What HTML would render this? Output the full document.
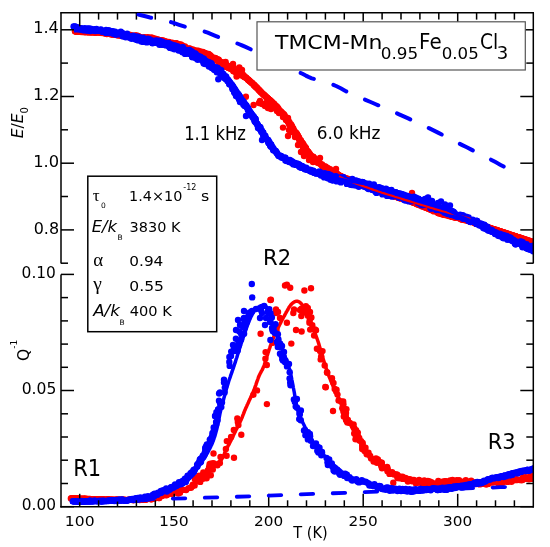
<!DOCTYPE html>
<html><head><meta charset="utf-8"><style>
html,body{margin:0;padding:0;background:#fff;}
#c{position:relative;width:550px;height:547px;overflow:hidden;}
#c svg{position:absolute;left:0;top:0;}
</style></head><body><div id="c">
<svg width="550" height="547" viewBox="0 0 550 547">
<defs><clipPath id="cu"><rect x="61.0" y="12.8" width="472.29999999999995" height="250.7"/></clipPath><clipPath id="cl"><rect x="61.0" y="264.4" width="472.29999999999995" height="242.40000000000003"/></clipPath></defs>
<rect width="550" height="547" fill="#fff"/>
<g fill="#ff0000" clip-path="url(#cu)"><circle cx="75.2" cy="31.3" r="3.2"/><circle cx="75.0" cy="31.2" r="3.2"/><circle cx="76.0" cy="31.2" r="3.2"/><circle cx="75.9" cy="31.2" r="3.2"/><circle cx="76.9" cy="31.2" r="3.2"/><circle cx="76.6" cy="31.8" r="3.2"/><circle cx="78.4" cy="31.7" r="3.2"/><circle cx="77.9" cy="31.6" r="3.2"/><circle cx="79.4" cy="31.2" r="3.2"/><circle cx="79.6" cy="31.3" r="3.2"/><circle cx="80.3" cy="31.4" r="3.2"/><circle cx="81.1" cy="31.7" r="3.2"/><circle cx="81.1" cy="31.5" r="3.2"/><circle cx="81.7" cy="31.2" r="3.2"/><circle cx="81.9" cy="31.8" r="3.2"/><circle cx="83.0" cy="31.8" r="3.2"/><circle cx="83.3" cy="31.4" r="3.2"/><circle cx="84.1" cy="31.4" r="3.2"/><circle cx="85.2" cy="32.2" r="3.2"/><circle cx="85.5" cy="31.5" r="3.2"/><circle cx="86.3" cy="31.6" r="3.2"/><circle cx="86.0" cy="31.3" r="3.2"/><circle cx="87.3" cy="32.0" r="3.2"/><circle cx="87.4" cy="31.8" r="3.2"/><circle cx="88.1" cy="32.0" r="3.2"/><circle cx="88.0" cy="31.9" r="3.2"/><circle cx="89.0" cy="32.4" r="3.2"/><circle cx="90.2" cy="31.1" r="3.2"/><circle cx="91.3" cy="32.6" r="3.2"/><circle cx="92.2" cy="31.7" r="3.2"/><circle cx="92.0" cy="31.1" r="3.2"/><circle cx="92.6" cy="31.2" r="3.2"/><circle cx="92.6" cy="32.3" r="3.2"/><circle cx="94.4" cy="31.7" r="3.2"/><circle cx="94.0" cy="31.1" r="3.2"/><circle cx="95.3" cy="32.6" r="3.2"/><circle cx="94.8" cy="32.6" r="3.2"/><circle cx="96.4" cy="31.7" r="3.2"/><circle cx="95.6" cy="32.8" r="3.2"/><circle cx="96.7" cy="31.4" r="3.2"/><circle cx="97.1" cy="31.9" r="3.2"/><circle cx="97.9" cy="31.0" r="3.2"/><circle cx="98.1" cy="31.7" r="3.2"/><circle cx="99.0" cy="32.4" r="3.2"/><circle cx="99.5" cy="32.3" r="3.2"/><circle cx="101.3" cy="32.8" r="3.2"/><circle cx="101.9" cy="32.0" r="3.2"/><circle cx="102.5" cy="32.6" r="3.2"/><circle cx="102.8" cy="31.4" r="3.2"/><circle cx="103.6" cy="32.1" r="3.2"/><circle cx="103.8" cy="31.4" r="3.2"/><circle cx="104.6" cy="32.3" r="3.2"/><circle cx="105.0" cy="33.5" r="3.2"/><circle cx="105.9" cy="32.2" r="3.2"/><circle cx="105.7" cy="32.5" r="3.2"/><circle cx="106.8" cy="34.0" r="3.2"/><circle cx="107.7" cy="32.1" r="3.2"/><circle cx="107.8" cy="32.7" r="3.2"/><circle cx="108.6" cy="32.4" r="3.2"/><circle cx="109.6" cy="33.4" r="3.2"/><circle cx="111.2" cy="32.4" r="3.2"/><circle cx="111.2" cy="34.6" r="3.2"/><circle cx="111.9" cy="33.0" r="3.2"/><circle cx="112.9" cy="34.4" r="3.2"/><circle cx="112.7" cy="34.4" r="3.2"/><circle cx="114.4" cy="34.7" r="3.2"/><circle cx="114.2" cy="34.7" r="3.2"/><circle cx="114.7" cy="34.5" r="3.2"/><circle cx="115.6" cy="33.7" r="3.2"/><circle cx="115.9" cy="33.0" r="3.2"/><circle cx="117.4" cy="34.8" r="3.2"/><circle cx="117.4" cy="34.2" r="3.2"/><circle cx="117.7" cy="35.5" r="3.2"/><circle cx="118.8" cy="33.8" r="3.2"/><circle cx="119.2" cy="33.8" r="3.2"/><circle cx="119.9" cy="35.5" r="3.2"/><circle cx="120.5" cy="35.5" r="3.2"/><circle cx="122.1" cy="36.0" r="3.2"/><circle cx="122.7" cy="35.0" r="3.2"/><circle cx="124.4" cy="34.8" r="3.2"/><circle cx="124.9" cy="35.1" r="3.2"/><circle cx="125.6" cy="36.0" r="3.2"/><circle cx="127.5" cy="34.8" r="3.2"/><circle cx="126.5" cy="36.3" r="3.2"/><circle cx="128.0" cy="37.0" r="3.2"/><circle cx="128.6" cy="35.9" r="3.2"/><circle cx="129.6" cy="34.7" r="3.2"/><circle cx="130.4" cy="36.1" r="3.2"/><circle cx="131.2" cy="37.1" r="3.2"/><circle cx="130.9" cy="35.4" r="3.2"/><circle cx="132.2" cy="35.6" r="3.2"/><circle cx="132.0" cy="35.6" r="3.2"/><circle cx="132.7" cy="37.4" r="3.2"/><circle cx="133.1" cy="36.3" r="3.2"/><circle cx="134.4" cy="36.4" r="3.2"/><circle cx="135.0" cy="36.7" r="3.2"/><circle cx="135.1" cy="35.4" r="3.2"/><circle cx="136.5" cy="35.5" r="3.2"/><circle cx="136.1" cy="35.9" r="3.2"/><circle cx="136.8" cy="37.0" r="3.2"/><circle cx="138.3" cy="37.2" r="3.2"/><circle cx="138.2" cy="36.0" r="3.2"/><circle cx="139.3" cy="36.6" r="3.2"/><circle cx="139.1" cy="37.2" r="3.2"/><circle cx="139.8" cy="38.4" r="3.2"/><circle cx="141.0" cy="37.4" r="3.2"/><circle cx="142.0" cy="37.4" r="3.2"/><circle cx="143.0" cy="38.9" r="3.2"/><circle cx="143.3" cy="38.7" r="3.2"/><circle cx="144.4" cy="38.0" r="3.2"/><circle cx="143.5" cy="38.6" r="3.2"/><circle cx="144.6" cy="37.7" r="3.2"/><circle cx="144.7" cy="37.2" r="3.2"/><circle cx="146.3" cy="38.9" r="3.2"/><circle cx="147.1" cy="38.8" r="3.2"/><circle cx="147.5" cy="37.3" r="3.2"/><circle cx="148.5" cy="37.7" r="3.2"/><circle cx="149.5" cy="38.5" r="3.2"/><circle cx="148.6" cy="39.3" r="3.2"/><circle cx="149.8" cy="38.6" r="3.2"/><circle cx="150.0" cy="37.8" r="3.2"/><circle cx="151.3" cy="37.6" r="3.2"/><circle cx="152.1" cy="37.8" r="3.2"/><circle cx="151.9" cy="39.4" r="3.2"/><circle cx="153.0" cy="40.6" r="3.2"/><circle cx="152.3" cy="40.4" r="3.2"/><circle cx="154.6" cy="38.5" r="3.2"/><circle cx="153.8" cy="38.9" r="3.2"/><circle cx="155.1" cy="40.9" r="3.2"/><circle cx="154.8" cy="39.1" r="3.2"/><circle cx="156.2" cy="40.3" r="3.2"/><circle cx="157.5" cy="39.2" r="3.2"/><circle cx="156.6" cy="40.0" r="3.2"/><circle cx="158.2" cy="40.9" r="3.2"/><circle cx="158.4" cy="41.6" r="3.2"/><circle cx="158.7" cy="41.7" r="3.2"/><circle cx="160.4" cy="41.2" r="3.2"/><circle cx="159.8" cy="40.3" r="3.2"/><circle cx="160.8" cy="40.5" r="3.2"/><circle cx="160.8" cy="40.3" r="3.2"/><circle cx="161.9" cy="40.9" r="3.2"/><circle cx="161.6" cy="42.1" r="3.2"/><circle cx="163.0" cy="40.8" r="3.2"/><circle cx="163.0" cy="40.4" r="3.2"/><circle cx="163.9" cy="42.5" r="3.2"/><circle cx="164.2" cy="41.1" r="3.2"/><circle cx="165.5" cy="41.2" r="3.2"/><circle cx="166.3" cy="42.4" r="3.2"/><circle cx="166.1" cy="42.1" r="3.2"/><circle cx="166.6" cy="43.8" r="3.2"/><circle cx="168.0" cy="43.4" r="3.2"/><circle cx="168.7" cy="42.5" r="3.2"/><circle cx="168.8" cy="42.0" r="3.2"/><circle cx="169.8" cy="42.6" r="3.2"/><circle cx="171.2" cy="44.4" r="3.2"/><circle cx="170.7" cy="43.9" r="3.2"/><circle cx="172.1" cy="43.2" r="3.2"/><circle cx="172.1" cy="42.8" r="3.2"/><circle cx="173.2" cy="45.2" r="3.2"/><circle cx="172.7" cy="44.0" r="3.2"/><circle cx="174.0" cy="43.6" r="3.2"/><circle cx="175.0" cy="44.1" r="3.2"/><circle cx="174.7" cy="44.3" r="3.2"/><circle cx="176.1" cy="43.3" r="3.2"/><circle cx="176.1" cy="43.5" r="3.2"/><circle cx="177.1" cy="43.6" r="3.2"/><circle cx="177.2" cy="44.2" r="3.2"/><circle cx="178.0" cy="45.7" r="3.2"/><circle cx="178.2" cy="45.7" r="3.2"/><circle cx="179.6" cy="44.9" r="3.2"/><circle cx="179.4" cy="44.4" r="3.2"/><circle cx="180.8" cy="44.5" r="3.2"/><circle cx="181.1" cy="46.3" r="3.2"/><circle cx="182.3" cy="45.5" r="3.2"/><circle cx="183.0" cy="47.5" r="3.2"/><circle cx="182.8" cy="47.4" r="3.2"/><circle cx="184.0" cy="47.5" r="3.2"/><circle cx="185.0" cy="46.4" r="3.2"/><circle cx="184.7" cy="47.1" r="3.2"/><circle cx="186.1" cy="48.1" r="3.2"/><circle cx="186.9" cy="48.6" r="3.2"/><circle cx="188.0" cy="49.3" r="3.2"/><circle cx="188.0" cy="48.7" r="3.2"/><circle cx="189.5" cy="48.5" r="3.2"/><circle cx="189.9" cy="48.8" r="3.2"/><circle cx="189.6" cy="49.8" r="3.2"/><circle cx="190.8" cy="50.5" r="3.2"/><circle cx="192.2" cy="50.0" r="3.2"/><circle cx="192.0" cy="50.4" r="3.2"/><circle cx="192.8" cy="49.5" r="3.2"/><circle cx="193.7" cy="50.8" r="3.2"/><circle cx="193.5" cy="50.5" r="3.2"/><circle cx="195.3" cy="50.4" r="3.2"/><circle cx="195.1" cy="51.1" r="3.2"/><circle cx="196.0" cy="51.0" r="3.2"/><circle cx="195.6" cy="50.9" r="3.2"/><circle cx="197.6" cy="50.9" r="3.2"/><circle cx="198.1" cy="50.7" r="3.2"/><circle cx="198.8" cy="52.5" r="3.2"/><circle cx="200.6" cy="51.7" r="3.2"/><circle cx="200.2" cy="51.6" r="3.2"/><circle cx="201.4" cy="52.5" r="3.2"/><circle cx="201.5" cy="51.9" r="3.2"/><circle cx="202.0" cy="53.4" r="3.2"/><circle cx="202.5" cy="52.4" r="3.2"/><circle cx="202.8" cy="52.0" r="3.2"/><circle cx="203.0" cy="53.0" r="3.2"/><circle cx="204.1" cy="52.7" r="3.2"/><circle cx="204.4" cy="53.2" r="3.2"/><circle cx="205.1" cy="54.4" r="3.2"/><circle cx="205.7" cy="53.1" r="3.2"/><circle cx="205.5" cy="54.9" r="3.2"/><circle cx="207.6" cy="54.4" r="3.2"/><circle cx="206.8" cy="54.6" r="3.2"/><circle cx="207.8" cy="54.1" r="3.2"/><circle cx="208.6" cy="54.0" r="3.2"/><circle cx="208.4" cy="56.1" r="3.2"/><circle cx="209.2" cy="54.6" r="3.2"/><circle cx="210.6" cy="55.5" r="3.2"/><circle cx="209.7" cy="56.5" r="3.2"/><circle cx="210.7" cy="57.2" r="3.2"/><circle cx="211.1" cy="56.9" r="3.2"/><circle cx="211.4" cy="57.2" r="3.2"/><circle cx="212.3" cy="57.5" r="3.2"/><circle cx="212.7" cy="58.6" r="3.2"/><circle cx="213.5" cy="57.7" r="3.2"/><circle cx="214.6" cy="59.2" r="3.2"/><circle cx="215.0" cy="58.0" r="3.2"/><circle cx="215.3" cy="59.1" r="3.2"/><circle cx="215.6" cy="58.1" r="3.2"/><circle cx="215.8" cy="60.5" r="3.2"/><circle cx="217.1" cy="59.2" r="3.2"/><circle cx="217.0" cy="59.9" r="3.2"/><circle cx="218.6" cy="59.8" r="3.2"/><circle cx="218.5" cy="59.8" r="3.2"/><circle cx="219.3" cy="61.8" r="3.2"/><circle cx="218.7" cy="61.9" r="3.2"/><circle cx="219.9" cy="62.0" r="3.2"/><circle cx="219.8" cy="61.4" r="3.2"/><circle cx="220.0" cy="63.4" r="3.2"/><circle cx="221.0" cy="62.6" r="3.2"/><circle cx="222.0" cy="62.3" r="3.2"/><circle cx="222.8" cy="63.4" r="3.2"/><circle cx="222.4" cy="64.8" r="3.2"/><circle cx="223.9" cy="62.9" r="3.2"/><circle cx="224.0" cy="65.6" r="3.2"/><circle cx="226.0" cy="64.1" r="3.2"/><circle cx="225.2" cy="66.4" r="3.2"/><circle cx="225.5" cy="66.7" r="3.2"/><circle cx="227.8" cy="65.6" r="3.2"/><circle cx="227.4" cy="67.0" r="3.2"/><circle cx="228.2" cy="67.4" r="3.2"/><circle cx="228.6" cy="67.3" r="3.2"/><circle cx="228.5" cy="67.9" r="3.2"/><circle cx="229.7" cy="68.3" r="3.2"/><circle cx="231.4" cy="67.8" r="3.2"/><circle cx="230.4" cy="68.8" r="3.2"/><circle cx="232.0" cy="69.0" r="3.2"/><circle cx="231.9" cy="68.4" r="3.2"/><circle cx="233.5" cy="67.7" r="3.2"/><circle cx="233.5" cy="71.3" r="3.2"/><circle cx="233.4" cy="71.0" r="3.2"/><circle cx="235.8" cy="69.5" r="3.2"/><circle cx="234.5" cy="70.8" r="3.2"/><circle cx="236.2" cy="70.7" r="3.2"/><circle cx="235.9" cy="70.2" r="3.2"/><circle cx="236.0" cy="72.6" r="3.2"/><circle cx="238.4" cy="70.9" r="3.2"/><circle cx="237.2" cy="72.0" r="3.2"/><circle cx="238.3" cy="73.0" r="3.2"/><circle cx="238.7" cy="74.1" r="3.2"/><circle cx="238.9" cy="73.6" r="3.2"/><circle cx="240.1" cy="74.1" r="3.2"/><circle cx="239.9" cy="74.6" r="3.2"/><circle cx="241.9" cy="73.7" r="3.2"/><circle cx="241.7" cy="74.9" r="3.2"/><circle cx="242.4" cy="74.7" r="3.2"/><circle cx="241.7" cy="75.4" r="3.2"/><circle cx="243.6" cy="75.2" r="3.2"/><circle cx="243.4" cy="76.3" r="3.2"/><circle cx="244.4" cy="76.9" r="3.2"/><circle cx="245.5" cy="77.2" r="3.2"/><circle cx="244.6" cy="76.8" r="3.2"/><circle cx="245.8" cy="77.6" r="3.2"/><circle cx="246.3" cy="78.0" r="3.2"/><circle cx="246.5" cy="78.2" r="3.2"/><circle cx="247.8" cy="79.3" r="3.2"/><circle cx="248.4" cy="79.9" r="3.2"/><circle cx="248.1" cy="79.7" r="3.2"/><circle cx="248.8" cy="80.3" r="3.2"/><circle cx="248.7" cy="80.2" r="3.2"/><circle cx="249.3" cy="80.7" r="3.2"/><circle cx="249.9" cy="81.2" r="3.2"/><circle cx="250.1" cy="81.4" r="3.2"/><circle cx="251.0" cy="82.2" r="3.2"/><circle cx="251.5" cy="82.6" r="3.2"/><circle cx="252.3" cy="83.3" r="3.2"/><circle cx="251.8" cy="82.8" r="3.2"/><circle cx="252.6" cy="83.6" r="3.2"/><circle cx="253.7" cy="84.8" r="3.2"/><circle cx="253.8" cy="84.8" r="3.2"/><circle cx="254.2" cy="85.2" r="3.2"/><circle cx="254.5" cy="85.5" r="3.2"/><circle cx="254.9" cy="85.9" r="3.2"/><circle cx="255.2" cy="86.2" r="3.2"/><circle cx="255.8" cy="86.8" r="3.2"/><circle cx="255.8" cy="86.9" r="3.2"/><circle cx="256.2" cy="87.3" r="3.2"/><circle cx="256.8" cy="87.8" r="3.2"/><circle cx="257.3" cy="88.3" r="3.2"/><circle cx="257.5" cy="88.5" r="3.2"/><circle cx="257.7" cy="88.7" r="3.2"/><circle cx="258.9" cy="89.9" r="3.2"/><circle cx="259.0" cy="90.0" r="3.2"/><circle cx="259.4" cy="90.5" r="3.2"/><circle cx="259.9" cy="91.0" r="3.2"/><circle cx="260.1" cy="91.2" r="3.2"/><circle cx="260.8" cy="91.9" r="3.2"/><circle cx="261.3" cy="92.4" r="3.2"/><circle cx="261.4" cy="92.4" r="3.2"/><circle cx="262.0" cy="93.1" r="3.2"/><circle cx="263.2" cy="94.3" r="3.2"/><circle cx="262.8" cy="93.9" r="3.2"/><circle cx="263.7" cy="94.7" r="3.2"/><circle cx="263.9" cy="94.9" r="3.2"/><circle cx="264.2" cy="95.1" r="3.2"/><circle cx="265.5" cy="96.3" r="3.2"/><circle cx="264.9" cy="95.8" r="3.2"/><circle cx="265.8" cy="96.6" r="3.2"/><circle cx="266.1" cy="96.9" r="3.2"/><circle cx="267.1" cy="97.8" r="3.2"/><circle cx="267.8" cy="98.4" r="3.2"/><circle cx="267.3" cy="98.0" r="3.2"/><circle cx="268.2" cy="98.8" r="3.2"/><circle cx="268.1" cy="98.7" r="3.2"/><circle cx="269.3" cy="99.7" r="3.2"/><circle cx="268.9" cy="99.5" r="3.2"/><circle cx="270.1" cy="100.5" r="3.2"/><circle cx="269.9" cy="100.2" r="3.2"/><circle cx="270.7" cy="101.2" r="3.2"/><circle cx="270.6" cy="100.7" r="3.2"/><circle cx="271.6" cy="101.9" r="3.2"/><circle cx="271.4" cy="101.4" r="3.2"/><circle cx="272.2" cy="102.3" r="3.2"/><circle cx="272.8" cy="103.2" r="3.2"/><circle cx="273.0" cy="103.1" r="3.2"/><circle cx="274.1" cy="104.4" r="3.2"/><circle cx="273.8" cy="103.6" r="3.2"/><circle cx="274.4" cy="104.2" r="3.2"/><circle cx="275.5" cy="105.6" r="3.2"/><circle cx="275.6" cy="106.3" r="3.2"/><circle cx="275.8" cy="105.6" r="3.2"/><circle cx="276.8" cy="107.3" r="3.2"/><circle cx="276.9" cy="106.8" r="3.2"/><circle cx="277.0" cy="107.4" r="3.2"/><circle cx="277.4" cy="107.5" r="3.2"/><circle cx="278.2" cy="108.1" r="3.2"/><circle cx="278.0" cy="109.3" r="3.2"/><circle cx="279.2" cy="110.6" r="3.2"/><circle cx="279.0" cy="109.6" r="3.2"/><circle cx="280.3" cy="110.9" r="3.2"/><circle cx="280.0" cy="111.5" r="3.2"/><circle cx="281.5" cy="111.9" r="3.2"/><circle cx="281.3" cy="113.0" r="3.2"/><circle cx="282.7" cy="113.6" r="3.2"/><circle cx="282.5" cy="113.3" r="3.2"/><circle cx="283.2" cy="115.1" r="3.2"/><circle cx="283.8" cy="114.2" r="3.2"/><circle cx="284.6" cy="115.3" r="3.2"/><circle cx="284.3" cy="116.4" r="3.2"/><circle cx="284.2" cy="116.2" r="3.2"/><circle cx="284.9" cy="117.2" r="3.2"/><circle cx="284.8" cy="117.2" r="3.2"/><circle cx="286.4" cy="117.6" r="3.2"/><circle cx="285.5" cy="117.8" r="3.2"/><circle cx="285.9" cy="119.1" r="3.2"/><circle cx="286.7" cy="119.4" r="3.2"/><circle cx="287.4" cy="119.3" r="3.2"/><circle cx="287.6" cy="120.5" r="3.2"/><circle cx="288.2" cy="120.2" r="3.2"/><circle cx="288.0" cy="121.9" r="3.2"/><circle cx="287.9" cy="121.1" r="3.2"/><circle cx="289.2" cy="122.5" r="3.2"/><circle cx="289.4" cy="122.2" r="3.2"/><circle cx="289.3" cy="123.6" r="3.2"/><circle cx="289.3" cy="124.4" r="3.2"/><circle cx="289.6" cy="124.7" r="3.2"/><circle cx="290.4" cy="125.5" r="3.2"/><circle cx="291.1" cy="124.4" r="3.2"/><circle cx="291.8" cy="125.9" r="3.2"/><circle cx="291.0" cy="126.7" r="3.2"/><circle cx="291.8" cy="127.1" r="3.2"/><circle cx="292.5" cy="127.4" r="3.2"/><circle cx="292.2" cy="127.1" r="3.2"/><circle cx="293.4" cy="128.6" r="3.2"/><circle cx="292.7" cy="129.0" r="3.2"/><circle cx="292.7" cy="129.4" r="3.2"/><circle cx="293.3" cy="129.6" r="3.2"/><circle cx="293.3" cy="130.7" r="3.2"/><circle cx="293.9" cy="130.8" r="3.2"/><circle cx="293.8" cy="131.8" r="3.2"/><circle cx="294.7" cy="131.4" r="3.2"/><circle cx="294.3" cy="132.7" r="3.2"/><circle cx="295.2" cy="132.3" r="3.2"/><circle cx="296.0" cy="133.0" r="3.2"/><circle cx="296.2" cy="133.0" r="3.2"/><circle cx="296.1" cy="134.5" r="3.2"/><circle cx="296.0" cy="134.2" r="3.2"/><circle cx="297.0" cy="134.0" r="3.2"/><circle cx="297.1" cy="134.6" r="3.2"/><circle cx="297.3" cy="136.0" r="3.2"/><circle cx="297.4" cy="135.1" r="3.2"/><circle cx="298.0" cy="135.7" r="3.2"/><circle cx="298.6" cy="136.9" r="3.2"/><circle cx="298.6" cy="137.2" r="3.2"/><circle cx="299.2" cy="138.1" r="3.2"/><circle cx="298.5" cy="137.9" r="3.2"/><circle cx="299.4" cy="138.6" r="3.2"/><circle cx="299.8" cy="140.4" r="3.2"/><circle cx="299.3" cy="140.1" r="3.2"/><circle cx="301.0" cy="140.5" r="3.2"/><circle cx="300.1" cy="140.7" r="3.2"/><circle cx="301.2" cy="141.9" r="3.2"/><circle cx="301.9" cy="142.6" r="3.2"/><circle cx="301.8" cy="143.3" r="3.2"/><circle cx="302.0" cy="142.7" r="3.2"/><circle cx="303.1" cy="143.8" r="3.2"/><circle cx="303.3" cy="144.4" r="3.2"/><circle cx="303.7" cy="146.0" r="3.2"/><circle cx="304.5" cy="146.2" r="3.2"/><circle cx="305.6" cy="147.4" r="3.2"/><circle cx="304.5" cy="147.9" r="3.2"/><circle cx="305.0" cy="148.9" r="3.2"/><circle cx="305.5" cy="148.5" r="3.2"/><circle cx="306.0" cy="148.6" r="3.2"/><circle cx="306.0" cy="148.5" r="3.2"/><circle cx="306.3" cy="150.4" r="3.2"/><circle cx="306.2" cy="150.5" r="3.2"/><circle cx="307.0" cy="150.8" r="3.2"/><circle cx="306.7" cy="151.1" r="3.2"/><circle cx="307.7" cy="152.2" r="3.2"/><circle cx="308.3" cy="151.7" r="3.2"/><circle cx="308.4" cy="152.1" r="3.2"/><circle cx="308.2" cy="153.1" r="3.2"/><circle cx="309.3" cy="153.5" r="3.2"/><circle cx="310.0" cy="154.3" r="3.2"/><circle cx="309.4" cy="154.4" r="3.2"/><circle cx="309.5" cy="155.5" r="3.2"/><circle cx="310.8" cy="156.2" r="3.2"/><circle cx="311.4" cy="156.7" r="3.2"/><circle cx="311.5" cy="156.0" r="3.2"/><circle cx="313.1" cy="156.8" r="3.2"/><circle cx="313.3" cy="156.9" r="3.2"/><circle cx="312.5" cy="158.2" r="3.2"/><circle cx="314.0" cy="157.6" r="3.2"/><circle cx="313.7" cy="158.8" r="3.2"/><circle cx="314.0" cy="159.1" r="3.2"/><circle cx="315.8" cy="159.9" r="3.2"/><circle cx="315.3" cy="160.5" r="3.2"/><circle cx="316.1" cy="161.3" r="3.2"/><circle cx="315.4" cy="160.8" r="3.2"/><circle cx="317.0" cy="160.5" r="3.2"/><circle cx="316.8" cy="161.9" r="3.2"/><circle cx="317.4" cy="162.4" r="3.2"/><circle cx="318.6" cy="161.9" r="3.2"/><circle cx="318.0" cy="162.7" r="3.2"/><circle cx="319.0" cy="162.9" r="3.2"/><circle cx="319.3" cy="162.9" r="3.2"/><circle cx="320.0" cy="163.7" r="3.2"/><circle cx="321.2" cy="164.7" r="3.2"/><circle cx="322.1" cy="164.4" r="3.2"/><circle cx="322.4" cy="165.9" r="3.2"/><circle cx="322.6" cy="165.9" r="3.2"/><circle cx="323.0" cy="166.5" r="3.2"/><circle cx="323.1" cy="166.5" r="3.2"/><circle cx="325.0" cy="166.5" r="3.2"/><circle cx="323.7" cy="167.1" r="3.2"/><circle cx="325.7" cy="167.4" r="3.2"/><circle cx="325.7" cy="166.8" r="3.2"/><circle cx="325.9" cy="168.2" r="3.2"/><circle cx="325.8" cy="168.3" r="3.2"/><circle cx="327.1" cy="168.6" r="3.2"/><circle cx="327.7" cy="167.9" r="3.2"/><circle cx="328.1" cy="169.4" r="3.2"/><circle cx="328.1" cy="169.4" r="3.2"/><circle cx="329.1" cy="169.3" r="3.2"/><circle cx="328.4" cy="169.8" r="3.2"/><circle cx="330.1" cy="169.2" r="3.2"/><circle cx="330.6" cy="171.1" r="3.2"/><circle cx="331.3" cy="170.6" r="3.2"/><circle cx="331.9" cy="171.1" r="3.2"/><circle cx="331.8" cy="171.5" r="3.2"/><circle cx="332.7" cy="171.4" r="3.2"/><circle cx="333.6" cy="172.6" r="3.2"/><circle cx="333.2" cy="172.3" r="3.2"/><circle cx="334.5" cy="173.0" r="3.2"/><circle cx="334.7" cy="172.3" r="3.2"/><circle cx="335.3" cy="172.9" r="3.2"/><circle cx="336.6" cy="174.2" r="3.2"/><circle cx="336.2" cy="173.4" r="3.2"/><circle cx="337.4" cy="174.2" r="3.2"/><circle cx="337.3" cy="174.0" r="3.2"/><circle cx="338.2" cy="175.3" r="3.2"/><circle cx="338.7" cy="174.9" r="3.2"/><circle cx="339.5" cy="175.6" r="3.2"/><circle cx="339.2" cy="175.7" r="3.2"/><circle cx="340.2" cy="175.9" r="3.2"/><circle cx="339.8" cy="175.7" r="3.2"/><circle cx="340.9" cy="176.1" r="3.2"/><circle cx="341.0" cy="176.6" r="3.2"/><circle cx="341.8" cy="176.8" r="3.2"/><circle cx="342.0" cy="176.6" r="3.2"/><circle cx="343.1" cy="177.4" r="3.2"/><circle cx="342.9" cy="177.1" r="3.2"/><circle cx="343.5" cy="177.3" r="3.2"/><circle cx="344.8" cy="178.2" r="3.2"/><circle cx="345.7" cy="178.5" r="3.2"/><circle cx="346.3" cy="178.5" r="3.2"/><circle cx="347.5" cy="178.7" r="3.2"/><circle cx="348.4" cy="179.5" r="3.2"/><circle cx="349.3" cy="179.7" r="3.2"/><circle cx="349.2" cy="179.8" r="3.2"/><circle cx="349.8" cy="180.2" r="3.2"/><circle cx="351.0" cy="180.6" r="3.2"/><circle cx="351.6" cy="180.9" r="3.2"/><circle cx="351.8" cy="180.7" r="3.2"/><circle cx="352.9" cy="181.5" r="3.2"/><circle cx="354.0" cy="181.6" r="3.2"/><circle cx="353.9" cy="181.7" r="3.2"/><circle cx="354.8" cy="182.1" r="3.2"/><circle cx="355.4" cy="182.5" r="3.2"/><circle cx="355.7" cy="182.4" r="3.2"/><circle cx="357.3" cy="182.7" r="3.2"/><circle cx="357.6" cy="182.7" r="3.2"/><circle cx="357.2" cy="182.8" r="3.2"/><circle cx="358.8" cy="183.5" r="3.2"/><circle cx="358.4" cy="183.3" r="3.2"/><circle cx="359.9" cy="184.1" r="3.2"/><circle cx="359.3" cy="183.7" r="3.2"/><circle cx="360.2" cy="184.0" r="3.2"/><circle cx="361.6" cy="184.8" r="3.2"/><circle cx="361.3" cy="184.6" r="3.2"/><circle cx="362.8" cy="184.9" r="3.2"/><circle cx="362.5" cy="184.9" r="3.2"/><circle cx="363.2" cy="185.5" r="3.2"/><circle cx="363.8" cy="185.6" r="3.2"/><circle cx="364.0" cy="185.8" r="3.2"/><circle cx="365.1" cy="185.9" r="3.2"/><circle cx="365.8" cy="186.3" r="3.2"/><circle cx="366.4" cy="186.2" r="3.2"/><circle cx="366.8" cy="186.6" r="3.2"/><circle cx="366.9" cy="186.8" r="3.2"/><circle cx="367.7" cy="187.2" r="3.2"/><circle cx="368.3" cy="187.6" r="3.2"/><circle cx="369.9" cy="188.2" r="3.2"/><circle cx="370.7" cy="188.5" r="3.2"/><circle cx="370.4" cy="187.8" r="3.2"/><circle cx="371.4" cy="188.6" r="3.2"/><circle cx="372.4" cy="188.7" r="3.2"/><circle cx="372.4" cy="189.1" r="3.2"/><circle cx="373.7" cy="189.7" r="3.2"/><circle cx="373.9" cy="189.4" r="3.2"/><circle cx="374.5" cy="190.0" r="3.2"/><circle cx="375.6" cy="190.4" r="3.2"/><circle cx="376.3" cy="190.6" r="3.2"/><circle cx="376.2" cy="190.6" r="3.2"/><circle cx="377.0" cy="190.8" r="3.2"/><circle cx="378.2" cy="191.1" r="3.2"/><circle cx="378.2" cy="191.0" r="3.2"/><circle cx="379.1" cy="191.6" r="3.2"/><circle cx="379.4" cy="191.8" r="3.2"/><circle cx="379.9" cy="192.2" r="3.2"/><circle cx="380.1" cy="192.1" r="3.2"/><circle cx="380.9" cy="192.2" r="3.2"/><circle cx="382.1" cy="192.4" r="3.2"/><circle cx="383.1" cy="192.6" r="3.2"/><circle cx="383.6" cy="193.4" r="3.2"/><circle cx="384.8" cy="193.5" r="3.2"/><circle cx="386.1" cy="193.5" r="3.2"/><circle cx="387.1" cy="194.0" r="3.2"/><circle cx="387.8" cy="194.3" r="3.2"/><circle cx="387.4" cy="194.4" r="3.2"/><circle cx="388.8" cy="194.6" r="3.2"/><circle cx="388.5" cy="194.7" r="3.2"/><circle cx="389.7" cy="194.8" r="3.2"/><circle cx="391.1" cy="195.3" r="3.2"/><circle cx="390.9" cy="195.4" r="3.2"/><circle cx="391.5" cy="195.3" r="3.2"/><circle cx="391.7" cy="195.6" r="3.2"/><circle cx="392.9" cy="195.6" r="3.2"/><circle cx="393.1" cy="196.0" r="3.2"/><circle cx="394.3" cy="196.0" r="3.2"/><circle cx="394.5" cy="196.6" r="3.2"/><circle cx="395.8" cy="196.9" r="3.2"/><circle cx="396.6" cy="197.0" r="3.2"/><circle cx="397.6" cy="197.3" r="3.2"/><circle cx="398.3" cy="197.6" r="3.2"/><circle cx="398.0" cy="197.6" r="3.2"/><circle cx="399.7" cy="197.6" r="3.2"/><circle cx="399.4" cy="198.1" r="3.2"/><circle cx="400.5" cy="198.4" r="3.2"/><circle cx="400.1" cy="198.1" r="3.2"/><circle cx="401.1" cy="198.3" r="3.2"/><circle cx="401.4" cy="198.4" r="3.2"/><circle cx="402.4" cy="198.4" r="3.2"/><circle cx="403.6" cy="198.8" r="3.2"/><circle cx="403.6" cy="199.1" r="3.2"/><circle cx="404.2" cy="198.9" r="3.2"/><circle cx="404.6" cy="199.4" r="3.2"/><circle cx="405.1" cy="199.5" r="3.2"/><circle cx="405.8" cy="199.8" r="3.2"/><circle cx="405.7" cy="199.5" r="3.2"/><circle cx="406.7" cy="200.1" r="3.2"/><circle cx="406.6" cy="200.3" r="3.2"/><circle cx="407.7" cy="200.1" r="3.2"/><circle cx="409.3" cy="200.6" r="3.2"/><circle cx="410.4" cy="200.9" r="3.2"/><circle cx="410.3" cy="201.3" r="3.2"/><circle cx="411.2" cy="201.2" r="3.2"/><circle cx="412.3" cy="201.9" r="3.2"/><circle cx="412.9" cy="202.5" r="3.2"/><circle cx="412.5" cy="201.6" r="3.2"/><circle cx="413.3" cy="202.6" r="3.2"/><circle cx="414.3" cy="202.9" r="3.2"/><circle cx="414.6" cy="203.1" r="3.2"/><circle cx="415.7" cy="203.2" r="3.2"/><circle cx="415.8" cy="203.3" r="3.2"/><circle cx="416.3" cy="203.8" r="3.2"/><circle cx="416.6" cy="203.8" r="3.2"/><circle cx="417.8" cy="204.0" r="3.2"/><circle cx="417.6" cy="204.5" r="3.2"/><circle cx="418.1" cy="204.0" r="3.2"/><circle cx="418.5" cy="204.8" r="3.2"/><circle cx="419.5" cy="204.6" r="3.2"/><circle cx="420.3" cy="205.5" r="3.2"/><circle cx="421.6" cy="205.6" r="3.2"/><circle cx="421.5" cy="205.5" r="3.2"/><circle cx="422.3" cy="206.4" r="3.2"/><circle cx="423.1" cy="205.7" r="3.2"/><circle cx="423.2" cy="206.2" r="3.2"/><circle cx="423.5" cy="206.8" r="3.2"/><circle cx="425.2" cy="207.5" r="3.2"/><circle cx="426.4" cy="207.3" r="3.2"/><circle cx="426.0" cy="207.8" r="3.2"/><circle cx="426.6" cy="207.4" r="3.2"/><circle cx="427.4" cy="208.3" r="3.2"/><circle cx="428.1" cy="208.6" r="3.2"/><circle cx="428.9" cy="208.7" r="3.2"/><circle cx="428.5" cy="208.4" r="3.2"/><circle cx="429.8" cy="209.3" r="3.2"/><circle cx="429.3" cy="208.7" r="3.2"/><circle cx="430.2" cy="209.5" r="3.2"/><circle cx="431.7" cy="210.3" r="3.2"/><circle cx="431.5" cy="209.6" r="3.2"/><circle cx="432.4" cy="209.5" r="3.2"/><circle cx="432.8" cy="209.7" r="3.2"/><circle cx="433.3" cy="210.4" r="3.2"/><circle cx="433.1" cy="210.3" r="3.2"/><circle cx="434.0" cy="211.4" r="3.2"/><circle cx="434.7" cy="210.3" r="3.2"/><circle cx="435.6" cy="210.7" r="3.2"/><circle cx="435.8" cy="211.3" r="3.2"/><circle cx="437.0" cy="211.0" r="3.2"/><circle cx="437.3" cy="211.9" r="3.2"/><circle cx="437.9" cy="212.6" r="3.2"/><circle cx="438.1" cy="213.0" r="3.2"/><circle cx="438.6" cy="213.2" r="3.2"/><circle cx="439.8" cy="212.5" r="3.2"/><circle cx="439.7" cy="212.2" r="3.2"/><circle cx="440.8" cy="213.8" r="3.2"/><circle cx="441.2" cy="214.1" r="3.2"/><circle cx="441.8" cy="213.6" r="3.2"/><circle cx="442.5" cy="213.0" r="3.2"/><circle cx="443.0" cy="213.9" r="3.2"/><circle cx="442.9" cy="214.5" r="3.2"/><circle cx="443.6" cy="213.9" r="3.2"/><circle cx="444.2" cy="214.9" r="3.2"/><circle cx="444.8" cy="213.5" r="3.2"/><circle cx="445.3" cy="214.2" r="3.2"/><circle cx="445.2" cy="215.0" r="3.2"/><circle cx="446.8" cy="215.2" r="3.2"/><circle cx="447.6" cy="214.3" r="3.2"/><circle cx="448.7" cy="216.0" r="3.2"/><circle cx="449.9" cy="215.8" r="3.2"/><circle cx="449.7" cy="214.9" r="3.2"/><circle cx="450.8" cy="215.3" r="3.2"/><circle cx="450.5" cy="215.3" r="3.2"/><circle cx="451.1" cy="216.2" r="3.2"/><circle cx="451.2" cy="216.4" r="3.2"/><circle cx="452.1" cy="216.9" r="3.2"/><circle cx="452.8" cy="217.1" r="3.2"/><circle cx="453.6" cy="216.0" r="3.2"/><circle cx="454.7" cy="217.6" r="3.2"/><circle cx="454.4" cy="217.1" r="3.2"/><circle cx="455.3" cy="217.6" r="3.2"/><circle cx="455.1" cy="217.2" r="3.2"/><circle cx="456.8" cy="216.8" r="3.2"/><circle cx="456.1" cy="217.4" r="3.2"/><circle cx="457.4" cy="217.3" r="3.2"/><circle cx="458.8" cy="217.6" r="3.2"/><circle cx="458.1" cy="217.6" r="3.2"/><circle cx="459.8" cy="218.0" r="3.2"/><circle cx="460.0" cy="217.7" r="3.2"/><circle cx="460.3" cy="219.1" r="3.2"/><circle cx="460.4" cy="218.0" r="3.2"/><circle cx="461.1" cy="218.2" r="3.2"/><circle cx="461.8" cy="218.6" r="3.2"/><circle cx="461.7" cy="219.5" r="3.2"/><circle cx="462.6" cy="219.7" r="3.2"/><circle cx="462.9" cy="219.5" r="3.2"/><circle cx="464.7" cy="218.8" r="3.2"/><circle cx="464.8" cy="219.0" r="3.2"/><circle cx="465.1" cy="220.2" r="3.2"/><circle cx="466.6" cy="220.0" r="3.2"/><circle cx="466.3" cy="219.6" r="3.2"/><circle cx="467.5" cy="219.8" r="3.2"/><circle cx="466.7" cy="220.5" r="3.2"/><circle cx="468.3" cy="219.9" r="3.2"/><circle cx="467.8" cy="220.4" r="3.2"/><circle cx="469.2" cy="221.0" r="3.2"/><circle cx="469.0" cy="221.2" r="3.2"/><circle cx="470.4" cy="220.4" r="3.2"/><circle cx="470.3" cy="220.9" r="3.2"/><circle cx="470.6" cy="221.7" r="3.2"/><circle cx="471.1" cy="222.0" r="3.2"/><circle cx="472.5" cy="221.1" r="3.2"/><circle cx="472.3" cy="221.8" r="3.2"/><circle cx="473.3" cy="221.7" r="3.2"/><circle cx="472.6" cy="221.7" r="3.2"/><circle cx="473.3" cy="222.3" r="3.2"/><circle cx="473.7" cy="222.3" r="3.2"/><circle cx="475.1" cy="222.3" r="3.2"/><circle cx="475.0" cy="223.2" r="3.2"/><circle cx="475.5" cy="223.2" r="3.2"/><circle cx="475.2" cy="223.2" r="3.2"/><circle cx="476.5" cy="223.9" r="3.2"/><circle cx="477.6" cy="223.7" r="3.2"/><circle cx="478.3" cy="223.3" r="3.2"/><circle cx="478.3" cy="223.5" r="3.2"/><circle cx="479.0" cy="223.8" r="3.2"/><circle cx="479.9" cy="224.0" r="3.2"/><circle cx="479.2" cy="223.9" r="3.2"/><circle cx="480.5" cy="224.8" r="3.2"/><circle cx="480.0" cy="224.7" r="3.2"/><circle cx="480.9" cy="225.1" r="3.2"/><circle cx="482.4" cy="225.3" r="3.2"/><circle cx="482.1" cy="225.0" r="3.2"/><circle cx="483.5" cy="225.4" r="3.2"/><circle cx="482.9" cy="225.9" r="3.2"/><circle cx="483.9" cy="226.1" r="3.2"/><circle cx="484.6" cy="226.4" r="3.2"/><circle cx="485.6" cy="226.4" r="3.2"/><circle cx="485.1" cy="226.3" r="3.2"/><circle cx="486.0" cy="226.8" r="3.2"/><circle cx="487.1" cy="226.9" r="3.2"/><circle cx="487.3" cy="227.4" r="3.2"/><circle cx="488.4" cy="227.7" r="3.2"/><circle cx="489.5" cy="227.8" r="3.2"/><circle cx="488.7" cy="227.8" r="3.2"/><circle cx="489.8" cy="228.0" r="3.2"/><circle cx="489.6" cy="227.9" r="3.2"/><circle cx="490.5" cy="228.2" r="3.2"/><circle cx="491.5" cy="228.3" r="3.2"/><circle cx="492.0" cy="228.9" r="3.2"/><circle cx="493.2" cy="229.3" r="3.2"/><circle cx="493.6" cy="229.2" r="3.2"/><circle cx="493.6" cy="229.3" r="3.2"/><circle cx="494.8" cy="229.8" r="3.2"/><circle cx="494.8" cy="229.5" r="3.2"/><circle cx="495.5" cy="230.0" r="3.2"/><circle cx="495.9" cy="229.8" r="3.2"/><circle cx="497.1" cy="230.4" r="3.2"/><circle cx="496.5" cy="230.1" r="3.2"/><circle cx="497.3" cy="230.4" r="3.2"/><circle cx="497.4" cy="230.2" r="3.2"/><circle cx="498.4" cy="230.7" r="3.2"/><circle cx="498.3" cy="230.6" r="3.2"/><circle cx="499.6" cy="231.3" r="3.2"/><circle cx="499.7" cy="231.2" r="3.2"/><circle cx="500.5" cy="231.5" r="3.2"/><circle cx="500.6" cy="231.5" r="3.2"/><circle cx="501.3" cy="231.6" r="3.2"/><circle cx="501.5" cy="231.7" r="3.2"/><circle cx="502.0" cy="231.9" r="3.2"/><circle cx="502.8" cy="232.1" r="3.2"/><circle cx="503.4" cy="232.4" r="3.2"/><circle cx="503.9" cy="232.5" r="3.2"/><circle cx="504.0" cy="232.7" r="3.2"/><circle cx="504.8" cy="232.7" r="3.2"/><circle cx="505.3" cy="232.9" r="3.2"/><circle cx="505.6" cy="233.1" r="3.2"/><circle cx="506.7" cy="233.4" r="3.2"/><circle cx="505.9" cy="233.3" r="3.2"/><circle cx="507.4" cy="233.6" r="3.2"/><circle cx="507.6" cy="233.8" r="3.2"/><circle cx="508.4" cy="234.0" r="3.2"/><circle cx="509.1" cy="234.3" r="3.2"/><circle cx="510.5" cy="234.7" r="3.2"/><circle cx="510.6" cy="234.8" r="3.2"/><circle cx="511.2" cy="234.9" r="3.2"/><circle cx="512.1" cy="235.3" r="3.2"/><circle cx="512.3" cy="235.3" r="3.2"/><circle cx="512.9" cy="235.5" r="3.2"/><circle cx="514.2" cy="235.9" r="3.2"/><circle cx="513.9" cy="235.8" r="3.2"/><circle cx="514.7" cy="236.1" r="3.2"/><circle cx="515.2" cy="236.2" r="3.2"/><circle cx="515.6" cy="236.3" r="3.2"/><circle cx="515.5" cy="236.3" r="3.2"/><circle cx="516.4" cy="236.6" r="3.2"/><circle cx="516.7" cy="236.7" r="3.2"/><circle cx="518.2" cy="237.2" r="3.2"/><circle cx="519.1" cy="237.5" r="3.2"/><circle cx="518.3" cy="237.2" r="3.2"/><circle cx="520.1" cy="237.8" r="3.2"/><circle cx="519.7" cy="237.7" r="3.2"/><circle cx="520.7" cy="238.0" r="3.2"/><circle cx="521.5" cy="238.3" r="3.2"/><circle cx="523.0" cy="238.8" r="3.2"/><circle cx="522.6" cy="238.6" r="3.2"/><circle cx="523.4" cy="238.9" r="3.2"/><circle cx="523.6" cy="239.0" r="3.2"/><circle cx="524.5" cy="239.2" r="3.2"/><circle cx="525.9" cy="239.7" r="3.2"/><circle cx="525.5" cy="239.6" r="3.2"/><circle cx="526.2" cy="239.8" r="3.2"/><circle cx="527.4" cy="240.2" r="3.2"/><circle cx="528.5" cy="240.6" r="3.2"/><circle cx="528.8" cy="240.7" r="3.2"/><circle cx="529.0" cy="240.7" r="3.2"/><circle cx="530.3" cy="241.1" r="3.2"/><circle cx="529.9" cy="241.0" r="3.2"/><circle cx="531.1" cy="241.4" r="3.2"/><circle cx="531.7" cy="241.6" r="3.2"/><circle cx="532.9" cy="242.0" r="3.2"/><circle cx="532.7" cy="241.9" r="3.2"/><circle cx="534.2" cy="242.4" r="3.2"/><circle cx="533.8" cy="242.3" r="3.2"/><circle cx="534.8" cy="242.6" r="3.2"/><circle cx="535.1" cy="242.7" r="3.2"/><circle cx="225.6" cy="61.9" r="3.2"/><circle cx="239.3" cy="67.4" r="3.2"/><circle cx="236.6" cy="76.5" r="3.2"/><circle cx="233.0" cy="64.0" r="3.2"/><circle cx="242.0" cy="70.0" r="3.2"/><circle cx="245.9" cy="96.7" r="3.2"/><circle cx="253.6" cy="105.0" r="3.2"/><circle cx="259.0" cy="103.0" r="3.2"/><circle cx="262.0" cy="104.0" r="3.2"/><circle cx="265.0" cy="106.0" r="3.2"/><circle cx="268.0" cy="108.0" r="3.2"/><circle cx="271.0" cy="109.0" r="3.2"/><circle cx="274.0" cy="108.0" r="3.2"/><circle cx="277.0" cy="111.0" r="3.2"/><circle cx="260.0" cy="101.0" r="3.2"/><circle cx="266.0" cy="103.0" r="3.2"/><circle cx="270.0" cy="105.0" r="3.2"/><circle cx="279.0" cy="113.0" r="3.2"/><circle cx="283.0" cy="117.0" r="3.2"/><circle cx="286.0" cy="120.0" r="3.2"/><circle cx="288.0" cy="118.0" r="3.2"/><circle cx="283.0" cy="127.6" r="3.2"/><circle cx="289.0" cy="130.0" r="3.2"/><circle cx="292.0" cy="132.0" r="3.2"/><circle cx="295.0" cy="137.0" r="3.2"/><circle cx="288.0" cy="136.0" r="3.2"/><circle cx="302.0" cy="144.0" r="3.2"/><circle cx="305.0" cy="148.0" r="3.2"/><circle cx="301.0" cy="152.0" r="3.2"/><circle cx="306.0" cy="154.0" r="3.2"/><circle cx="311.0" cy="157.0" r="3.2"/><circle cx="316.0" cy="160.0" r="3.2"/><circle cx="320.0" cy="158.0" r="3.2"/><circle cx="304.0" cy="156.0" r="3.2"/><circle cx="309.0" cy="160.0" r="3.2"/><circle cx="313.0" cy="162.0" r="3.2"/><circle cx="307.0" cy="151.0" r="3.2"/><circle cx="303.0" cy="148.0" r="3.2"/><circle cx="298.0" cy="145.0" r="3.2"/><circle cx="336.0" cy="169.0" r="3.2"/><circle cx="412.0" cy="193.0" r="3.2"/><circle cx="428.0" cy="198.0" r="3.2"/></g>
<g fill="#ff0000" clip-path="url(#cl)"><circle cx="70.9" cy="498.5" r="3.2"/><circle cx="72.3" cy="498.3" r="3.2"/><circle cx="71.6" cy="498.3" r="3.2"/><circle cx="73.3" cy="498.6" r="3.2"/><circle cx="73.3" cy="498.6" r="3.2"/><circle cx="74.3" cy="498.3" r="3.2"/><circle cx="74.2" cy="498.5" r="3.2"/><circle cx="74.8" cy="498.4" r="3.2"/><circle cx="75.4" cy="498.4" r="3.2"/><circle cx="76.0" cy="498.6" r="3.2"/><circle cx="77.4" cy="498.5" r="3.2"/><circle cx="77.5" cy="498.8" r="3.2"/><circle cx="77.7" cy="498.8" r="3.2"/><circle cx="78.4" cy="498.5" r="3.2"/><circle cx="79.4" cy="498.7" r="3.2"/><circle cx="80.1" cy="498.7" r="3.2"/><circle cx="81.4" cy="498.9" r="3.2"/><circle cx="82.2" cy="498.8" r="3.2"/><circle cx="81.8" cy="498.7" r="3.2"/><circle cx="83.3" cy="498.9" r="3.2"/><circle cx="83.9" cy="498.7" r="3.2"/><circle cx="84.5" cy="498.8" r="3.2"/><circle cx="84.6" cy="499.0" r="3.2"/><circle cx="84.9" cy="499.0" r="3.2"/><circle cx="85.6" cy="498.7" r="3.2"/><circle cx="85.8" cy="499.2" r="3.2"/><circle cx="86.8" cy="498.9" r="3.2"/><circle cx="86.5" cy="498.9" r="3.2"/><circle cx="87.7" cy="499.0" r="3.2"/><circle cx="88.8" cy="498.9" r="3.2"/><circle cx="90.0" cy="498.9" r="3.2"/><circle cx="90.7" cy="499.4" r="3.2"/><circle cx="91.9" cy="499.4" r="3.2"/><circle cx="91.7" cy="499.5" r="3.2"/><circle cx="92.7" cy="499.3" r="3.2"/><circle cx="94.2" cy="499.1" r="3.2"/><circle cx="94.4" cy="499.2" r="3.2"/><circle cx="94.7" cy="499.2" r="3.2"/><circle cx="96.4" cy="499.2" r="3.2"/><circle cx="97.0" cy="499.4" r="3.2"/><circle cx="97.3" cy="499.3" r="3.2"/><circle cx="98.1" cy="499.5" r="3.2"/><circle cx="97.9" cy="499.3" r="3.2"/><circle cx="99.4" cy="499.3" r="3.2"/><circle cx="99.2" cy="499.4" r="3.2"/><circle cx="99.9" cy="499.5" r="3.2"/><circle cx="99.8" cy="499.5" r="3.2"/><circle cx="100.7" cy="499.4" r="3.2"/><circle cx="101.2" cy="499.3" r="3.2"/><circle cx="102.4" cy="499.5" r="3.2"/><circle cx="102.4" cy="499.7" r="3.2"/><circle cx="102.8" cy="499.3" r="3.2"/><circle cx="104.2" cy="499.7" r="3.2"/><circle cx="103.9" cy="499.5" r="3.2"/><circle cx="104.7" cy="499.7" r="3.2"/><circle cx="106.1" cy="499.5" r="3.2"/><circle cx="107.4" cy="499.4" r="3.2"/><circle cx="107.2" cy="499.8" r="3.2"/><circle cx="107.7" cy="499.4" r="3.2"/><circle cx="107.8" cy="499.4" r="3.2"/><circle cx="108.8" cy="499.4" r="3.2"/><circle cx="108.7" cy="499.7" r="3.2"/><circle cx="110.2" cy="499.7" r="3.2"/><circle cx="111.2" cy="499.6" r="3.2"/><circle cx="110.5" cy="499.6" r="3.2"/><circle cx="111.8" cy="499.9" r="3.2"/><circle cx="113.1" cy="499.9" r="3.2"/><circle cx="112.7" cy="499.4" r="3.2"/><circle cx="113.7" cy="499.9" r="3.2"/><circle cx="114.2" cy="500.0" r="3.2"/><circle cx="114.9" cy="499.9" r="3.2"/><circle cx="115.3" cy="499.9" r="3.2"/><circle cx="116.5" cy="499.5" r="3.2"/><circle cx="116.4" cy="499.7" r="3.2"/><circle cx="117.3" cy="499.9" r="3.2"/><circle cx="117.6" cy="499.8" r="3.2"/><circle cx="119.0" cy="499.8" r="3.2"/><circle cx="120.3" cy="499.6" r="3.2"/><circle cx="121.3" cy="500.0" r="3.2"/><circle cx="121.0" cy="499.7" r="3.2"/><circle cx="122.0" cy="499.9" r="3.2"/><circle cx="122.9" cy="499.6" r="3.2"/><circle cx="122.7" cy="499.8" r="3.2"/><circle cx="124.2" cy="499.7" r="3.2"/><circle cx="123.7" cy="500.0" r="3.2"/><circle cx="124.9" cy="499.9" r="3.2"/><circle cx="124.8" cy="500.2" r="3.2"/><circle cx="125.6" cy="500.2" r="3.2"/><circle cx="125.8" cy="500.0" r="3.2"/><circle cx="127.3" cy="500.0" r="3.2"/><circle cx="128.1" cy="500.1" r="3.2"/><circle cx="128.3" cy="499.9" r="3.2"/><circle cx="128.8" cy="499.7" r="3.2"/><circle cx="129.6" cy="499.8" r="3.2"/><circle cx="131.2" cy="499.7" r="3.2"/><circle cx="130.6" cy="499.9" r="3.2"/><circle cx="131.9" cy="499.9" r="3.2"/><circle cx="132.5" cy="499.6" r="3.2"/><circle cx="133.3" cy="500.2" r="3.2"/><circle cx="134.5" cy="499.9" r="3.2"/><circle cx="133.6" cy="499.9" r="3.2"/><circle cx="134.7" cy="499.7" r="3.2"/><circle cx="136.4" cy="499.2" r="3.2"/><circle cx="137.4" cy="499.7" r="3.2"/><circle cx="137.7" cy="499.4" r="3.2"/><circle cx="139.2" cy="499.0" r="3.2"/><circle cx="138.8" cy="499.9" r="3.2"/><circle cx="140.4" cy="499.6" r="3.2"/><circle cx="139.7" cy="500.0" r="3.2"/><circle cx="141.3" cy="499.8" r="3.2"/><circle cx="142.3" cy="499.0" r="3.2"/><circle cx="143.0" cy="499.2" r="3.2"/><circle cx="143.8" cy="499.7" r="3.2"/><circle cx="145.1" cy="499.3" r="3.2"/><circle cx="145.2" cy="499.7" r="3.2"/><circle cx="146.0" cy="499.8" r="3.2"/><circle cx="146.8" cy="498.7" r="3.2"/><circle cx="148.2" cy="498.5" r="3.2"/><circle cx="149.5" cy="498.9" r="3.2"/><circle cx="149.8" cy="498.3" r="3.2"/><circle cx="150.1" cy="498.5" r="3.2"/><circle cx="151.5" cy="499.2" r="3.2"/><circle cx="151.0" cy="499.3" r="3.2"/><circle cx="152.1" cy="498.8" r="3.2"/><circle cx="152.9" cy="497.9" r="3.2"/><circle cx="154.6" cy="498.6" r="3.2"/><circle cx="154.8" cy="497.3" r="3.2"/><circle cx="155.6" cy="497.2" r="3.2"/><circle cx="156.8" cy="496.8" r="3.2"/><circle cx="158.6" cy="498.0" r="3.2"/><circle cx="159.4" cy="498.0" r="3.2"/><circle cx="159.8" cy="495.1" r="3.2"/><circle cx="160.9" cy="495.6" r="3.2"/><circle cx="162.1" cy="495.9" r="3.2"/><circle cx="163.2" cy="495.1" r="3.2"/><circle cx="163.9" cy="494.3" r="3.2"/><circle cx="164.8" cy="493.7" r="3.2"/><circle cx="166.0" cy="495.3" r="3.2"/><circle cx="167.0" cy="495.0" r="3.2"/><circle cx="168.0" cy="493.1" r="3.2"/><circle cx="168.9" cy="492.5" r="3.2"/><circle cx="169.3" cy="492.3" r="3.2"/><circle cx="171.0" cy="493.5" r="3.2"/><circle cx="171.8" cy="493.7" r="3.2"/><circle cx="172.8" cy="493.4" r="3.2"/><circle cx="173.2" cy="490.4" r="3.2"/><circle cx="176.7" cy="492.5" r="3.2"/><circle cx="178.2" cy="493.5" r="3.2"/><circle cx="178.6" cy="492.5" r="3.2"/><circle cx="180.0" cy="492.7" r="3.2"/><circle cx="179.4" cy="488.0" r="3.2"/><circle cx="180.3" cy="488.2" r="3.2"/><circle cx="182.0" cy="489.7" r="3.2"/><circle cx="183.5" cy="489.9" r="3.2"/><circle cx="186.1" cy="490.0" r="3.2"/><circle cx="188.6" cy="488.1" r="3.2"/><circle cx="191.0" cy="487.8" r="3.2"/><circle cx="192.3" cy="486.2" r="3.2"/><circle cx="192.8" cy="484.6" r="3.2"/><circle cx="194.6" cy="485.4" r="3.2"/><circle cx="194.9" cy="479.3" r="3.2"/><circle cx="196.0" cy="477.7" r="3.2"/><circle cx="200.2" cy="481.9" r="3.2"/><circle cx="199.0" cy="477.5" r="3.2"/><circle cx="199.2" cy="475.7" r="3.2"/><circle cx="203.0" cy="478.8" r="3.2"/><circle cx="202.1" cy="475.4" r="3.2"/><circle cx="206.6" cy="478.2" r="3.2"/><circle cx="203.3" cy="472.4" r="3.2"/><circle cx="206.2" cy="473.7" r="3.2"/><circle cx="210.8" cy="475.3" r="3.2"/><circle cx="207.8" cy="470.5" r="3.2"/><circle cx="209.1" cy="467.1" r="3.2"/><circle cx="212.8" cy="469.6" r="3.2"/><circle cx="209.6" cy="464.3" r="3.2"/><circle cx="210.4" cy="463.8" r="3.2"/><circle cx="213.0" cy="463.2" r="3.2"/><circle cx="214.5" cy="463.7" r="3.2"/><circle cx="217.4" cy="465.3" r="3.2"/><circle cx="219.9" cy="463.0" r="3.2"/><circle cx="220.5" cy="457.0" r="3.2"/><circle cx="226.6" cy="455.8" r="3.2"/><circle cx="225.9" cy="448.9" r="3.2"/><circle cx="226.8" cy="441.1" r="3.2"/><circle cx="231.1" cy="436.9" r="3.2"/><circle cx="233.8" cy="430.0" r="3.2"/><circle cx="238.4" cy="425.1" r="3.2"/><circle cx="237.8" cy="422.1" r="3.2"/><circle cx="253.4" cy="394.7" r="3.2"/><circle cx="257.0" cy="390.4" r="3.2"/><circle cx="265.4" cy="358.8" r="3.2"/><circle cx="265.6" cy="352.1" r="3.2"/><circle cx="272.9" cy="342.7" r="3.2"/><circle cx="276.2" cy="331.8" r="3.2"/><circle cx="276.5" cy="329.7" r="3.2"/><circle cx="305.9" cy="306.2" r="3.2"/><circle cx="301.4" cy="308.7" r="3.2"/><circle cx="306.7" cy="308.9" r="3.2"/><circle cx="306.3" cy="310.5" r="3.2"/><circle cx="308.6" cy="313.8" r="3.2"/><circle cx="307.9" cy="315.8" r="3.2"/><circle cx="311.4" cy="317.4" r="3.2"/><circle cx="309.7" cy="320.4" r="3.2"/><circle cx="309.4" cy="322.7" r="3.2"/><circle cx="312.3" cy="325.2" r="3.2"/><circle cx="310.2" cy="329.6" r="3.2"/><circle cx="314.9" cy="329.4" r="3.2"/><circle cx="316.0" cy="330.3" r="3.2"/><circle cx="314.1" cy="335.5" r="3.2"/><circle cx="316.9" cy="348.7" r="3.2"/><circle cx="320.0" cy="351.1" r="3.2"/><circle cx="322.5" cy="351.1" r="3.2"/><circle cx="321.2" cy="356.2" r="3.2"/><circle cx="320.7" cy="359.4" r="3.2"/><circle cx="324.7" cy="365.5" r="3.2"/><circle cx="327.0" cy="372.2" r="3.2"/><circle cx="327.3" cy="372.8" r="3.2"/><circle cx="332.0" cy="378.2" r="3.2"/><circle cx="333.5" cy="382.9" r="3.2"/><circle cx="334.7" cy="388.9" r="3.2"/><circle cx="336.5" cy="389.6" r="3.2"/><circle cx="336.2" cy="391.6" r="3.2"/><circle cx="337.5" cy="394.6" r="3.2"/><circle cx="338.6" cy="400.4" r="3.2"/><circle cx="341.0" cy="401.5" r="3.2"/><circle cx="343.2" cy="401.5" r="3.2"/><circle cx="343.4" cy="404.2" r="3.2"/><circle cx="342.9" cy="405.1" r="3.2"/><circle cx="342.3" cy="408.2" r="3.2"/><circle cx="343.8" cy="408.6" r="3.2"/><circle cx="346.4" cy="409.3" r="3.2"/><circle cx="343.4" cy="411.6" r="3.2"/><circle cx="344.3" cy="412.9" r="3.2"/><circle cx="346.0" cy="413.1" r="3.2"/><circle cx="343.8" cy="416.4" r="3.2"/><circle cx="345.7" cy="416.3" r="3.2"/><circle cx="345.7" cy="417.5" r="3.2"/><circle cx="346.0" cy="420.1" r="3.2"/><circle cx="347.9" cy="420.0" r="3.2"/><circle cx="347.1" cy="421.5" r="3.2"/><circle cx="347.4" cy="422.6" r="3.2"/><circle cx="349.9" cy="422.9" r="3.2"/><circle cx="353.6" cy="424.4" r="3.2"/><circle cx="354.3" cy="428.1" r="3.2"/><circle cx="356.1" cy="430.1" r="3.2"/><circle cx="354.2" cy="433.4" r="3.2"/><circle cx="357.8" cy="432.6" r="3.2"/><circle cx="355.8" cy="435.2" r="3.2"/><circle cx="358.3" cy="436.7" r="3.2"/><circle cx="355.5" cy="439.2" r="3.2"/><circle cx="359.3" cy="438.1" r="3.2"/><circle cx="359.4" cy="440.6" r="3.2"/><circle cx="361.1" cy="441.3" r="3.2"/><circle cx="362.7" cy="442.9" r="3.2"/><circle cx="362.5" cy="444.5" r="3.2"/><circle cx="362.2" cy="446.0" r="3.2"/><circle cx="362.2" cy="449.0" r="3.2"/><circle cx="365.5" cy="447.7" r="3.2"/><circle cx="364.9" cy="449.3" r="3.2"/><circle cx="364.6" cy="450.9" r="3.2"/><circle cx="368.5" cy="452.7" r="3.2"/><circle cx="366.7" cy="454.3" r="3.2"/><circle cx="368.4" cy="454.3" r="3.2"/><circle cx="370.2" cy="455.9" r="3.2"/><circle cx="371.1" cy="458.4" r="3.2"/><circle cx="376.0" cy="458.4" r="3.2"/><circle cx="373.6" cy="461.6" r="3.2"/><circle cx="377.9" cy="459.4" r="3.2"/><circle cx="376.9" cy="462.8" r="3.2"/><circle cx="380.2" cy="462.1" r="3.2"/><circle cx="381.8" cy="462.6" r="3.2"/><circle cx="381.8" cy="464.0" r="3.2"/><circle cx="381.2" cy="465.8" r="3.2"/><circle cx="382.0" cy="468.2" r="3.2"/><circle cx="387.1" cy="466.9" r="3.2"/><circle cx="387.5" cy="468.4" r="3.2"/><circle cx="387.8" cy="470.1" r="3.2"/><circle cx="387.5" cy="471.2" r="3.2"/><circle cx="389.5" cy="473.9" r="3.2"/><circle cx="392.1" cy="472.1" r="3.2"/><circle cx="393.1" cy="473.7" r="3.2"/><circle cx="394.0" cy="474.1" r="3.2"/><circle cx="394.1" cy="474.4" r="3.2"/><circle cx="396.2" cy="474.4" r="3.2"/><circle cx="397.3" cy="474.8" r="3.2"/><circle cx="397.5" cy="476.6" r="3.2"/><circle cx="397.5" cy="478.0" r="3.2"/><circle cx="399.3" cy="476.4" r="3.2"/><circle cx="399.4" cy="478.2" r="3.2"/><circle cx="400.8" cy="477.0" r="3.2"/><circle cx="402.5" cy="476.8" r="3.2"/><circle cx="402.8" cy="478.9" r="3.2"/><circle cx="403.6" cy="478.8" r="3.2"/><circle cx="405.5" cy="478.0" r="3.2"/><circle cx="406.3" cy="479.2" r="3.2"/><circle cx="407.8" cy="479.0" r="3.2"/><circle cx="407.9" cy="481.6" r="3.2"/><circle cx="409.0" cy="479.3" r="3.2"/><circle cx="410.1" cy="479.6" r="3.2"/><circle cx="411.1" cy="479.7" r="3.2"/><circle cx="412.0" cy="481.3" r="3.2"/><circle cx="413.0" cy="480.2" r="3.2"/><circle cx="413.9" cy="480.0" r="3.2"/><circle cx="415.4" cy="481.5" r="3.2"/><circle cx="415.8" cy="483.3" r="3.2"/><circle cx="417.2" cy="482.0" r="3.2"/><circle cx="417.6" cy="482.8" r="3.2"/><circle cx="419.1" cy="480.0" r="3.2"/><circle cx="420.5" cy="481.2" r="3.2"/><circle cx="420.7" cy="482.4" r="3.2"/><circle cx="422.1" cy="483.4" r="3.2"/><circle cx="423.2" cy="481.2" r="3.2"/><circle cx="424.3" cy="480.4" r="3.2"/><circle cx="424.7" cy="483.8" r="3.2"/><circle cx="426.4" cy="482.5" r="3.2"/><circle cx="426.7" cy="484.6" r="3.2"/><circle cx="427.9" cy="480.9" r="3.2"/><circle cx="428.6" cy="483.7" r="3.2"/><circle cx="429.6" cy="481.4" r="3.2"/><circle cx="431.4" cy="482.2" r="3.2"/><circle cx="432.0" cy="484.3" r="3.2"/><circle cx="433.5" cy="484.2" r="3.2"/><circle cx="433.7" cy="483.5" r="3.2"/><circle cx="435.3" cy="484.4" r="3.2"/><circle cx="435.9" cy="483.8" r="3.2"/><circle cx="437.2" cy="484.9" r="3.2"/><circle cx="438.3" cy="481.0" r="3.2"/><circle cx="439.3" cy="484.6" r="3.2"/><circle cx="440.1" cy="484.1" r="3.2"/><circle cx="441.3" cy="484.1" r="3.2"/><circle cx="442.4" cy="481.7" r="3.2"/><circle cx="442.7" cy="484.6" r="3.2"/><circle cx="443.8" cy="483.9" r="3.2"/><circle cx="444.7" cy="481.3" r="3.2"/><circle cx="446.0" cy="481.3" r="3.2"/><circle cx="447.2" cy="483.3" r="3.2"/><circle cx="448.3" cy="483.7" r="3.2"/><circle cx="449.4" cy="484.4" r="3.2"/><circle cx="450.1" cy="480.4" r="3.2"/><circle cx="451.1" cy="481.6" r="3.2"/><circle cx="451.5" cy="483.6" r="3.2"/><circle cx="452.5" cy="480.0" r="3.2"/><circle cx="454.1" cy="481.8" r="3.2"/><circle cx="454.7" cy="481.4" r="3.2"/><circle cx="456.2" cy="483.7" r="3.2"/><circle cx="456.7" cy="480.2" r="3.2"/><circle cx="458.2" cy="481.8" r="3.2"/><circle cx="459.1" cy="480.3" r="3.2"/><circle cx="459.6" cy="483.5" r="3.2"/><circle cx="460.8" cy="484.1" r="3.2"/><circle cx="462.0" cy="483.9" r="3.2"/><circle cx="463.0" cy="481.7" r="3.2"/><circle cx="464.5" cy="482.3" r="3.2"/><circle cx="464.6" cy="483.7" r="3.2"/><circle cx="465.8" cy="480.1" r="3.2"/><circle cx="467.3" cy="482.2" r="3.2"/><circle cx="467.6" cy="481.8" r="3.2"/><circle cx="468.9" cy="484.0" r="3.2"/><circle cx="470.3" cy="484.3" r="3.2"/><circle cx="471.2" cy="480.8" r="3.2"/><circle cx="471.8" cy="484.4" r="3.2"/><circle cx="472.8" cy="483.2" r="3.2"/><circle cx="474.4" cy="483.4" r="3.2"/><circle cx="475.5" cy="482.2" r="3.2"/><circle cx="476.1" cy="484.1" r="3.2"/><circle cx="477.3" cy="482.7" r="3.2"/><circle cx="478.2" cy="483.8" r="3.2"/><circle cx="478.7" cy="482.3" r="3.2"/><circle cx="479.7" cy="484.4" r="3.2"/><circle cx="480.6" cy="483.3" r="3.2"/><circle cx="482.2" cy="483.8" r="3.2"/><circle cx="482.8" cy="483.9" r="3.2"/><circle cx="484.5" cy="482.6" r="3.2"/><circle cx="485.2" cy="483.9" r="3.2"/><circle cx="486.3" cy="484.5" r="3.2"/><circle cx="486.6" cy="482.0" r="3.2"/><circle cx="488.3" cy="483.9" r="3.2"/><circle cx="489.0" cy="481.4" r="3.2"/><circle cx="490.2" cy="481.4" r="3.2"/><circle cx="490.5" cy="482.0" r="3.2"/><circle cx="492.5" cy="482.2" r="3.2"/><circle cx="492.8" cy="481.4" r="3.2"/><circle cx="493.8" cy="481.5" r="3.2"/><circle cx="494.6" cy="481.1" r="3.2"/><circle cx="496.4" cy="481.9" r="3.2"/><circle cx="497.3" cy="481.1" r="3.2"/><circle cx="498.3" cy="483.3" r="3.2"/><circle cx="498.6" cy="481.3" r="3.2"/><circle cx="500.0" cy="481.7" r="3.2"/><circle cx="500.9" cy="482.6" r="3.2"/><circle cx="502.2" cy="483.0" r="3.2"/><circle cx="502.8" cy="481.9" r="3.2"/><circle cx="504.1" cy="479.6" r="3.2"/><circle cx="505.4" cy="480.5" r="3.2"/><circle cx="505.4" cy="480.1" r="3.2"/><circle cx="507.3" cy="481.7" r="3.2"/><circle cx="507.8" cy="481.8" r="3.2"/><circle cx="509.5" cy="481.0" r="3.2"/><circle cx="510.4" cy="481.0" r="3.2"/><circle cx="511.5" cy="481.8" r="3.2"/><circle cx="512.2" cy="479.7" r="3.2"/><circle cx="513.2" cy="478.8" r="3.2"/><circle cx="514.2" cy="479.9" r="3.2"/><circle cx="514.7" cy="478.4" r="3.2"/><circle cx="516.0" cy="479.3" r="3.2"/><circle cx="517.2" cy="480.0" r="3.2"/><circle cx="517.8" cy="479.6" r="3.2"/><circle cx="519.5" cy="480.1" r="3.2"/><circle cx="520.3" cy="479.6" r="3.2"/><circle cx="521.6" cy="480.3" r="3.2"/><circle cx="522.3" cy="479.9" r="3.2"/><circle cx="523.0" cy="477.2" r="3.2"/><circle cx="523.8" cy="479.0" r="3.2"/><circle cx="525.4" cy="478.7" r="3.2"/><circle cx="525.6" cy="477.2" r="3.2"/><circle cx="527.6" cy="478.8" r="3.2"/><circle cx="528.1" cy="477.4" r="3.2"/><circle cx="529.0" cy="479.3" r="3.2"/><circle cx="529.7" cy="478.3" r="3.2"/><circle cx="530.7" cy="475.8" r="3.2"/><circle cx="531.7" cy="478.9" r="3.2"/><circle cx="532.5" cy="475.7" r="3.2"/><circle cx="533.7" cy="476.6" r="3.2"/><circle cx="535.1" cy="475.8" r="3.2"/><circle cx="294.0" cy="309.5" r="3.2"/><circle cx="293.3" cy="313.0" r="3.2"/><circle cx="301.3" cy="316.0" r="3.2"/><circle cx="304.2" cy="312.5" r="3.2"/><circle cx="307.8" cy="308.0" r="3.2"/><circle cx="276.0" cy="309.5" r="3.2"/><circle cx="278.0" cy="312.0" r="3.2"/><circle cx="286.9" cy="284.8" r="3.2"/><circle cx="290.2" cy="287.7" r="3.2"/><circle cx="304.4" cy="290.5" r="3.2"/><circle cx="311.0" cy="288.3" r="3.2"/><circle cx="270.9" cy="299.7" r="3.2"/><circle cx="260.6" cy="333.7" r="3.2"/><circle cx="291.3" cy="343.6" r="3.2"/><circle cx="301.6" cy="331.5" r="3.2"/><circle cx="286.9" cy="322.8" r="3.2"/><circle cx="276.0" cy="313.0" r="3.2"/><circle cx="270.4" cy="300.0" r="3.2"/><circle cx="285.0" cy="285.5" r="3.2"/><circle cx="266.8" cy="365.0" r="3.2"/><circle cx="325.3" cy="387.0" r="3.2"/><circle cx="325.8" cy="387.3" r="3.2"/><circle cx="333.0" cy="411.0" r="3.2"/><circle cx="266.9" cy="404.1" r="3.2"/><circle cx="237.3" cy="418.4" r="3.2"/><circle cx="241.3" cy="434.8" r="3.2"/><circle cx="213.5" cy="453.5" r="3.2"/><circle cx="234.0" cy="457.7" r="3.2"/><circle cx="393.3" cy="482.8" r="3.2"/><circle cx="300.0" cy="310.0" r="3.2"/><circle cx="310.0" cy="312.0" r="3.2"/><circle cx="280.0" cy="318.0" r="3.2"/><circle cx="296.0" cy="330.0" r="3.2"/></g>
<path d="M75.0,33.5 L76.9,33.6 L79.4,33.6 L82.3,33.7 L85.6,33.8 L89.2,33.9 L92.8,34.1 L96.5,34.3 L100.0,34.5 L103.6,34.8 L107.4,35.1 L111.3,35.5 L115.3,35.9 L119.3,36.4 L123.1,36.8 L126.7,37.2 L130.0,37.5 L133.0,37.8 L135.7,38.0 L138.2,38.2 L140.6,38.4 L142.9,38.6 L145.2,38.9 L147.6,39.2 L150.0,39.5 L152.5,39.9 L155.0,40.3 L157.5,40.8 L160.0,41.3 L162.5,41.8 L165.0,42.3 L167.5,42.9 L170.0,43.5 L172.5,44.1 L175.0,44.7 L177.5,45.4 L180.0,46.0 L182.5,46.7 L185.0,47.4 L187.5,48.2 L190.0,49.0 L192.5,49.8 L195.1,50.7 L197.7,51.7 L200.3,52.6 L202.9,53.6 L205.4,54.6 L207.7,55.5 L210.0,56.5 L212.1,57.4 L214.2,58.4 L216.2,59.3 L218.1,60.3 L219.9,61.2 L221.6,62.2 L223.4,63.1 L225.0,64.0 L226.6,64.9 L228.1,65.8 L229.5,66.7 L230.9,67.6 L232.2,68.5 L233.5,69.4 L234.8,70.2 L236.0,71.0 L237.2,71.7 L238.3,72.4 L239.3,73.1 L240.4,73.7 L241.4,74.4 L242.3,75.0 L243.3,75.7 L244.3,76.4 L245.3,77.1 L246.2,77.9 L247.1,78.6 L248.0,79.4 L248.9,80.2 L249.9,81.0 L250.9,82.0 L252.0,83.0 L253.2,84.2 L254.5,85.5 L255.8,86.9 L257.2,88.3 L258.7,89.8 L260.1,91.2 L261.5,92.6 L262.9,94.0 L264.3,95.3 L265.7,96.5 L267.1,97.8 L268.5,99.0 L269.9,100.2 L271.3,101.4 L272.6,102.7 L273.9,103.9 L275.1,105.1 L276.3,106.4 L277.4,107.6 L278.5,108.9 L279.5,110.1 L280.6,111.4 L281.6,112.7 L282.6,114.0 L283.6,115.3 L284.6,116.7 L285.5,118.1 L286.4,119.4 L287.3,120.8 L288.2,122.2 L289.1,123.6 L290.0,125.0 L290.9,126.4 L291.8,127.8 L292.6,129.1 L293.5,130.5 L294.3,131.9 L295.2,133.2 L296.1,134.6 L297.0,136.0 L298.0,137.4 L298.9,138.8 L299.9,140.2 L300.9,141.6 L302.0,142.9 L303.0,144.3 L304.0,145.7 L305.0,147.0 L306.0,148.3 L307.0,149.6 L308.0,150.9 L308.9,152.2 L309.9,153.4 L310.9,154.7 L312.0,155.9 L313.0,157.0 L314.1,158.1 L315.2,159.2 L316.3,160.2 L317.4,161.2 L318.5,162.1 L319.7,163.1 L320.8,164.0 L322.0,165.0 L323.2,166.0 L324.5,167.0 L325.8,168.0 L327.1,169.0 L328.4,169.9 L329.6,170.8 L330.8,171.7 L332.0,172.5 L333.1,173.2 L334.1,173.8 L335.1,174.4 L336.0,175.0 L336.9,175.5 L337.9,176.0 L338.9,176.5 L340.0,177.0 L341.1,177.5 L342.1,178.0 L343.2,178.5 L344.2,178.9 L345.4,179.4 L346.8,179.9 L348.3,180.5 L350.0,181.2 L352.1,182.0 L354.5,182.9 L357.2,183.9 L360.0,184.9 L362.8,185.9 L365.5,186.9 L367.9,187.7 L370.0,188.5 L371.7,189.1 L373.0,189.6 L374.0,190.0 L375.0,190.3 L376.0,190.6 L377.0,191.0 L378.3,191.5 L380.0,192.0 L382.0,192.7 L384.3,193.4 L386.8,194.2 L389.4,195.0 L392.1,195.8 L394.8,196.7 L397.4,197.5 L400.0,198.3 L402.5,199.1 L405.0,199.9 L407.5,200.6 L410.0,201.4 L412.5,202.2 L415.0,203.0 L417.5,203.7 L420.0,204.5 L422.5,205.3 L425.0,206.0 L427.5,206.8 L430.0,207.6 L432.5,208.3 L435.0,209.1 L437.5,209.8 L440.0,210.5 L442.5,211.2 L445.0,211.8 L447.5,212.4 L450.0,213.1 L452.5,213.7 L455.0,214.3 L457.5,215.0 L460.0,215.7 L462.5,216.5 L465.1,217.3 L467.7,218.1 L470.3,219.0 L472.9,219.9 L475.4,220.8 L477.7,221.6 L480.0,222.5 L482.1,223.4 L484.0,224.2 L485.8,225.1 L487.5,225.9 L489.2,226.8 L491.0,227.6 L492.9,228.5 L495.0,229.3 L497.3,230.1 L499.6,231.0 L502.1,231.8 L504.6,232.6 L507.2,233.5 L509.8,234.3 L512.4,235.1 L515.0,236.0 L517.7,236.9 L520.7,237.9 L523.7,238.9 L526.8,239.9 L529.6,240.9 L532.2,241.7 L534.4,242.5 L536.0,243.0" fill="none" stroke="#ff0000" stroke-width="3" stroke-linejoin="round" clip-path="url(#cu)"/>
<path d="M70.0,500.0 L72.3,500.0 L75.4,500.1 L79.1,500.2 L83.1,500.3 L87.4,500.4 L91.8,500.4 L96.0,500.5 L100.0,500.5 L103.8,500.5 L107.5,500.5 L111.2,500.5 L115.0,500.5 L118.8,500.4 L122.5,500.3 L126.2,500.2 L130.0,500.0 L133.8,499.8 L137.7,499.5 L141.7,499.2 L145.6,498.8 L149.5,498.5 L153.2,498.0 L156.7,497.5 L160.0,497.0 L163.0,496.4 L165.8,495.7 L168.5,495.0 L170.9,494.2 L173.3,493.5 L175.6,492.6 L177.8,491.8 L180.0,491.0 L182.1,490.2 L184.2,489.4 L186.1,488.6 L188.0,487.8 L189.8,486.9 L191.6,486.0 L193.3,485.0 L195.0,484.0 L196.6,482.9 L198.2,481.6 L199.8,480.3 L201.3,479.0 L202.7,477.7 L204.1,476.4 L205.4,475.1 L206.6,474.0 L207.7,473.0 L208.8,472.0 L209.7,471.2 L210.6,470.3 L211.4,469.5 L212.3,468.7 L213.1,467.9 L214.0,467.0 L214.9,466.1 L215.9,465.3 L216.8,464.5 L217.8,463.7 L218.7,462.8 L219.6,462.0 L220.4,461.0 L221.2,460.0 L221.9,458.9 L222.6,457.7 L223.2,456.5 L223.7,455.2 L224.3,453.9 L224.8,452.6 L225.4,451.3 L226.0,450.0 L226.6,448.8 L227.3,447.5 L227.9,446.2 L228.6,445.0 L229.3,443.8 L229.9,442.5 L230.6,441.2 L231.2,440.0 L231.8,438.8 L232.4,437.5 L233.0,436.2 L233.6,435.0 L234.2,433.8 L234.8,432.5 L235.4,431.2 L236.0,430.0 L236.6,428.8 L237.3,427.5 L237.9,426.2 L238.6,425.0 L239.2,423.8 L239.8,422.5 L240.4,421.2 L241.0,420.0 L241.5,418.8 L242.1,417.5 L242.6,416.2 L243.0,415.0 L243.5,413.8 L244.0,412.5 L244.5,411.2 L245.0,410.0 L245.5,408.8 L246.1,407.5 L246.7,406.2 L247.2,405.0 L247.8,403.8 L248.4,402.5 L248.9,401.2 L249.5,400.0 L250.1,398.8 L250.6,397.6 L251.2,396.4 L251.7,395.2 L252.3,394.0 L252.8,392.8 L253.4,391.4 L254.0,390.0 L254.6,388.4 L255.2,386.7 L255.9,384.8 L256.5,382.9 L257.1,381.1 L257.8,379.3 L258.4,377.5 L259.0,376.0 L259.6,374.7 L260.2,373.5 L260.8,372.4 L261.3,371.4 L261.9,370.4 L262.5,369.3 L263.0,368.1 L263.6,366.8 L264.2,365.3 L264.7,363.6 L265.3,361.9 L265.8,360.1 L266.4,358.3 L266.9,356.5 L267.5,354.7 L268.0,353.0 L268.6,351.3 L269.1,349.7 L269.7,348.0 L270.2,346.4 L270.8,344.8 L271.4,343.2 L271.9,341.8 L272.4,340.4 L272.9,339.1 L273.4,337.9 L273.8,336.8 L274.3,335.8 L274.7,334.8 L275.2,333.8 L275.6,332.9 L276.0,332.0 L276.4,331.1 L276.8,330.3 L277.2,329.5 L277.6,328.7 L278.0,328.0 L278.3,327.3 L278.7,326.6 L279.0,326.0 L279.3,325.4 L279.5,324.9 L279.8,324.4 L280.0,324.0 L280.2,323.5 L280.5,323.1 L280.7,322.6 L281.0,322.0 L281.3,321.4 L281.7,320.7 L282.1,320.0 L282.4,319.3 L282.8,318.6 L283.2,317.9 L283.6,317.2 L284.0,316.5 L284.4,315.8 L284.8,315.1 L285.1,314.4 L285.5,313.7 L285.9,313.0 L286.2,312.3 L286.6,311.7 L287.0,311.0 L287.4,310.3 L287.8,309.7 L288.1,309.0 L288.5,308.4 L288.9,307.7 L289.2,307.1 L289.6,306.5 L290.0,306.0 L290.4,305.5 L290.7,305.0 L291.1,304.6 L291.5,304.2 L291.9,303.8 L292.2,303.4 L292.6,303.1 L293.0,302.8 L293.4,302.5 L293.8,302.3 L294.2,302.0 L294.6,301.8 L295.0,301.6 L295.4,301.5 L295.8,301.4 L296.2,301.3 L296.6,301.3 L296.9,301.2 L297.3,301.3 L297.6,301.3 L298.0,301.4 L298.3,301.5 L298.7,301.6 L299.0,301.8 L299.3,302.0 L299.6,302.2 L299.9,302.4 L300.2,302.6 L300.5,302.9 L300.8,303.2 L301.1,303.6 L301.5,304.0 L301.9,304.5 L302.3,305.1 L302.8,305.8 L303.2,306.5 L303.7,307.3 L304.2,308.0 L304.6,308.8 L305.0,309.5 L305.4,310.2 L305.7,310.9 L306.1,311.5 L306.4,312.2 L306.7,312.9 L307.1,313.7 L307.4,314.5 L307.8,315.4 L308.2,316.4 L308.6,317.4 L309.0,318.5 L309.5,319.6 L309.9,320.8 L310.4,322.1 L310.9,323.5 L311.5,325.0 L312.1,326.6 L312.9,328.3 L313.6,330.2 L314.4,332.1 L315.2,334.1 L316.0,336.1 L316.8,338.0 L317.5,340.0 L318.2,342.0 L318.8,343.9 L319.4,345.9 L320.0,347.9 L320.5,350.0 L321.1,352.0 L321.7,354.0 L322.3,356.0 L322.9,358.0 L323.5,360.0 L324.1,361.9 L324.7,363.9 L325.3,365.9 L326.0,367.9 L326.7,369.9 L327.4,372.0 L328.2,374.2 L329.1,376.5 L330.1,378.9 L331.0,381.3 L332.0,383.7 L332.9,385.9 L333.9,388.1 L334.7,390.0 L335.5,391.7 L336.2,393.1 L336.8,394.4 L337.5,395.6 L338.1,396.8 L338.8,398.1 L339.5,399.4 L340.2,401.0 L341.0,402.8 L341.8,404.7 L342.6,406.7 L343.4,408.8 L344.2,410.9 L345.1,413.0 L345.9,415.0 L346.8,417.0 L347.7,418.9 L348.6,420.8 L349.5,422.6 L350.4,424.5 L351.3,426.3 L352.2,428.1 L353.2,429.8 L354.1,431.6 L355.1,433.4 L356.0,435.1 L357.0,436.8 L358.0,438.6 L359.0,440.2 L360.0,441.9 L361.0,443.5 L362.0,445.0 L363.0,446.5 L363.9,447.9 L364.9,449.2 L365.9,450.5 L366.8,451.8 L367.9,453.0 L368.9,454.3 L370.0,455.5 L371.2,456.7 L372.4,458.0 L373.6,459.2 L374.9,460.4 L376.2,461.6 L377.5,462.8 L378.7,463.9 L380.0,465.0 L381.2,466.1 L382.5,467.1 L383.8,468.1 L385.0,469.0 L386.2,470.0 L387.5,470.8 L388.8,471.7 L390.0,472.5 L391.2,473.2 L392.3,473.9 L393.3,474.6 L394.4,475.2 L395.5,475.8 L396.8,476.3 L398.3,476.9 L400.0,477.5 L402.0,478.1 L404.1,478.7 L406.3,479.4 L408.8,480.0 L411.3,480.6 L414.1,481.1 L417.0,481.6 L420.0,482.0 L423.2,482.3 L426.6,482.6 L430.1,482.8 L433.8,483.0 L437.6,483.1 L441.6,483.3 L445.7,483.4 L450.0,483.5 L454.5,483.6 L459.2,483.8 L464.0,484.0 L469.0,484.2 L474.1,484.3 L479.3,484.3 L484.6,484.2 L490.0,484.0 L495.8,483.6 L502.2,483.0 L508.8,482.3 L515.5,481.5 L521.9,480.8 L527.6,480.0 L532.4,479.4 L536.0,479.0" fill="none" stroke="#ff0000" stroke-width="3.5" stroke-linejoin="round" clip-path="url(#cl)"/>
<g fill="#0000ff" clip-path="url(#cu)"><circle cx="74.2" cy="26.8" r="3.2"/><circle cx="73.6" cy="26.4" r="3.2"/><circle cx="75.1" cy="26.5" r="3.2"/><circle cx="76.3" cy="26.9" r="3.2"/><circle cx="76.0" cy="27.5" r="3.2"/><circle cx="77.1" cy="27.7" r="3.2"/><circle cx="77.5" cy="27.4" r="3.2"/><circle cx="78.3" cy="28.7" r="3.2"/><circle cx="78.3" cy="29.1" r="3.2"/><circle cx="78.7" cy="28.2" r="3.2"/><circle cx="80.2" cy="29.2" r="3.2"/><circle cx="79.9" cy="28.7" r="3.2"/><circle cx="80.8" cy="28.7" r="3.2"/><circle cx="81.3" cy="28.3" r="3.2"/><circle cx="81.7" cy="28.8" r="3.2"/><circle cx="81.7" cy="29.4" r="3.2"/><circle cx="83.2" cy="29.2" r="3.2"/><circle cx="83.2" cy="30.2" r="3.2"/><circle cx="84.1" cy="30.1" r="3.2"/><circle cx="84.8" cy="28.2" r="3.2"/><circle cx="86.1" cy="30.2" r="3.2"/><circle cx="85.7" cy="29.6" r="3.2"/><circle cx="87.2" cy="28.6" r="3.2"/><circle cx="86.7" cy="30.6" r="3.2"/><circle cx="87.9" cy="28.7" r="3.2"/><circle cx="88.2" cy="30.5" r="3.2"/><circle cx="88.7" cy="28.6" r="3.2"/><circle cx="89.4" cy="28.8" r="3.2"/><circle cx="90.3" cy="31.0" r="3.2"/><circle cx="89.9" cy="30.5" r="3.2"/><circle cx="90.7" cy="28.8" r="3.2"/><circle cx="91.7" cy="29.9" r="3.2"/><circle cx="91.6" cy="29.2" r="3.2"/><circle cx="93.4" cy="30.6" r="3.2"/><circle cx="94.2" cy="29.9" r="3.2"/><circle cx="95.3" cy="31.1" r="3.2"/><circle cx="94.6" cy="29.1" r="3.2"/><circle cx="95.9" cy="30.5" r="3.2"/><circle cx="96.5" cy="28.9" r="3.2"/><circle cx="96.6" cy="30.2" r="3.2"/><circle cx="97.6" cy="30.5" r="3.2"/><circle cx="99.3" cy="30.9" r="3.2"/><circle cx="99.1" cy="30.5" r="3.2"/><circle cx="100.5" cy="29.9" r="3.2"/><circle cx="99.7" cy="30.2" r="3.2"/><circle cx="100.9" cy="29.5" r="3.2"/><circle cx="101.1" cy="30.6" r="3.2"/><circle cx="101.8" cy="31.5" r="3.2"/><circle cx="102.5" cy="31.7" r="3.2"/><circle cx="102.9" cy="30.9" r="3.2"/><circle cx="103.6" cy="31.9" r="3.2"/><circle cx="104.9" cy="32.0" r="3.2"/><circle cx="105.9" cy="32.9" r="3.2"/><circle cx="106.0" cy="30.0" r="3.2"/><circle cx="107.0" cy="30.7" r="3.2"/><circle cx="108.0" cy="32.9" r="3.2"/><circle cx="108.8" cy="30.3" r="3.2"/><circle cx="109.4" cy="33.1" r="3.2"/><circle cx="111.6" cy="31.4" r="3.2"/><circle cx="111.3" cy="31.3" r="3.2"/><circle cx="112.3" cy="33.0" r="3.2"/><circle cx="112.7" cy="31.2" r="3.2"/><circle cx="112.5" cy="33.4" r="3.2"/><circle cx="113.6" cy="33.4" r="3.2"/><circle cx="115.2" cy="31.6" r="3.2"/><circle cx="116.2" cy="34.2" r="3.2"/><circle cx="115.3" cy="34.5" r="3.2"/><circle cx="117.3" cy="33.4" r="3.2"/><circle cx="118.0" cy="33.8" r="3.2"/><circle cx="117.4" cy="34.4" r="3.2"/><circle cx="118.8" cy="33.6" r="3.2"/><circle cx="118.6" cy="33.0" r="3.2"/><circle cx="120.8" cy="31.8" r="3.2"/><circle cx="120.7" cy="33.6" r="3.2"/><circle cx="122.3" cy="33.0" r="3.2"/><circle cx="122.5" cy="36.3" r="3.2"/><circle cx="122.8" cy="33.7" r="3.2"/><circle cx="123.9" cy="36.2" r="3.2"/><circle cx="125.0" cy="34.4" r="3.2"/><circle cx="124.4" cy="35.9" r="3.2"/><circle cx="125.7" cy="37.2" r="3.2"/><circle cx="127.1" cy="33.8" r="3.2"/><circle cx="126.9" cy="36.3" r="3.2"/><circle cx="128.0" cy="35.6" r="3.2"/><circle cx="128.0" cy="36.3" r="3.2"/><circle cx="129.0" cy="37.1" r="3.2"/><circle cx="129.8" cy="37.8" r="3.2"/><circle cx="131.1" cy="37.5" r="3.2"/><circle cx="131.4" cy="36.5" r="3.2"/><circle cx="131.5" cy="38.7" r="3.2"/><circle cx="131.5" cy="37.7" r="3.2"/><circle cx="133.0" cy="36.6" r="3.2"/><circle cx="133.4" cy="35.6" r="3.2"/><circle cx="134.2" cy="38.2" r="3.2"/><circle cx="135.1" cy="39.3" r="3.2"/><circle cx="136.0" cy="37.1" r="3.2"/><circle cx="137.3" cy="36.4" r="3.2"/><circle cx="137.0" cy="40.0" r="3.2"/><circle cx="138.0" cy="39.8" r="3.2"/><circle cx="137.9" cy="40.3" r="3.2"/><circle cx="139.8" cy="37.4" r="3.2"/><circle cx="139.3" cy="38.2" r="3.2"/><circle cx="140.4" cy="39.4" r="3.2"/><circle cx="140.3" cy="37.8" r="3.2"/><circle cx="141.4" cy="39.6" r="3.2"/><circle cx="141.9" cy="41.3" r="3.2"/><circle cx="141.2" cy="41.4" r="3.2"/><circle cx="143.6" cy="39.0" r="3.2"/><circle cx="143.1" cy="37.8" r="3.2"/><circle cx="143.3" cy="41.9" r="3.2"/><circle cx="145.0" cy="40.9" r="3.2"/><circle cx="145.1" cy="41.2" r="3.2"/><circle cx="145.7" cy="39.2" r="3.2"/><circle cx="145.6" cy="41.0" r="3.2"/><circle cx="146.8" cy="42.4" r="3.2"/><circle cx="147.1" cy="40.9" r="3.2"/><circle cx="147.7" cy="41.4" r="3.2"/><circle cx="147.9" cy="38.8" r="3.2"/><circle cx="148.8" cy="40.2" r="3.2"/><circle cx="149.3" cy="39.3" r="3.2"/><circle cx="149.6" cy="41.8" r="3.2"/><circle cx="150.8" cy="39.9" r="3.2"/><circle cx="152.3" cy="41.1" r="3.2"/><circle cx="152.3" cy="41.2" r="3.2"/><circle cx="152.5" cy="43.3" r="3.2"/><circle cx="152.3" cy="42.9" r="3.2"/><circle cx="154.6" cy="40.8" r="3.2"/><circle cx="154.7" cy="42.6" r="3.2"/><circle cx="156.6" cy="41.0" r="3.2"/><circle cx="156.4" cy="40.8" r="3.2"/><circle cx="156.6" cy="42.9" r="3.2"/><circle cx="156.9" cy="40.8" r="3.2"/><circle cx="158.2" cy="42.1" r="3.2"/><circle cx="158.8" cy="41.5" r="3.2"/><circle cx="159.7" cy="40.8" r="3.2"/><circle cx="159.4" cy="44.7" r="3.2"/><circle cx="159.4" cy="43.7" r="3.2"/><circle cx="161.1" cy="42.1" r="3.2"/><circle cx="162.2" cy="41.8" r="3.2"/><circle cx="161.5" cy="44.6" r="3.2"/><circle cx="162.4" cy="44.7" r="3.2"/><circle cx="163.1" cy="42.4" r="3.2"/><circle cx="164.3" cy="43.5" r="3.2"/><circle cx="164.4" cy="44.0" r="3.2"/><circle cx="165.1" cy="45.1" r="3.2"/><circle cx="164.9" cy="43.0" r="3.2"/><circle cx="166.4" cy="42.9" r="3.2"/><circle cx="165.4" cy="45.3" r="3.2"/><circle cx="166.7" cy="44.7" r="3.2"/><circle cx="167.3" cy="43.7" r="3.2"/><circle cx="168.4" cy="43.2" r="3.2"/><circle cx="168.5" cy="45.1" r="3.2"/><circle cx="169.2" cy="43.4" r="3.2"/><circle cx="168.8" cy="46.5" r="3.2"/><circle cx="169.8" cy="47.8" r="3.2"/><circle cx="170.5" cy="47.9" r="3.2"/><circle cx="171.0" cy="44.7" r="3.2"/><circle cx="172.0" cy="44.8" r="3.2"/><circle cx="172.4" cy="48.4" r="3.2"/><circle cx="172.3" cy="47.4" r="3.2"/><circle cx="173.9" cy="45.8" r="3.2"/><circle cx="173.7" cy="47.5" r="3.2"/><circle cx="174.4" cy="49.3" r="3.2"/><circle cx="174.9" cy="45.4" r="3.2"/><circle cx="175.5" cy="47.2" r="3.2"/><circle cx="176.7" cy="48.7" r="3.2"/><circle cx="177.3" cy="46.3" r="3.2"/><circle cx="177.5" cy="48.5" r="3.2"/><circle cx="178.6" cy="50.4" r="3.2"/><circle cx="180.7" cy="48.0" r="3.2"/><circle cx="181.6" cy="47.6" r="3.2"/><circle cx="179.6" cy="50.5" r="3.2"/><circle cx="182.8" cy="47.1" r="3.2"/><circle cx="182.4" cy="47.5" r="3.2"/><circle cx="182.9" cy="50.3" r="3.2"/><circle cx="182.8" cy="50.8" r="3.2"/><circle cx="182.4" cy="52.2" r="3.2"/><circle cx="184.9" cy="50.9" r="3.2"/><circle cx="185.0" cy="50.8" r="3.2"/><circle cx="186.4" cy="49.9" r="3.2"/><circle cx="185.1" cy="53.9" r="3.2"/><circle cx="187.4" cy="50.4" r="3.2"/><circle cx="187.4" cy="51.4" r="3.2"/><circle cx="186.4" cy="52.6" r="3.2"/><circle cx="189.3" cy="50.9" r="3.2"/><circle cx="189.5" cy="50.0" r="3.2"/><circle cx="189.3" cy="52.7" r="3.2"/><circle cx="188.2" cy="53.8" r="3.2"/><circle cx="191.4" cy="51.7" r="3.2"/><circle cx="190.6" cy="51.4" r="3.2"/><circle cx="191.0" cy="54.4" r="3.2"/><circle cx="191.9" cy="51.5" r="3.2"/><circle cx="191.6" cy="54.7" r="3.2"/><circle cx="192.4" cy="54.1" r="3.2"/><circle cx="192.2" cy="56.7" r="3.2"/><circle cx="192.4" cy="57.3" r="3.2"/><circle cx="195.1" cy="53.5" r="3.2"/><circle cx="195.6" cy="53.6" r="3.2"/><circle cx="195.5" cy="55.1" r="3.2"/><circle cx="195.7" cy="56.0" r="3.2"/><circle cx="195.8" cy="58.3" r="3.2"/><circle cx="198.0" cy="55.6" r="3.2"/><circle cx="197.0" cy="58.1" r="3.2"/><circle cx="197.7" cy="59.8" r="3.2"/><circle cx="200.4" cy="56.8" r="3.2"/><circle cx="198.7" cy="58.5" r="3.2"/><circle cx="200.3" cy="57.8" r="3.2"/><circle cx="201.0" cy="59.6" r="3.2"/><circle cx="202.1" cy="57.9" r="3.2"/><circle cx="202.0" cy="59.9" r="3.2"/><circle cx="203.9" cy="58.6" r="3.2"/><circle cx="203.3" cy="61.9" r="3.2"/><circle cx="203.7" cy="63.5" r="3.2"/><circle cx="205.1" cy="60.5" r="3.2"/><circle cx="206.1" cy="60.9" r="3.2"/><circle cx="205.2" cy="64.1" r="3.2"/><circle cx="207.7" cy="62.7" r="3.2"/><circle cx="208.8" cy="62.1" r="3.2"/><circle cx="209.2" cy="63.1" r="3.2"/><circle cx="209.9" cy="62.8" r="3.2"/><circle cx="211.2" cy="63.3" r="3.2"/><circle cx="208.9" cy="66.5" r="3.2"/><circle cx="210.2" cy="66.1" r="3.2"/><circle cx="211.7" cy="64.2" r="3.2"/><circle cx="210.9" cy="66.5" r="3.2"/><circle cx="212.4" cy="65.8" r="3.2"/><circle cx="211.7" cy="67.9" r="3.2"/><circle cx="213.2" cy="68.2" r="3.2"/><circle cx="213.3" cy="68.7" r="3.2"/><circle cx="215.1" cy="67.1" r="3.2"/><circle cx="214.4" cy="69.9" r="3.2"/><circle cx="216.3" cy="67.6" r="3.2"/><circle cx="215.9" cy="69.3" r="3.2"/><circle cx="217.4" cy="67.7" r="3.2"/><circle cx="217.7" cy="68.5" r="3.2"/><circle cx="218.0" cy="69.1" r="3.2"/><circle cx="217.3" cy="71.3" r="3.2"/><circle cx="219.7" cy="69.6" r="3.2"/><circle cx="216.8" cy="72.3" r="3.2"/><circle cx="219.0" cy="71.4" r="3.2"/><circle cx="219.4" cy="71.1" r="3.2"/><circle cx="221.2" cy="70.3" r="3.2"/><circle cx="220.9" cy="70.6" r="3.2"/><circle cx="219.9" cy="73.2" r="3.2"/><circle cx="220.7" cy="74.1" r="3.2"/><circle cx="223.4" cy="73.9" r="3.2"/><circle cx="221.7" cy="74.2" r="3.2"/><circle cx="222.3" cy="75.6" r="3.2"/><circle cx="222.2" cy="75.6" r="3.2"/><circle cx="222.6" cy="76.4" r="3.2"/><circle cx="225.4" cy="76.2" r="3.2"/><circle cx="223.9" cy="77.7" r="3.2"/><circle cx="226.2" cy="76.8" r="3.2"/><circle cx="224.8" cy="77.5" r="3.2"/><circle cx="225.5" cy="78.3" r="3.2"/><circle cx="225.4" cy="78.5" r="3.2"/><circle cx="226.8" cy="79.1" r="3.2"/><circle cx="225.9" cy="79.3" r="3.2"/><circle cx="227.9" cy="79.4" r="3.2"/><circle cx="227.6" cy="81.3" r="3.2"/><circle cx="229.1" cy="81.2" r="3.2"/><circle cx="229.5" cy="82.1" r="3.2"/><circle cx="229.4" cy="84.3" r="3.2"/><circle cx="229.5" cy="84.3" r="3.2"/><circle cx="230.7" cy="84.1" r="3.2"/><circle cx="232.0" cy="84.9" r="3.2"/><circle cx="232.5" cy="85.7" r="3.2"/><circle cx="232.5" cy="86.2" r="3.2"/><circle cx="232.0" cy="87.0" r="3.2"/><circle cx="232.7" cy="88.2" r="3.2"/><circle cx="233.1" cy="88.2" r="3.2"/><circle cx="232.5" cy="89.2" r="3.2"/><circle cx="234.2" cy="88.4" r="3.2"/><circle cx="234.5" cy="89.8" r="3.2"/><circle cx="234.4" cy="89.4" r="3.2"/><circle cx="234.2" cy="91.4" r="3.2"/><circle cx="234.7" cy="90.6" r="3.2"/><circle cx="234.2" cy="92.4" r="3.2"/><circle cx="235.8" cy="92.5" r="3.2"/><circle cx="235.9" cy="91.8" r="3.2"/><circle cx="235.2" cy="93.6" r="3.2"/><circle cx="236.5" cy="94.2" r="3.2"/><circle cx="237.9" cy="93.7" r="3.2"/><circle cx="237.3" cy="94.6" r="3.2"/><circle cx="239.2" cy="95.6" r="3.2"/><circle cx="238.9" cy="95.0" r="3.2"/><circle cx="239.2" cy="95.8" r="3.2"/><circle cx="240.0" cy="97.0" r="3.2"/><circle cx="238.3" cy="97.7" r="3.2"/><circle cx="239.2" cy="98.7" r="3.2"/><circle cx="239.9" cy="97.8" r="3.2"/><circle cx="239.2" cy="99.6" r="3.2"/><circle cx="241.1" cy="99.0" r="3.2"/><circle cx="240.1" cy="100.6" r="3.2"/><circle cx="241.3" cy="100.8" r="3.2"/><circle cx="242.0" cy="102.2" r="3.2"/><circle cx="242.8" cy="100.9" r="3.2"/><circle cx="243.8" cy="102.2" r="3.2"/><circle cx="243.8" cy="102.8" r="3.2"/><circle cx="243.9" cy="103.7" r="3.2"/><circle cx="243.3" cy="104.5" r="3.2"/><circle cx="244.9" cy="103.9" r="3.2"/><circle cx="245.3" cy="104.5" r="3.2"/><circle cx="244.4" cy="105.7" r="3.2"/><circle cx="246.4" cy="105.4" r="3.2"/><circle cx="245.4" cy="106.3" r="3.2"/><circle cx="246.5" cy="106.7" r="3.2"/><circle cx="247.0" cy="107.1" r="3.2"/><circle cx="247.4" cy="108.0" r="3.2"/><circle cx="247.8" cy="107.6" r="3.2"/><circle cx="248.1" cy="109.2" r="3.2"/><circle cx="247.9" cy="110.1" r="3.2"/><circle cx="248.8" cy="111.7" r="3.2"/><circle cx="249.4" cy="112.4" r="3.2"/><circle cx="249.9" cy="112.8" r="3.2"/><circle cx="249.5" cy="112.8" r="3.2"/><circle cx="251.3" cy="113.7" r="3.2"/><circle cx="251.3" cy="113.7" r="3.2"/><circle cx="250.6" cy="114.7" r="3.2"/><circle cx="251.7" cy="115.9" r="3.2"/><circle cx="253.6" cy="116.2" r="3.2"/><circle cx="253.2" cy="117.1" r="3.2"/><circle cx="252.9" cy="117.8" r="3.2"/><circle cx="254.2" cy="117.7" r="3.2"/><circle cx="255.0" cy="118.5" r="3.2"/><circle cx="255.4" cy="118.8" r="3.2"/><circle cx="255.6" cy="119.2" r="3.2"/><circle cx="254.4" cy="120.0" r="3.2"/><circle cx="255.9" cy="121.1" r="3.2"/><circle cx="254.6" cy="121.2" r="3.2"/><circle cx="255.4" cy="122.2" r="3.2"/><circle cx="256.1" cy="122.8" r="3.2"/><circle cx="256.9" cy="123.4" r="3.2"/><circle cx="257.2" cy="124.9" r="3.2"/><circle cx="257.7" cy="124.5" r="3.2"/><circle cx="257.9" cy="125.4" r="3.2"/><circle cx="259.3" cy="126.6" r="3.2"/><circle cx="258.3" cy="126.2" r="3.2"/><circle cx="260.1" cy="126.9" r="3.2"/><circle cx="259.6" cy="128.3" r="3.2"/><circle cx="260.5" cy="127.8" r="3.2"/><circle cx="260.0" cy="129.2" r="3.2"/><circle cx="260.8" cy="130.5" r="3.2"/><circle cx="261.6" cy="130.1" r="3.2"/><circle cx="261.6" cy="130.8" r="3.2"/><circle cx="261.4" cy="131.9" r="3.2"/><circle cx="263.1" cy="132.8" r="3.2"/><circle cx="263.2" cy="132.5" r="3.2"/><circle cx="262.9" cy="133.5" r="3.2"/><circle cx="263.0" cy="134.5" r="3.2"/><circle cx="263.4" cy="134.5" r="3.2"/><circle cx="263.4" cy="134.9" r="3.2"/><circle cx="264.0" cy="135.7" r="3.2"/><circle cx="265.3" cy="135.7" r="3.2"/><circle cx="265.4" cy="138.0" r="3.2"/><circle cx="265.1" cy="137.7" r="3.2"/><circle cx="266.0" cy="137.9" r="3.2"/><circle cx="266.5" cy="139.3" r="3.2"/><circle cx="267.7" cy="139.6" r="3.2"/><circle cx="268.0" cy="140.9" r="3.2"/><circle cx="268.3" cy="140.1" r="3.2"/><circle cx="268.4" cy="142.2" r="3.2"/><circle cx="268.8" cy="141.4" r="3.2"/><circle cx="269.6" cy="142.5" r="3.2"/><circle cx="268.4" cy="142.8" r="3.2"/><circle cx="269.5" cy="144.0" r="3.2"/><circle cx="269.5" cy="144.0" r="3.2"/><circle cx="270.0" cy="145.1" r="3.2"/><circle cx="271.1" cy="144.5" r="3.2"/><circle cx="271.1" cy="144.7" r="3.2"/><circle cx="270.5" cy="145.8" r="3.2"/><circle cx="271.5" cy="146.4" r="3.2"/><circle cx="270.6" cy="146.6" r="3.2"/><circle cx="272.1" cy="146.7" r="3.2"/><circle cx="272.6" cy="148.1" r="3.2"/><circle cx="272.5" cy="147.6" r="3.2"/><circle cx="273.3" cy="148.3" r="3.2"/><circle cx="273.2" cy="148.8" r="3.2"/><circle cx="273.7" cy="149.7" r="3.2"/><circle cx="273.2" cy="150.3" r="3.2"/><circle cx="274.3" cy="150.4" r="3.2"/><circle cx="275.4" cy="150.8" r="3.2"/><circle cx="275.9" cy="151.1" r="3.2"/><circle cx="276.0" cy="152.0" r="3.2"/><circle cx="277.1" cy="153.0" r="3.2"/><circle cx="276.6" cy="152.7" r="3.2"/><circle cx="277.1" cy="153.6" r="3.2"/><circle cx="277.9" cy="154.8" r="3.2"/><circle cx="278.6" cy="156.0" r="3.2"/><circle cx="280.2" cy="155.8" r="3.2"/><circle cx="280.1" cy="156.5" r="3.2"/><circle cx="281.2" cy="156.0" r="3.2"/><circle cx="281.8" cy="157.8" r="3.2"/><circle cx="283.6" cy="157.7" r="3.2"/><circle cx="283.8" cy="158.1" r="3.2"/><circle cx="284.8" cy="157.8" r="3.2"/><circle cx="285.4" cy="157.8" r="3.2"/><circle cx="285.9" cy="159.4" r="3.2"/><circle cx="285.4" cy="160.4" r="3.2"/><circle cx="286.6" cy="161.1" r="3.2"/><circle cx="286.9" cy="159.9" r="3.2"/><circle cx="288.1" cy="160.9" r="3.2"/><circle cx="288.2" cy="159.9" r="3.2"/><circle cx="289.5" cy="160.9" r="3.2"/><circle cx="288.8" cy="161.0" r="3.2"/><circle cx="289.3" cy="162.1" r="3.2"/><circle cx="289.4" cy="161.7" r="3.2"/><circle cx="291.8" cy="161.1" r="3.2"/><circle cx="291.2" cy="161.1" r="3.2"/><circle cx="292.5" cy="162.0" r="3.2"/><circle cx="292.1" cy="163.2" r="3.2"/><circle cx="293.3" cy="163.2" r="3.2"/><circle cx="293.5" cy="164.4" r="3.2"/><circle cx="294.5" cy="162.7" r="3.2"/><circle cx="294.7" cy="163.4" r="3.2"/><circle cx="295.8" cy="164.9" r="3.2"/><circle cx="297.1" cy="163.4" r="3.2"/><circle cx="298.7" cy="164.1" r="3.2"/><circle cx="297.5" cy="165.3" r="3.2"/><circle cx="299.4" cy="164.8" r="3.2"/><circle cx="299.3" cy="166.2" r="3.2"/><circle cx="299.5" cy="167.1" r="3.2"/><circle cx="299.9" cy="165.6" r="3.2"/><circle cx="301.0" cy="167.7" r="3.2"/><circle cx="300.5" cy="166.8" r="3.2"/><circle cx="302.2" cy="165.9" r="3.2"/><circle cx="301.4" cy="167.2" r="3.2"/><circle cx="302.4" cy="167.5" r="3.2"/><circle cx="303.3" cy="167.2" r="3.2"/><circle cx="304.4" cy="167.6" r="3.2"/><circle cx="303.8" cy="167.8" r="3.2"/><circle cx="304.9" cy="169.2" r="3.2"/><circle cx="304.7" cy="169.0" r="3.2"/><circle cx="306.2" cy="167.6" r="3.2"/><circle cx="305.4" cy="168.7" r="3.2"/><circle cx="306.7" cy="169.5" r="3.2"/><circle cx="307.6" cy="169.9" r="3.2"/><circle cx="307.9" cy="169.6" r="3.2"/><circle cx="309.5" cy="169.6" r="3.2"/><circle cx="309.8" cy="171.1" r="3.2"/><circle cx="310.9" cy="170.0" r="3.2"/><circle cx="310.9" cy="171.5" r="3.2"/><circle cx="312.2" cy="171.7" r="3.2"/><circle cx="313.4" cy="170.6" r="3.2"/><circle cx="313.6" cy="171.6" r="3.2"/><circle cx="313.6" cy="172.4" r="3.2"/><circle cx="314.2" cy="172.8" r="3.2"/><circle cx="314.8" cy="173.0" r="3.2"/><circle cx="315.8" cy="172.9" r="3.2"/><circle cx="315.7" cy="173.3" r="3.2"/><circle cx="316.1" cy="173.6" r="3.2"/><circle cx="316.3" cy="173.1" r="3.2"/><circle cx="318.8" cy="171.6" r="3.2"/><circle cx="318.3" cy="172.6" r="3.2"/><circle cx="318.9" cy="173.9" r="3.2"/><circle cx="319.4" cy="171.7" r="3.2"/><circle cx="320.5" cy="172.5" r="3.2"/><circle cx="321.6" cy="173.5" r="3.2"/><circle cx="320.9" cy="175.5" r="3.2"/><circle cx="322.2" cy="174.5" r="3.2"/><circle cx="321.6" cy="175.1" r="3.2"/><circle cx="323.6" cy="174.3" r="3.2"/><circle cx="324.8" cy="173.4" r="3.2"/><circle cx="324.7" cy="173.5" r="3.2"/><circle cx="324.2" cy="177.4" r="3.2"/><circle cx="324.3" cy="176.2" r="3.2"/><circle cx="326.0" cy="175.0" r="3.2"/><circle cx="327.8" cy="173.9" r="3.2"/><circle cx="327.7" cy="178.3" r="3.2"/><circle cx="328.8" cy="174.2" r="3.2"/><circle cx="328.8" cy="178.0" r="3.2"/><circle cx="329.7" cy="176.2" r="3.2"/><circle cx="330.7" cy="175.3" r="3.2"/><circle cx="330.2" cy="175.1" r="3.2"/><circle cx="330.9" cy="176.4" r="3.2"/><circle cx="330.5" cy="179.8" r="3.2"/><circle cx="332.7" cy="176.4" r="3.2"/><circle cx="332.6" cy="180.1" r="3.2"/><circle cx="332.7" cy="180.5" r="3.2"/><circle cx="334.3" cy="178.3" r="3.2"/><circle cx="335.9" cy="176.1" r="3.2"/><circle cx="334.8" cy="180.0" r="3.2"/><circle cx="336.3" cy="177.0" r="3.2"/><circle cx="336.8" cy="181.4" r="3.2"/><circle cx="337.8" cy="180.0" r="3.2"/><circle cx="337.8" cy="178.4" r="3.2"/><circle cx="339.0" cy="179.0" r="3.2"/><circle cx="339.2" cy="177.8" r="3.2"/><circle cx="339.8" cy="180.9" r="3.2"/><circle cx="340.8" cy="177.6" r="3.2"/><circle cx="340.9" cy="182.4" r="3.2"/><circle cx="341.5" cy="177.6" r="3.2"/><circle cx="342.2" cy="179.2" r="3.2"/><circle cx="343.3" cy="177.3" r="3.2"/><circle cx="343.3" cy="177.8" r="3.2"/><circle cx="344.4" cy="180.7" r="3.2"/><circle cx="345.6" cy="179.8" r="3.2"/><circle cx="346.3" cy="181.1" r="3.2"/><circle cx="347.3" cy="180.1" r="3.2"/><circle cx="347.1" cy="183.9" r="3.2"/><circle cx="347.0" cy="183.9" r="3.2"/><circle cx="348.6" cy="181.6" r="3.2"/><circle cx="348.6" cy="181.3" r="3.2"/><circle cx="349.9" cy="182.6" r="3.2"/><circle cx="350.5" cy="184.8" r="3.2"/><circle cx="352.3" cy="179.0" r="3.2"/><circle cx="352.1" cy="185.1" r="3.2"/><circle cx="352.4" cy="182.6" r="3.2"/><circle cx="353.5" cy="185.0" r="3.2"/><circle cx="353.1" cy="184.4" r="3.2"/><circle cx="355.8" cy="180.9" r="3.2"/><circle cx="356.0" cy="180.4" r="3.2"/><circle cx="355.5" cy="185.4" r="3.2"/><circle cx="356.7" cy="182.0" r="3.2"/><circle cx="356.3" cy="184.4" r="3.2"/><circle cx="357.0" cy="185.4" r="3.2"/><circle cx="357.4" cy="185.0" r="3.2"/><circle cx="358.4" cy="181.2" r="3.2"/><circle cx="358.8" cy="186.7" r="3.2"/><circle cx="360.0" cy="184.8" r="3.2"/><circle cx="360.7" cy="185.7" r="3.2"/><circle cx="361.6" cy="183.4" r="3.2"/><circle cx="362.2" cy="182.0" r="3.2"/><circle cx="362.6" cy="182.2" r="3.2"/><circle cx="363.5" cy="182.4" r="3.2"/><circle cx="363.8" cy="185.3" r="3.2"/><circle cx="363.5" cy="185.1" r="3.2"/><circle cx="364.9" cy="184.5" r="3.2"/><circle cx="364.3" cy="186.8" r="3.2"/><circle cx="366.0" cy="183.5" r="3.2"/><circle cx="367.0" cy="184.8" r="3.2"/><circle cx="366.3" cy="187.3" r="3.2"/><circle cx="367.4" cy="188.1" r="3.2"/><circle cx="368.4" cy="189.0" r="3.2"/><circle cx="369.1" cy="183.8" r="3.2"/><circle cx="370.1" cy="185.0" r="3.2"/><circle cx="369.5" cy="187.2" r="3.2"/><circle cx="371.4" cy="187.0" r="3.2"/><circle cx="371.4" cy="184.9" r="3.2"/><circle cx="372.9" cy="186.2" r="3.2"/><circle cx="371.4" cy="188.5" r="3.2"/><circle cx="373.9" cy="184.5" r="3.2"/><circle cx="372.2" cy="189.9" r="3.2"/><circle cx="373.2" cy="188.7" r="3.2"/><circle cx="373.8" cy="188.0" r="3.2"/><circle cx="374.5" cy="190.1" r="3.2"/><circle cx="374.7" cy="188.4" r="3.2"/><circle cx="376.3" cy="188.5" r="3.2"/><circle cx="375.4" cy="191.7" r="3.2"/><circle cx="377.7" cy="187.5" r="3.2"/><circle cx="379.3" cy="187.1" r="3.2"/><circle cx="376.5" cy="192.9" r="3.2"/><circle cx="378.3" cy="191.2" r="3.2"/><circle cx="379.5" cy="189.6" r="3.2"/><circle cx="380.2" cy="188.1" r="3.2"/><circle cx="380.4" cy="191.0" r="3.2"/><circle cx="381.7" cy="188.1" r="3.2"/><circle cx="382.7" cy="189.0" r="3.2"/><circle cx="382.3" cy="191.2" r="3.2"/><circle cx="382.5" cy="194.4" r="3.2"/><circle cx="382.7" cy="191.1" r="3.2"/><circle cx="384.8" cy="189.1" r="3.2"/><circle cx="383.7" cy="193.0" r="3.2"/><circle cx="386.0" cy="188.8" r="3.2"/><circle cx="386.5" cy="189.4" r="3.2"/><circle cx="387.1" cy="193.0" r="3.2"/><circle cx="387.5" cy="191.4" r="3.2"/><circle cx="387.4" cy="194.0" r="3.2"/><circle cx="387.1" cy="195.9" r="3.2"/><circle cx="389.9" cy="190.1" r="3.2"/><circle cx="388.5" cy="195.4" r="3.2"/><circle cx="389.6" cy="195.8" r="3.2"/><circle cx="390.6" cy="190.5" r="3.2"/><circle cx="391.4" cy="189.9" r="3.2"/><circle cx="391.8" cy="196.4" r="3.2"/><circle cx="392.7" cy="192.5" r="3.2"/><circle cx="392.4" cy="196.4" r="3.2"/><circle cx="394.2" cy="195.3" r="3.2"/><circle cx="395.6" cy="192.3" r="3.2"/><circle cx="394.9" cy="194.3" r="3.2"/><circle cx="396.1" cy="194.8" r="3.2"/><circle cx="396.3" cy="192.7" r="3.2"/><circle cx="396.9" cy="194.9" r="3.2"/><circle cx="396.4" cy="196.0" r="3.2"/><circle cx="398.7" cy="193.7" r="3.2"/><circle cx="397.9" cy="196.7" r="3.2"/><circle cx="399.9" cy="193.8" r="3.2"/><circle cx="398.9" cy="195.5" r="3.2"/><circle cx="400.4" cy="195.1" r="3.2"/><circle cx="399.4" cy="197.9" r="3.2"/><circle cx="401.5" cy="194.0" r="3.2"/><circle cx="402.2" cy="194.9" r="3.2"/><circle cx="401.8" cy="198.0" r="3.2"/><circle cx="403.8" cy="194.8" r="3.2"/><circle cx="402.9" cy="197.6" r="3.2"/><circle cx="403.4" cy="198.0" r="3.2"/><circle cx="404.8" cy="196.0" r="3.2"/><circle cx="404.2" cy="200.1" r="3.2"/><circle cx="405.5" cy="200.5" r="3.2"/><circle cx="406.9" cy="196.4" r="3.2"/><circle cx="406.7" cy="199.6" r="3.2"/><circle cx="408.0" cy="196.9" r="3.2"/><circle cx="408.2" cy="197.8" r="3.2"/><circle cx="408.7" cy="200.5" r="3.2"/><circle cx="410.0" cy="197.8" r="3.2"/><circle cx="408.9" cy="201.4" r="3.2"/><circle cx="411.8" cy="197.3" r="3.2"/><circle cx="410.2" cy="200.9" r="3.2"/><circle cx="411.2" cy="201.4" r="3.2"/><circle cx="412.4" cy="200.9" r="3.2"/><circle cx="414.0" cy="196.8" r="3.2"/><circle cx="414.3" cy="198.8" r="3.2"/><circle cx="414.0" cy="197.7" r="3.2"/><circle cx="414.7" cy="198.8" r="3.2"/><circle cx="415.5" cy="198.9" r="3.2"/><circle cx="415.8" cy="201.1" r="3.2"/><circle cx="416.1" cy="197.8" r="3.2"/><circle cx="416.6" cy="200.9" r="3.2"/><circle cx="417.8" cy="202.9" r="3.2"/><circle cx="418.5" cy="198.8" r="3.2"/><circle cx="418.9" cy="199.5" r="3.2"/><circle cx="419.4" cy="199.7" r="3.2"/><circle cx="419.6" cy="200.9" r="3.2"/><circle cx="421.4" cy="200.2" r="3.2"/><circle cx="421.7" cy="200.7" r="3.2"/><circle cx="420.4" cy="204.6" r="3.2"/><circle cx="420.8" cy="203.8" r="3.2"/><circle cx="422.7" cy="201.3" r="3.2"/><circle cx="422.4" cy="204.1" r="3.2"/><circle cx="423.1" cy="204.2" r="3.2"/><circle cx="422.2" cy="205.3" r="3.2"/><circle cx="425.6" cy="201.5" r="3.2"/><circle cx="424.4" cy="204.8" r="3.2"/><circle cx="426.3" cy="202.9" r="3.2"/><circle cx="426.5" cy="201.0" r="3.2"/><circle cx="427.3" cy="203.7" r="3.2"/><circle cx="427.4" cy="203.9" r="3.2"/><circle cx="428.5" cy="201.2" r="3.2"/><circle cx="428.8" cy="203.9" r="3.2"/><circle cx="428.4" cy="204.6" r="3.2"/><circle cx="429.9" cy="205.3" r="3.2"/><circle cx="430.4" cy="205.5" r="3.2"/><circle cx="431.1" cy="204.9" r="3.2"/><circle cx="430.4" cy="207.9" r="3.2"/><circle cx="431.9" cy="205.0" r="3.2"/><circle cx="432.5" cy="204.9" r="3.2"/><circle cx="431.2" cy="208.7" r="3.2"/><circle cx="433.0" cy="207.5" r="3.2"/><circle cx="433.6" cy="205.7" r="3.2"/><circle cx="434.6" cy="206.2" r="3.2"/><circle cx="435.5" cy="206.7" r="3.2"/><circle cx="436.0" cy="208.8" r="3.2"/><circle cx="436.2" cy="207.6" r="3.2"/><circle cx="436.5" cy="209.8" r="3.2"/><circle cx="436.3" cy="210.0" r="3.2"/><circle cx="438.9" cy="206.1" r="3.2"/><circle cx="438.8" cy="210.1" r="3.2"/><circle cx="439.8" cy="209.3" r="3.2"/><circle cx="440.7" cy="207.8" r="3.2"/><circle cx="441.5" cy="208.6" r="3.2"/><circle cx="441.5" cy="210.6" r="3.2"/><circle cx="441.8" cy="210.1" r="3.2"/><circle cx="443.6" cy="208.6" r="3.2"/><circle cx="442.5" cy="210.9" r="3.2"/><circle cx="443.8" cy="211.7" r="3.2"/><circle cx="444.1" cy="211.4" r="3.2"/><circle cx="445.4" cy="209.7" r="3.2"/><circle cx="444.6" cy="212.7" r="3.2"/><circle cx="446.2" cy="210.7" r="3.2"/><circle cx="446.7" cy="213.3" r="3.2"/><circle cx="447.4" cy="212.4" r="3.2"/><circle cx="447.8" cy="214.1" r="3.2"/><circle cx="449.7" cy="211.4" r="3.2"/><circle cx="449.6" cy="214.1" r="3.2"/><circle cx="451.0" cy="210.6" r="3.2"/><circle cx="450.7" cy="214.4" r="3.2"/><circle cx="451.3" cy="213.2" r="3.2"/><circle cx="451.3" cy="214.9" r="3.2"/><circle cx="452.5" cy="211.2" r="3.2"/><circle cx="453.7" cy="211.9" r="3.2"/><circle cx="453.2" cy="211.9" r="3.2"/><circle cx="454.7" cy="213.1" r="3.2"/><circle cx="453.8" cy="215.6" r="3.2"/><circle cx="455.4" cy="214.1" r="3.2"/><circle cx="455.8" cy="216.3" r="3.2"/><circle cx="455.5" cy="215.3" r="3.2"/><circle cx="456.6" cy="216.5" r="3.2"/><circle cx="457.2" cy="215.4" r="3.2"/><circle cx="457.7" cy="215.9" r="3.2"/><circle cx="457.6" cy="216.2" r="3.2"/><circle cx="458.3" cy="217.0" r="3.2"/><circle cx="459.0" cy="216.4" r="3.2"/><circle cx="459.6" cy="216.4" r="3.2"/><circle cx="460.1" cy="214.8" r="3.2"/><circle cx="461.1" cy="215.8" r="3.2"/><circle cx="462.8" cy="215.1" r="3.2"/><circle cx="461.9" cy="217.6" r="3.2"/><circle cx="463.1" cy="216.0" r="3.2"/><circle cx="462.7" cy="217.8" r="3.2"/><circle cx="463.5" cy="217.4" r="3.2"/><circle cx="463.2" cy="218.8" r="3.2"/><circle cx="464.1" cy="218.7" r="3.2"/><circle cx="464.3" cy="218.5" r="3.2"/><circle cx="466.1" cy="216.7" r="3.2"/><circle cx="466.6" cy="218.5" r="3.2"/><circle cx="468.0" cy="218.0" r="3.2"/><circle cx="468.6" cy="217.4" r="3.2"/><circle cx="468.1" cy="220.6" r="3.2"/><circle cx="468.5" cy="219.8" r="3.2"/><circle cx="468.9" cy="220.7" r="3.2"/><circle cx="469.2" cy="221.2" r="3.2"/><circle cx="469.9" cy="221.3" r="3.2"/><circle cx="470.5" cy="222.1" r="3.2"/><circle cx="472.5" cy="220.7" r="3.2"/><circle cx="472.7" cy="219.6" r="3.2"/><circle cx="473.2" cy="220.9" r="3.2"/><circle cx="473.9" cy="222.0" r="3.2"/><circle cx="474.4" cy="221.7" r="3.2"/><circle cx="475.5" cy="222.3" r="3.2"/><circle cx="476.4" cy="220.6" r="3.2"/><circle cx="477.2" cy="221.0" r="3.2"/><circle cx="476.1" cy="222.9" r="3.2"/><circle cx="476.5" cy="224.0" r="3.2"/><circle cx="476.5" cy="223.7" r="3.2"/><circle cx="477.7" cy="223.9" r="3.2"/><circle cx="477.7" cy="223.2" r="3.2"/><circle cx="478.4" cy="224.4" r="3.2"/><circle cx="479.2" cy="224.8" r="3.2"/><circle cx="479.6" cy="225.6" r="3.2"/><circle cx="481.0" cy="223.6" r="3.2"/><circle cx="481.0" cy="223.7" r="3.2"/><circle cx="482.1" cy="224.3" r="3.2"/><circle cx="481.7" cy="225.0" r="3.2"/><circle cx="481.9" cy="226.3" r="3.2"/><circle cx="484.3" cy="224.6" r="3.2"/><circle cx="484.4" cy="225.1" r="3.2"/><circle cx="483.3" cy="228.1" r="3.2"/><circle cx="484.8" cy="228.0" r="3.2"/><circle cx="484.5" cy="228.5" r="3.2"/><circle cx="487.3" cy="226.8" r="3.2"/><circle cx="486.1" cy="227.8" r="3.2"/><circle cx="486.9" cy="229.2" r="3.2"/><circle cx="486.8" cy="228.1" r="3.2"/><circle cx="487.3" cy="229.8" r="3.2"/><circle cx="487.7" cy="229.3" r="3.2"/><circle cx="488.5" cy="229.4" r="3.2"/><circle cx="489.1" cy="229.7" r="3.2"/><circle cx="490.2" cy="229.8" r="3.2"/><circle cx="488.6" cy="230.8" r="3.2"/><circle cx="490.7" cy="230.9" r="3.2"/><circle cx="491.8" cy="230.0" r="3.2"/><circle cx="491.4" cy="231.5" r="3.2"/><circle cx="492.3" cy="231.8" r="3.2"/><circle cx="491.7" cy="231.5" r="3.2"/><circle cx="493.5" cy="231.7" r="3.2"/><circle cx="493.1" cy="231.4" r="3.2"/><circle cx="494.6" cy="232.2" r="3.2"/><circle cx="495.2" cy="233.2" r="3.2"/><circle cx="495.5" cy="232.3" r="3.2"/><circle cx="495.1" cy="234.1" r="3.2"/><circle cx="495.6" cy="233.8" r="3.2"/><circle cx="497.0" cy="233.6" r="3.2"/><circle cx="496.6" cy="233.5" r="3.2"/><circle cx="498.5" cy="233.9" r="3.2"/><circle cx="497.9" cy="233.9" r="3.2"/><circle cx="498.2" cy="235.7" r="3.2"/><circle cx="499.0" cy="235.1" r="3.2"/><circle cx="499.3" cy="235.6" r="3.2"/><circle cx="499.8" cy="233.8" r="3.2"/><circle cx="500.0" cy="236.3" r="3.2"/><circle cx="501.0" cy="235.3" r="3.2"/><circle cx="502.1" cy="234.8" r="3.2"/><circle cx="502.2" cy="235.8" r="3.2"/><circle cx="503.0" cy="235.4" r="3.2"/><circle cx="504.1" cy="235.1" r="3.2"/><circle cx="502.8" cy="237.8" r="3.2"/><circle cx="503.8" cy="237.5" r="3.2"/><circle cx="503.6" cy="238.2" r="3.2"/><circle cx="504.7" cy="237.9" r="3.2"/><circle cx="505.3" cy="236.8" r="3.2"/><circle cx="506.8" cy="236.0" r="3.2"/><circle cx="506.5" cy="236.7" r="3.2"/><circle cx="507.9" cy="237.1" r="3.2"/><circle cx="508.2" cy="237.0" r="3.2"/><circle cx="508.5" cy="237.6" r="3.2"/><circle cx="507.4" cy="239.7" r="3.2"/><circle cx="510.4" cy="237.6" r="3.2"/><circle cx="510.4" cy="239.9" r="3.2"/><circle cx="510.5" cy="237.6" r="3.2"/><circle cx="511.2" cy="240.3" r="3.2"/><circle cx="511.9" cy="240.1" r="3.2"/><circle cx="512.1" cy="239.8" r="3.2"/><circle cx="513.3" cy="239.6" r="3.2"/><circle cx="512.4" cy="241.1" r="3.2"/><circle cx="513.8" cy="240.9" r="3.2"/><circle cx="515.0" cy="241.4" r="3.2"/><circle cx="514.5" cy="242.4" r="3.2"/><circle cx="515.0" cy="243.6" r="3.2"/><circle cx="515.4" cy="244.2" r="3.2"/><circle cx="515.8" cy="244.2" r="3.2"/><circle cx="517.4" cy="243.0" r="3.2"/><circle cx="518.8" cy="243.8" r="3.2"/><circle cx="521.0" cy="241.4" r="3.2"/><circle cx="520.2" cy="241.6" r="3.2"/><circle cx="521.3" cy="242.2" r="3.2"/><circle cx="522.7" cy="242.1" r="3.2"/><circle cx="522.8" cy="244.5" r="3.2"/><circle cx="521.8" cy="245.3" r="3.2"/><circle cx="522.5" cy="247.3" r="3.2"/><circle cx="523.6" cy="244.5" r="3.2"/><circle cx="524.2" cy="246.7" r="3.2"/><circle cx="525.4" cy="246.1" r="3.2"/><circle cx="526.6" cy="244.2" r="3.2"/><circle cx="526.3" cy="247.8" r="3.2"/><circle cx="526.4" cy="248.3" r="3.2"/><circle cx="527.1" cy="247.9" r="3.2"/><circle cx="527.9" cy="248.9" r="3.2"/><circle cx="528.6" cy="248.9" r="3.2"/><circle cx="529.6" cy="246.2" r="3.2"/><circle cx="529.8" cy="249.7" r="3.2"/><circle cx="531.7" cy="246.0" r="3.2"/><circle cx="532.7" cy="246.7" r="3.2"/><circle cx="532.8" cy="246.0" r="3.2"/><circle cx="534.1" cy="247.3" r="3.2"/><circle cx="533.1" cy="251.2" r="3.2"/><circle cx="534.6" cy="247.8" r="3.2"/><circle cx="535.1" cy="249.2" r="3.2"/><circle cx="536.6" cy="246.8" r="3.2"/><circle cx="425.0" cy="199.0" r="3.2"/><circle cx="432.0" cy="201.0" r="3.2"/><circle cx="438.0" cy="203.0" r="3.2"/><circle cx="445.0" cy="204.5" r="3.2"/><circle cx="450.0" cy="205.5" r="3.2"/><circle cx="428.0" cy="197.5" r="3.2"/><circle cx="441.0" cy="201.5" r="3.2"/><circle cx="447.0" cy="207.0" r="3.2"/><circle cx="218.3" cy="79.2" r="3.2"/><circle cx="236.0" cy="96.0" r="3.2"/><circle cx="240.0" cy="102.0" r="3.2"/><circle cx="246.0" cy="116.0" r="3.2"/><circle cx="258.0" cy="128.0" r="3.2"/><circle cx="262.0" cy="140.0" r="3.2"/><circle cx="290.0" cy="160.0" r="3.2"/><circle cx="294.0" cy="163.0" r="3.2"/></g>
<g fill="#0000ff" clip-path="url(#cl)"><circle cx="73.5" cy="501.2" r="3.2"/><circle cx="72.8" cy="501.3" r="3.2"/><circle cx="74.2" cy="501.2" r="3.2"/><circle cx="74.0" cy="501.5" r="3.2"/><circle cx="75.5" cy="501.3" r="3.2"/><circle cx="75.5" cy="501.4" r="3.2"/><circle cx="76.3" cy="501.2" r="3.2"/><circle cx="77.3" cy="501.6" r="3.2"/><circle cx="77.1" cy="501.6" r="3.2"/><circle cx="78.0" cy="501.2" r="3.2"/><circle cx="78.7" cy="501.3" r="3.2"/><circle cx="79.1" cy="501.5" r="3.2"/><circle cx="80.1" cy="501.5" r="3.2"/><circle cx="81.1" cy="501.6" r="3.2"/><circle cx="81.9" cy="501.7" r="3.2"/><circle cx="81.8" cy="501.0" r="3.2"/><circle cx="83.2" cy="501.7" r="3.2"/><circle cx="84.3" cy="501.6" r="3.2"/><circle cx="85.3" cy="501.2" r="3.2"/><circle cx="84.6" cy="501.1" r="3.2"/><circle cx="85.8" cy="501.5" r="3.2"/><circle cx="86.6" cy="501.6" r="3.2"/><circle cx="87.8" cy="501.2" r="3.2"/><circle cx="88.5" cy="501.6" r="3.2"/><circle cx="89.1" cy="501.5" r="3.2"/><circle cx="89.5" cy="500.9" r="3.2"/><circle cx="89.9" cy="500.8" r="3.2"/><circle cx="90.0" cy="500.7" r="3.2"/><circle cx="90.9" cy="501.6" r="3.2"/><circle cx="91.3" cy="501.5" r="3.2"/><circle cx="91.8" cy="500.9" r="3.2"/><circle cx="93.1" cy="501.0" r="3.2"/><circle cx="92.8" cy="501.1" r="3.2"/><circle cx="93.7" cy="501.6" r="3.2"/><circle cx="94.6" cy="500.6" r="3.2"/><circle cx="94.9" cy="500.6" r="3.2"/><circle cx="96.5" cy="501.3" r="3.2"/><circle cx="97.1" cy="501.1" r="3.2"/><circle cx="97.8" cy="500.9" r="3.2"/><circle cx="97.6" cy="501.2" r="3.2"/><circle cx="99.0" cy="500.9" r="3.2"/><circle cx="100.2" cy="500.6" r="3.2"/><circle cx="100.1" cy="501.3" r="3.2"/><circle cx="101.4" cy="501.1" r="3.2"/><circle cx="101.3" cy="501.5" r="3.2"/><circle cx="102.2" cy="501.4" r="3.2"/><circle cx="102.4" cy="500.7" r="3.2"/><circle cx="102.8" cy="501.4" r="3.2"/><circle cx="103.8" cy="500.7" r="3.2"/><circle cx="104.8" cy="501.0" r="3.2"/><circle cx="106.1" cy="501.3" r="3.2"/><circle cx="107.5" cy="500.8" r="3.2"/><circle cx="108.1" cy="500.7" r="3.2"/><circle cx="108.5" cy="501.0" r="3.2"/><circle cx="109.1" cy="500.7" r="3.2"/><circle cx="110.5" cy="500.9" r="3.2"/><circle cx="111.4" cy="500.4" r="3.2"/><circle cx="111.3" cy="500.1" r="3.2"/><circle cx="112.3" cy="500.8" r="3.2"/><circle cx="111.9" cy="500.3" r="3.2"/><circle cx="113.0" cy="500.8" r="3.2"/><circle cx="112.8" cy="500.7" r="3.2"/><circle cx="114.3" cy="501.1" r="3.2"/><circle cx="115.0" cy="500.2" r="3.2"/><circle cx="116.3" cy="500.2" r="3.2"/><circle cx="116.0" cy="500.0" r="3.2"/><circle cx="116.5" cy="501.1" r="3.2"/><circle cx="118.4" cy="500.4" r="3.2"/><circle cx="118.3" cy="499.9" r="3.2"/><circle cx="119.4" cy="500.4" r="3.2"/><circle cx="118.8" cy="499.8" r="3.2"/><circle cx="119.8" cy="499.8" r="3.2"/><circle cx="120.1" cy="500.6" r="3.2"/><circle cx="121.0" cy="500.7" r="3.2"/><circle cx="121.3" cy="499.8" r="3.2"/><circle cx="122.4" cy="499.8" r="3.2"/><circle cx="122.5" cy="499.8" r="3.2"/><circle cx="123.6" cy="500.7" r="3.2"/><circle cx="125.1" cy="500.6" r="3.2"/><circle cx="125.9" cy="500.9" r="3.2"/><circle cx="126.8" cy="500.8" r="3.2"/><circle cx="128.4" cy="500.3" r="3.2"/><circle cx="128.7" cy="499.7" r="3.2"/><circle cx="130.3" cy="499.4" r="3.2"/><circle cx="131.1" cy="499.4" r="3.2"/><circle cx="132.2" cy="499.0" r="3.2"/><circle cx="132.6" cy="499.3" r="3.2"/><circle cx="134.0" cy="499.9" r="3.2"/><circle cx="133.7" cy="500.0" r="3.2"/><circle cx="135.3" cy="498.9" r="3.2"/><circle cx="134.5" cy="498.7" r="3.2"/><circle cx="136.1" cy="498.3" r="3.2"/><circle cx="137.1" cy="498.4" r="3.2"/><circle cx="137.0" cy="499.7" r="3.2"/><circle cx="137.7" cy="497.9" r="3.2"/><circle cx="139.3" cy="499.2" r="3.2"/><circle cx="139.1" cy="499.2" r="3.2"/><circle cx="139.8" cy="497.7" r="3.2"/><circle cx="141.2" cy="497.9" r="3.2"/><circle cx="140.7" cy="497.8" r="3.2"/><circle cx="142.3" cy="499.0" r="3.2"/><circle cx="141.9" cy="498.2" r="3.2"/><circle cx="143.1" cy="499.0" r="3.2"/><circle cx="143.9" cy="498.8" r="3.2"/><circle cx="144.9" cy="496.8" r="3.2"/><circle cx="144.8" cy="498.4" r="3.2"/><circle cx="146.2" cy="498.8" r="3.2"/><circle cx="147.5" cy="498.2" r="3.2"/><circle cx="148.0" cy="496.3" r="3.2"/><circle cx="149.3" cy="498.2" r="3.2"/><circle cx="149.8" cy="497.1" r="3.2"/><circle cx="151.3" cy="496.4" r="3.2"/><circle cx="152.3" cy="497.3" r="3.2"/><circle cx="152.9" cy="494.7" r="3.2"/><circle cx="154.1" cy="496.4" r="3.2"/><circle cx="154.6" cy="493.6" r="3.2"/><circle cx="155.9" cy="494.1" r="3.2"/><circle cx="156.9" cy="494.9" r="3.2"/><circle cx="156.3" cy="494.0" r="3.2"/><circle cx="157.5" cy="494.6" r="3.2"/><circle cx="158.1" cy="492.6" r="3.2"/><circle cx="160.0" cy="493.0" r="3.2"/><circle cx="160.5" cy="493.0" r="3.2"/><circle cx="160.9" cy="490.9" r="3.2"/><circle cx="161.5" cy="492.4" r="3.2"/><circle cx="162.1" cy="491.5" r="3.2"/><circle cx="163.3" cy="490.2" r="3.2"/><circle cx="164.3" cy="491.1" r="3.2"/><circle cx="165.0" cy="490.0" r="3.2"/><circle cx="166.9" cy="491.6" r="3.2"/><circle cx="166.2" cy="488.4" r="3.2"/><circle cx="168.8" cy="490.1" r="3.2"/><circle cx="169.4" cy="489.8" r="3.2"/><circle cx="169.7" cy="488.8" r="3.2"/><circle cx="171.3" cy="488.5" r="3.2"/><circle cx="171.1" cy="487.5" r="3.2"/><circle cx="171.1" cy="487.1" r="3.2"/><circle cx="172.7" cy="487.7" r="3.2"/><circle cx="173.1" cy="486.8" r="3.2"/><circle cx="174.1" cy="487.3" r="3.2"/><circle cx="174.1" cy="486.1" r="3.2"/><circle cx="175.1" cy="484.5" r="3.2"/><circle cx="176.5" cy="486.0" r="3.2"/><circle cx="177.4" cy="485.0" r="3.2"/><circle cx="177.8" cy="484.6" r="3.2"/><circle cx="179.2" cy="484.3" r="3.2"/><circle cx="179.0" cy="482.1" r="3.2"/><circle cx="180.8" cy="484.2" r="3.2"/><circle cx="182.4" cy="483.4" r="3.2"/><circle cx="181.9" cy="481.4" r="3.2"/><circle cx="183.2" cy="480.7" r="3.2"/><circle cx="184.7" cy="481.7" r="3.2"/><circle cx="185.8" cy="482.1" r="3.2"/><circle cx="184.9" cy="478.6" r="3.2"/><circle cx="186.7" cy="479.4" r="3.2"/><circle cx="186.6" cy="478.3" r="3.2"/><circle cx="188.3" cy="477.6" r="3.2"/><circle cx="187.6" cy="475.7" r="3.2"/><circle cx="188.9" cy="476.5" r="3.2"/><circle cx="190.5" cy="475.5" r="3.2"/><circle cx="190.6" cy="474.3" r="3.2"/><circle cx="190.6" cy="473.3" r="3.2"/><circle cx="192.2" cy="473.7" r="3.2"/><circle cx="191.9" cy="472.3" r="3.2"/><circle cx="193.7" cy="471.9" r="3.2"/><circle cx="194.1" cy="471.5" r="3.2"/><circle cx="193.5" cy="469.9" r="3.2"/><circle cx="195.0" cy="469.3" r="3.2"/><circle cx="197.4" cy="466.5" r="3.2"/><circle cx="197.1" cy="464.7" r="3.2"/><circle cx="198.0" cy="463.6" r="3.2"/><circle cx="199.1" cy="462.3" r="3.2"/><circle cx="200.3" cy="462.4" r="3.2"/><circle cx="201.0" cy="461.7" r="3.2"/><circle cx="199.8" cy="459.7" r="3.2"/><circle cx="200.4" cy="459.0" r="3.2"/><circle cx="201.4" cy="458.3" r="3.2"/><circle cx="202.8" cy="457.4" r="3.2"/><circle cx="203.6" cy="456.6" r="3.2"/><circle cx="202.8" cy="455.6" r="3.2"/><circle cx="204.3" cy="454.9" r="3.2"/><circle cx="205.0" cy="453.8" r="3.2"/><circle cx="204.6" cy="453.2" r="3.2"/><circle cx="205.4" cy="452.3" r="3.2"/><circle cx="205.3" cy="451.4" r="3.2"/><circle cx="205.5" cy="449.5" r="3.2"/><circle cx="206.2" cy="449.6" r="3.2"/><circle cx="205.2" cy="448.0" r="3.2"/><circle cx="206.0" cy="446.4" r="3.2"/><circle cx="207.5" cy="445.8" r="3.2"/><circle cx="206.9" cy="444.5" r="3.2"/><circle cx="208.9" cy="444.6" r="3.2"/><circle cx="209.3" cy="443.6" r="3.2"/><circle cx="209.8" cy="439.6" r="3.2"/><circle cx="210.8" cy="439.0" r="3.2"/><circle cx="211.9" cy="436.8" r="3.2"/><circle cx="212.4" cy="433.2" r="3.2"/><circle cx="213.7" cy="431.5" r="3.2"/><circle cx="214.1" cy="429.4" r="3.2"/><circle cx="213.7" cy="427.4" r="3.2"/><circle cx="216.4" cy="424.0" r="3.2"/><circle cx="216.1" cy="422.0" r="3.2"/><circle cx="217.5" cy="420.4" r="3.2"/><circle cx="215.1" cy="416.1" r="3.2"/><circle cx="215.1" cy="415.9" r="3.2"/><circle cx="216.4" cy="412.2" r="3.2"/><circle cx="218.2" cy="409.5" r="3.2"/><circle cx="218.2" cy="409.4" r="3.2"/><circle cx="221.3" cy="407.1" r="3.2"/><circle cx="220.4" cy="405.2" r="3.2"/><circle cx="220.0" cy="402.7" r="3.2"/><circle cx="222.0" cy="402.5" r="3.2"/><circle cx="219.0" cy="400.8" r="3.2"/><circle cx="219.1" cy="393.5" r="3.2"/><circle cx="220.0" cy="392.5" r="3.2"/><circle cx="224.6" cy="392.6" r="3.2"/><circle cx="224.8" cy="387.6" r="3.2"/><circle cx="224.0" cy="382.5" r="3.2"/><circle cx="224.0" cy="379.8" r="3.2"/><circle cx="229.7" cy="365.9" r="3.2"/><circle cx="229.4" cy="356.9" r="3.2"/><circle cx="231.2" cy="351.6" r="3.2"/><circle cx="234.5" cy="351.1" r="3.2"/><circle cx="237.7" cy="350.6" r="3.2"/><circle cx="234.0" cy="348.3" r="3.2"/><circle cx="238.9" cy="345.3" r="3.2"/><circle cx="238.4" cy="342.8" r="3.2"/><circle cx="235.9" cy="338.8" r="3.2"/><circle cx="241.1" cy="339.5" r="3.2"/><circle cx="241.3" cy="334.3" r="3.2"/><circle cx="244.1" cy="333.8" r="3.2"/><circle cx="239.4" cy="331.5" r="3.2"/><circle cx="244.6" cy="328.0" r="3.2"/><circle cx="244.5" cy="322.2" r="3.2"/><circle cx="243.6" cy="318.7" r="3.2"/><circle cx="245.3" cy="318.2" r="3.2"/><circle cx="248.7" cy="317.1" r="3.2"/><circle cx="248.7" cy="314.0" r="3.2"/><circle cx="249.7" cy="312.5" r="3.2"/><circle cx="251.3" cy="312.2" r="3.2"/><circle cx="261.1" cy="310.3" r="3.2"/><circle cx="264.2" cy="305.9" r="3.2"/><circle cx="269.3" cy="309.3" r="3.2"/><circle cx="268.2" cy="313.3" r="3.2"/><circle cx="270.5" cy="313.3" r="3.2"/><circle cx="271.9" cy="317.4" r="3.2"/><circle cx="275.5" cy="324.1" r="3.2"/><circle cx="273.8" cy="326.3" r="3.2"/><circle cx="272.5" cy="329.8" r="3.2"/><circle cx="272.9" cy="331.3" r="3.2"/><circle cx="274.9" cy="333.0" r="3.2"/><circle cx="277.9" cy="334.2" r="3.2"/><circle cx="278.4" cy="339.3" r="3.2"/><circle cx="277.5" cy="342.0" r="3.2"/><circle cx="278.8" cy="343.3" r="3.2"/><circle cx="280.2" cy="343.6" r="3.2"/><circle cx="277.8" cy="347.0" r="3.2"/><circle cx="281.0" cy="347.5" r="3.2"/><circle cx="280.0" cy="353.7" r="3.2"/><circle cx="281.8" cy="356.1" r="3.2"/><circle cx="283.4" cy="356.7" r="3.2"/><circle cx="282.3" cy="359.2" r="3.2"/><circle cx="283.0" cy="360.6" r="3.2"/><circle cx="285.6" cy="360.8" r="3.2"/><circle cx="285.1" cy="362.3" r="3.2"/><circle cx="287.0" cy="366.4" r="3.2"/><circle cx="289.7" cy="372.3" r="3.2"/><circle cx="289.6" cy="378.5" r="3.2"/><circle cx="290.2" cy="382.4" r="3.2"/><circle cx="290.5" cy="385.2" r="3.2"/><circle cx="293.9" cy="399.5" r="3.2"/><circle cx="296.9" cy="399.0" r="3.2"/><circle cx="294.9" cy="402.1" r="3.2"/><circle cx="295.7" cy="406.6" r="3.2"/><circle cx="297.1" cy="407.8" r="3.2"/><circle cx="300.9" cy="410.4" r="3.2"/><circle cx="299.5" cy="413.5" r="3.2"/><circle cx="299.8" cy="414.6" r="3.2"/><circle cx="299.2" cy="419.1" r="3.2"/><circle cx="300.8" cy="420.3" r="3.2"/><circle cx="304.0" cy="430.4" r="3.2"/><circle cx="307.9" cy="432.1" r="3.2"/><circle cx="305.4" cy="435.3" r="3.2"/><circle cx="309.9" cy="433.9" r="3.2"/><circle cx="310.1" cy="436.2" r="3.2"/><circle cx="307.9" cy="439.4" r="3.2"/><circle cx="310.8" cy="440.7" r="3.2"/><circle cx="316.0" cy="443.5" r="3.2"/><circle cx="315.6" cy="445.8" r="3.2"/><circle cx="317.8" cy="447.0" r="3.2"/><circle cx="319.5" cy="447.7" r="3.2"/><circle cx="317.3" cy="450.7" r="3.2"/><circle cx="318.4" cy="452.6" r="3.2"/><circle cx="322.0" cy="453.1" r="3.2"/><circle cx="321.3" cy="455.2" r="3.2"/><circle cx="326.6" cy="457.9" r="3.2"/><circle cx="329.2" cy="459.4" r="3.2"/><circle cx="327.5" cy="462.2" r="3.2"/><circle cx="327.9" cy="465.0" r="3.2"/><circle cx="331.8" cy="463.4" r="3.2"/><circle cx="332.4" cy="466.7" r="3.2"/><circle cx="335.3" cy="468.5" r="3.2"/><circle cx="333.6" cy="470.6" r="3.2"/><circle cx="334.7" cy="471.6" r="3.2"/><circle cx="337.3" cy="470.0" r="3.2"/><circle cx="339.2" cy="473.6" r="3.2"/><circle cx="340.1" cy="474.7" r="3.2"/><circle cx="341.7" cy="473.9" r="3.2"/><circle cx="345.1" cy="473.6" r="3.2"/><circle cx="344.2" cy="475.9" r="3.2"/><circle cx="346.9" cy="474.7" r="3.2"/><circle cx="347.2" cy="478.1" r="3.2"/><circle cx="349.6" cy="477.3" r="3.2"/><circle cx="351.2" cy="479.5" r="3.2"/><circle cx="352.3" cy="479.4" r="3.2"/><circle cx="352.2" cy="480.5" r="3.2"/><circle cx="353.6" cy="479.9" r="3.2"/><circle cx="356.2" cy="479.2" r="3.2"/><circle cx="356.6" cy="480.2" r="3.2"/><circle cx="357.4" cy="481.5" r="3.2"/><circle cx="359.0" cy="482.4" r="3.2"/><circle cx="361.8" cy="480.2" r="3.2"/><circle cx="361.7" cy="481.5" r="3.2"/><circle cx="363.4" cy="481.5" r="3.2"/><circle cx="365.6" cy="481.6" r="3.2"/><circle cx="366.2" cy="482.3" r="3.2"/><circle cx="368.2" cy="483.3" r="3.2"/><circle cx="369.3" cy="483.9" r="3.2"/><circle cx="369.4" cy="485.5" r="3.2"/><circle cx="370.8" cy="485.2" r="3.2"/><circle cx="373.0" cy="486.1" r="3.2"/><circle cx="374.4" cy="484.3" r="3.2"/><circle cx="375.0" cy="485.7" r="3.2"/><circle cx="375.8" cy="486.3" r="3.2"/><circle cx="377.1" cy="486.1" r="3.2"/><circle cx="377.7" cy="488.0" r="3.2"/><circle cx="379.3" cy="485.9" r="3.2"/><circle cx="380.4" cy="486.3" r="3.2"/><circle cx="381.6" cy="488.8" r="3.2"/><circle cx="382.4" cy="488.7" r="3.2"/><circle cx="383.2" cy="489.3" r="3.2"/><circle cx="385.3" cy="488.2" r="3.2"/><circle cx="385.9" cy="489.7" r="3.2"/><circle cx="386.8" cy="487.5" r="3.2"/><circle cx="388.3" cy="487.8" r="3.2"/><circle cx="389.5" cy="488.6" r="3.2"/><circle cx="389.8" cy="490.7" r="3.2"/><circle cx="390.8" cy="489.6" r="3.2"/><circle cx="391.8" cy="488.3" r="3.2"/><circle cx="393.0" cy="490.6" r="3.2"/><circle cx="394.1" cy="489.2" r="3.2"/><circle cx="395.3" cy="488.7" r="3.2"/><circle cx="395.9" cy="489.9" r="3.2"/><circle cx="397.4" cy="491.1" r="3.2"/><circle cx="398.2" cy="490.5" r="3.2"/><circle cx="399.4" cy="488.8" r="3.2"/><circle cx="399.8" cy="490.3" r="3.2"/><circle cx="401.0" cy="491.1" r="3.2"/><circle cx="401.9" cy="489.7" r="3.2"/><circle cx="402.5" cy="489.0" r="3.2"/><circle cx="402.5" cy="490.9" r="3.2"/><circle cx="404.3" cy="489.2" r="3.2"/><circle cx="405.3" cy="491.0" r="3.2"/><circle cx="405.7" cy="489.0" r="3.2"/><circle cx="407.0" cy="491.2" r="3.2"/><circle cx="407.6" cy="491.3" r="3.2"/><circle cx="409.5" cy="489.2" r="3.2"/><circle cx="410.3" cy="491.2" r="3.2"/><circle cx="411.3" cy="491.7" r="3.2"/><circle cx="411.6" cy="491.6" r="3.2"/><circle cx="412.8" cy="489.6" r="3.2"/><circle cx="413.6" cy="491.6" r="3.2"/><circle cx="415.4" cy="489.3" r="3.2"/><circle cx="416.0" cy="490.7" r="3.2"/><circle cx="416.9" cy="489.7" r="3.2"/><circle cx="418.4" cy="490.6" r="3.2"/><circle cx="419.3" cy="490.9" r="3.2"/><circle cx="420.1" cy="489.8" r="3.2"/><circle cx="420.8" cy="488.9" r="3.2"/><circle cx="420.5" cy="489.0" r="3.2"/><circle cx="422.1" cy="490.5" r="3.2"/><circle cx="423.4" cy="490.4" r="3.2"/><circle cx="424.0" cy="489.1" r="3.2"/><circle cx="424.6" cy="489.2" r="3.2"/><circle cx="426.4" cy="490.0" r="3.2"/><circle cx="427.0" cy="489.0" r="3.2"/><circle cx="428.0" cy="489.1" r="3.2"/><circle cx="428.4" cy="489.5" r="3.2"/><circle cx="429.1" cy="489.9" r="3.2"/><circle cx="429.5" cy="489.2" r="3.2"/><circle cx="430.7" cy="490.2" r="3.2"/><circle cx="432.1" cy="488.7" r="3.2"/><circle cx="432.9" cy="488.1" r="3.2"/><circle cx="433.9" cy="488.7" r="3.2"/><circle cx="433.5" cy="488.6" r="3.2"/><circle cx="434.8" cy="488.6" r="3.2"/><circle cx="435.8" cy="488.8" r="3.2"/><circle cx="437.3" cy="490.0" r="3.2"/><circle cx="436.5" cy="489.2" r="3.2"/><circle cx="438.0" cy="490.1" r="3.2"/><circle cx="439.4" cy="489.9" r="3.2"/><circle cx="440.1" cy="489.0" r="3.2"/><circle cx="441.1" cy="488.5" r="3.2"/><circle cx="442.1" cy="489.2" r="3.2"/><circle cx="442.5" cy="487.8" r="3.2"/><circle cx="444.5" cy="489.7" r="3.2"/><circle cx="444.7" cy="489.5" r="3.2"/><circle cx="444.7" cy="488.4" r="3.2"/><circle cx="446.4" cy="489.5" r="3.2"/><circle cx="446.8" cy="489.8" r="3.2"/><circle cx="447.8" cy="489.1" r="3.2"/><circle cx="449.2" cy="487.5" r="3.2"/><circle cx="449.6" cy="487.6" r="3.2"/><circle cx="451.1" cy="488.6" r="3.2"/><circle cx="451.8" cy="488.8" r="3.2"/><circle cx="452.6" cy="487.1" r="3.2"/><circle cx="453.6" cy="486.7" r="3.2"/><circle cx="454.7" cy="488.0" r="3.2"/><circle cx="456.1" cy="487.5" r="3.2"/><circle cx="456.9" cy="486.1" r="3.2"/><circle cx="456.6" cy="487.4" r="3.2"/><circle cx="458.0" cy="486.2" r="3.2"/><circle cx="459.4" cy="486.2" r="3.2"/><circle cx="460.0" cy="486.3" r="3.2"/><circle cx="461.5" cy="487.5" r="3.2"/><circle cx="462.2" cy="486.7" r="3.2"/><circle cx="463.5" cy="487.2" r="3.2"/><circle cx="464.0" cy="486.0" r="3.2"/><circle cx="464.8" cy="486.4" r="3.2"/><circle cx="465.9" cy="485.5" r="3.2"/><circle cx="467.6" cy="485.8" r="3.2"/><circle cx="467.9" cy="486.0" r="3.2"/><circle cx="469.4" cy="484.9" r="3.2"/><circle cx="469.5" cy="484.5" r="3.2"/><circle cx="470.8" cy="484.8" r="3.2"/><circle cx="471.6" cy="484.5" r="3.2"/><circle cx="472.8" cy="484.2" r="3.2"/><circle cx="473.9" cy="484.3" r="3.2"/><circle cx="474.7" cy="482.8" r="3.2"/><circle cx="475.7" cy="483.2" r="3.2"/><circle cx="477.2" cy="483.9" r="3.2"/><circle cx="477.3" cy="482.0" r="3.2"/><circle cx="478.8" cy="482.4" r="3.2"/><circle cx="480.3" cy="483.4" r="3.2"/><circle cx="481.5" cy="482.9" r="3.2"/><circle cx="482.1" cy="482.4" r="3.2"/><circle cx="483.3" cy="482.2" r="3.2"/><circle cx="482.6" cy="481.6" r="3.2"/><circle cx="484.1" cy="480.7" r="3.2"/><circle cx="485.1" cy="481.5" r="3.2"/><circle cx="486.0" cy="481.1" r="3.2"/><circle cx="487.4" cy="479.8" r="3.2"/><circle cx="488.1" cy="479.1" r="3.2"/><circle cx="489.2" cy="479.1" r="3.2"/><circle cx="489.4" cy="479.6" r="3.2"/><circle cx="490.0" cy="479.6" r="3.2"/><circle cx="491.4" cy="478.7" r="3.2"/><circle cx="491.6" cy="478.3" r="3.2"/><circle cx="492.5" cy="477.8" r="3.2"/><circle cx="494.4" cy="478.2" r="3.2"/><circle cx="495.0" cy="478.0" r="3.2"/><circle cx="496.3" cy="477.3" r="3.2"/><circle cx="497.1" cy="477.6" r="3.2"/><circle cx="498.2" cy="478.1" r="3.2"/><circle cx="498.8" cy="477.8" r="3.2"/><circle cx="498.6" cy="476.9" r="3.2"/><circle cx="500.0" cy="477.1" r="3.2"/><circle cx="501.1" cy="476.2" r="3.2"/><circle cx="502.3" cy="476.2" r="3.2"/><circle cx="503.6" cy="477.0" r="3.2"/><circle cx="503.9" cy="476.0" r="3.2"/><circle cx="504.2" cy="475.8" r="3.2"/><circle cx="504.9" cy="475.4" r="3.2"/><circle cx="506.1" cy="476.3" r="3.2"/><circle cx="507.0" cy="475.4" r="3.2"/><circle cx="507.7" cy="474.8" r="3.2"/><circle cx="508.9" cy="474.1" r="3.2"/><circle cx="510.0" cy="475.1" r="3.2"/><circle cx="509.9" cy="475.4" r="3.2"/><circle cx="510.5" cy="474.1" r="3.2"/><circle cx="511.7" cy="473.5" r="3.2"/><circle cx="512.1" cy="474.9" r="3.2"/><circle cx="512.8" cy="473.1" r="3.2"/><circle cx="513.9" cy="473.0" r="3.2"/><circle cx="515.2" cy="473.0" r="3.2"/><circle cx="515.5" cy="472.6" r="3.2"/><circle cx="517.0" cy="472.4" r="3.2"/><circle cx="517.6" cy="473.4" r="3.2"/><circle cx="518.1" cy="471.9" r="3.2"/><circle cx="519.5" cy="472.1" r="3.2"/><circle cx="519.6" cy="471.5" r="3.2"/><circle cx="521.2" cy="471.9" r="3.2"/><circle cx="521.4" cy="470.9" r="3.2"/><circle cx="522.7" cy="471.0" r="3.2"/><circle cx="524.2" cy="470.5" r="3.2"/><circle cx="525.1" cy="471.0" r="3.2"/><circle cx="526.1" cy="470.8" r="3.2"/><circle cx="526.1" cy="471.1" r="3.2"/><circle cx="527.1" cy="470.0" r="3.2"/><circle cx="527.6" cy="469.7" r="3.2"/><circle cx="528.1" cy="470.7" r="3.2"/><circle cx="529.2" cy="470.7" r="3.2"/><circle cx="530.4" cy="469.8" r="3.2"/><circle cx="531.1" cy="469.5" r="3.2"/><circle cx="531.7" cy="469.7" r="3.2"/><circle cx="532.9" cy="468.9" r="3.2"/><circle cx="533.8" cy="468.2" r="3.2"/><circle cx="535.3" cy="468.8" r="3.2"/><circle cx="251.8" cy="284.0" r="3.2"/><circle cx="252.2" cy="297.4" r="3.2"/><circle cx="262.0" cy="313.0" r="3.2"/><circle cx="266.0" cy="318.0" r="3.2"/><circle cx="270.0" cy="322.0" r="3.2"/><circle cx="265.0" cy="325.0" r="3.2"/><circle cx="272.0" cy="328.0" r="3.2"/><circle cx="268.0" cy="311.0" r="3.2"/><circle cx="260.0" cy="318.0" r="3.2"/><circle cx="244.0" cy="318.0" r="3.2"/><circle cx="247.0" cy="322.0" r="3.2"/><circle cx="242.0" cy="326.0" r="3.2"/><circle cx="249.0" cy="315.0" r="3.2"/><circle cx="252.0" cy="311.0" r="3.2"/><circle cx="256.0" cy="309.0" r="3.2"/><circle cx="244.0" cy="311.0" r="3.2"/><circle cx="238.0" cy="320.0" r="3.2"/><circle cx="240.0" cy="325.0" r="3.2"/><circle cx="236.0" cy="330.0" r="3.2"/><circle cx="246.0" cy="318.0" r="3.2"/><circle cx="233.0" cy="345.0" r="3.2"/><circle cx="235.0" cy="350.0" r="3.2"/><circle cx="231.0" cy="356.0" r="3.2"/><circle cx="229.3" cy="362.0" r="3.2"/><circle cx="273.0" cy="330.0" r="3.2"/><circle cx="277.0" cy="342.0" r="3.2"/><circle cx="282.0" cy="346.0" r="3.2"/><circle cx="284.0" cy="352.0" r="3.2"/><circle cx="270.4" cy="340.0" r="3.2"/><circle cx="289.0" cy="364.0" r="3.2"/><circle cx="305.0" cy="430.0" r="3.2"/><circle cx="313.0" cy="446.0" r="3.2"/><circle cx="322.0" cy="452.0" r="3.2"/></g>
<path d="M338.9,176.5 L340.0,177.0 L341.1,177.5 L342.1,178.0 L343.2,178.5 L344.2,178.9 L345.4,179.4 L346.8,179.9 L348.3,180.5 L350.0,181.2 L352.1,182.0 L354.5,182.9 L357.2,183.9 L360.0,184.9 L362.8,185.9 L365.5,186.9 L367.9,187.7 L370.0,188.5 L371.7,189.1 L373.0,189.6 L374.0,190.0 L375.0,190.3 L376.0,190.6 L377.0,191.0 L378.3,191.5 L380.0,192.0 L382.0,192.7 L384.3,193.4 L386.8,194.2 L389.4,195.0 L392.1,195.8 L394.8,196.7 L397.4,197.5 L400.0,198.3 L402.5,199.1 L405.0,199.9 L407.5,200.6 L410.0,201.4 L412.5,202.2 L415.0,203.0 L417.5,203.7 L420.0,204.5 L422.5,205.3 L425.0,206.0 L427.5,206.8 L430.0,207.6 L432.5,208.3 L435.0,209.1 L437.5,209.8 L440.0,210.5 L442.5,211.2 L445.0,211.8 L447.5,212.4 L450.0,213.1 L452.5,213.7 L455.0,214.3 L457.5,215.0 L460.0,215.7 L462.5,216.5 L465.1,217.3 L467.7,218.1 L470.3,219.0" fill="none" stroke="#ff0000" stroke-width="2.2" stroke-linejoin="round" clip-path="url(#cu)"/>
<path d="M74.0,31.0 L75.2,31.0 L76.8,31.1 L78.7,31.1 L80.8,31.2 L83.0,31.2 L85.3,31.3 L87.7,31.4 L90.0,31.5 L92.3,31.6 L94.7,31.8 L97.2,31.9 L99.8,32.1 L102.3,32.3 L104.9,32.5 L107.5,32.7 L110.0,33.0 L112.5,33.3 L115.0,33.6 L117.5,34.0 L120.0,34.3 L122.5,34.7 L125.0,35.1 L127.5,35.6 L130.0,36.0 L132.5,36.4 L135.0,36.9 L137.5,37.4 L140.0,37.9 L142.5,38.4 L145.0,38.9 L147.5,39.4 L150.0,40.0 L152.5,40.6 L155.0,41.1 L157.5,41.7 L160.0,42.3 L162.5,42.9 L165.0,43.6 L167.5,44.3 L170.0,45.0 L172.5,45.8 L175.1,46.6 L177.7,47.4 L180.3,48.3 L182.9,49.2 L185.4,50.1 L187.7,51.1 L190.0,52.0 L192.1,53.0 L194.2,54.0 L196.2,55.0 L198.1,56.0 L200.0,57.0 L201.7,58.0 L203.4,59.0 L205.0,60.0 L206.5,60.9 L207.9,61.8 L209.2,62.7 L210.4,63.6 L211.6,64.4 L212.7,65.3 L213.8,66.1 L215.0,67.0 L216.2,67.9 L217.3,68.8 L218.4,69.7 L219.5,70.6 L220.6,71.4 L221.7,72.4 L222.7,73.3 L223.8,74.2 L224.8,75.1 L225.8,75.9 L226.8,76.6 L227.7,77.4 L228.7,78.3 L229.7,79.3 L230.8,80.5 L232.0,82.0 L233.3,83.8 L234.8,85.9 L236.3,88.1 L237.9,90.6 L239.5,93.0 L241.1,95.4 L242.5,97.7 L243.9,99.7 L245.2,101.5 L246.3,103.2 L247.5,104.8 L248.6,106.3 L249.6,107.7 L250.6,109.1 L251.6,110.6 L252.5,112.0 L253.4,113.4 L254.2,114.8 L254.9,116.2 L255.7,117.5 L256.4,118.9 L257.1,120.2 L257.8,121.6 L258.5,123.0 L259.3,124.5 L260.0,125.9 L260.8,127.4 L261.5,128.9 L262.3,130.5 L263.0,132.0 L263.8,133.5 L264.5,135.0 L265.2,136.5 L265.9,138.1 L266.5,139.7 L267.1,141.2 L267.8,142.8 L268.5,144.2 L269.2,145.7 L270.0,147.0 L270.9,148.2 L271.7,149.4 L272.6,150.6 L273.6,151.6 L274.6,152.6 L275.7,153.6 L276.8,154.6 L278.0,155.5 L279.3,156.4 L280.7,157.2 L282.2,158.0 L283.7,158.7 L285.3,159.4 L286.9,160.1 L288.5,160.8 L290.0,161.5 L291.5,162.2 L293.0,162.8 L294.4,163.4 L295.9,164.0 L297.4,164.6 L298.9,165.2 L300.6,165.8 L302.4,166.5 L304.3,167.2 L306.4,168.0 L308.5,168.8 L310.7,169.7 L313.0,170.5 L315.3,171.4 L317.6,172.2 L320.0,173.0 L322.3,173.8 L324.6,174.5 L326.9,175.3 L329.2,176.0 L331.7,176.8 L334.2,177.5 L337.0,178.3 L340.0,179.0 L343.3,179.7 L346.8,180.5 L350.5,181.2 L354.4,181.9 L358.3,182.7 L362.3,183.4 L366.2,184.2 L370.0,185.0 L373.8,185.8 L377.5,186.6 L381.2,187.4 L385.0,188.2 L388.8,189.1 L392.5,190.0 L396.2,191.0 L400.0,192.0 L403.8,193.1 L407.5,194.2 L411.2,195.4 L415.0,196.6 L418.8,197.8 L422.5,199.1 L426.2,200.5 L430.0,202.0 L433.8,203.6 L437.5,205.2 L441.2,207.0 L445.0,208.8 L448.8,210.6 L452.5,212.5 L456.2,214.3 L460.0,216.0 L463.8,217.7 L467.7,219.4 L471.7,221.2 L475.6,222.9 L479.5,224.5 L483.2,226.1 L486.7,227.6 L490.0,229.0 L492.9,230.2 L495.6,231.3 L498.0,232.2 L500.2,233.1 L502.5,234.0 L504.8,234.9 L507.3,235.9 L510.0,237.0 L513.1,238.3 L516.7,239.8 L520.5,241.4 L524.2,243.0 L527.9,244.5 L531.2,246.0 L534.0,247.1 L536.0,248.0" fill="none" stroke="#0000ff" stroke-width="3" stroke-linejoin="round" clip-path="url(#cu)"/>
<path d="M70.0,502.0 L72.3,502.0 L75.4,501.9 L79.1,501.9 L83.1,501.8 L87.4,501.8 L91.8,501.7 L96.0,501.6 L100.0,501.5 L103.8,501.4 L107.7,501.2 L111.7,501.1 L115.6,500.9 L119.5,500.8 L123.2,500.5 L126.7,500.3 L130.0,500.0 L133.0,499.7 L135.7,499.4 L138.2,499.0 L140.6,498.6 L142.9,498.2 L145.2,497.7 L147.6,497.1 L150.0,496.5 L152.5,495.8 L155.1,494.9 L157.7,494.0 L160.2,493.0 L162.8,492.0 L165.3,491.0 L167.7,490.0 L170.0,489.0 L172.2,488.0 L174.4,487.1 L176.6,486.1 L178.7,485.1 L180.7,484.1 L182.6,483.1 L184.4,482.1 L186.0,481.0 L187.5,479.9 L188.8,478.8 L189.9,477.6 L191.0,476.5 L192.0,475.3 L193.0,474.1 L194.0,472.8 L195.0,471.5 L196.1,470.1 L197.1,468.7 L198.2,467.3 L199.2,465.8 L200.2,464.3 L201.2,462.8 L202.1,461.4 L203.0,460.0 L203.9,458.7 L204.7,457.4 L205.5,456.1 L206.2,454.9 L206.9,453.7 L207.7,452.5 L208.3,451.2 L209.0,450.0 L209.6,448.8 L210.3,447.5 L210.8,446.3 L211.4,445.1 L212.0,443.9 L212.5,442.6 L213.0,441.3 L213.5,440.0 L214.0,438.6 L214.4,437.3 L214.9,435.9 L215.3,434.5 L215.7,433.0 L216.1,431.5 L216.6,429.8 L217.0,428.0 L217.5,426.0 L217.9,423.8 L218.4,421.5 L218.9,419.1 L219.4,416.7 L219.8,414.4 L220.3,412.1 L220.8,410.0 L221.3,408.1 L221.7,406.2 L222.2,404.5 L222.6,402.8 L223.1,401.1 L223.6,399.4 L224.0,397.7 L224.5,396.0 L225.0,394.2 L225.5,392.5 L226.0,390.7 L226.4,388.9 L227.0,387.2 L227.5,385.4 L228.0,383.7 L228.5,382.0 L229.0,380.3 L229.6,378.7 L230.2,377.1 L230.7,375.4 L231.3,373.8 L231.9,372.2 L232.4,370.6 L233.0,369.0 L233.5,367.4 L234.1,365.7 L234.6,364.1 L235.2,362.4 L235.7,360.8 L236.2,359.1 L236.8,357.5 L237.3,355.8 L237.8,354.1 L238.4,352.5 L238.9,350.8 L239.4,349.1 L239.9,347.5 L240.4,345.8 L241.0,344.1 L241.5,342.5 L242.1,340.8 L242.6,339.2 L243.2,337.5 L243.8,335.8 L244.3,334.2 L244.9,332.6 L245.5,331.0 L246.0,329.5 L246.5,328.0 L247.0,326.6 L247.5,325.2 L248.0,323.9 L248.5,322.6 L249.0,321.4 L249.5,320.2 L250.0,319.0 L250.5,317.9 L251.0,316.8 L251.5,315.8 L252.0,314.9 L252.5,314.0 L253.0,313.1 L253.5,312.3 L254.0,311.5 L254.5,310.8 L255.1,310.1 L255.7,309.5 L256.2,308.9 L256.8,308.3 L257.4,307.8 L258.0,307.4 L258.5,307.0 L259.0,306.7 L259.5,306.4 L260.1,306.1 L260.6,305.9 L261.1,305.7 L261.5,305.6 L262.0,305.5 L262.5,305.5 L263.0,305.5 L263.4,305.5 L263.9,305.5 L264.3,305.6 L264.7,305.7 L265.2,305.9 L265.6,306.1 L266.0,306.5 L266.4,306.9 L266.8,307.4 L267.1,308.0 L267.5,308.6 L267.9,309.3 L268.2,310.1 L268.6,311.0 L269.0,312.0 L269.4,313.1 L269.8,314.3 L270.2,315.7 L270.6,317.1 L271.0,318.6 L271.5,320.0 L271.9,321.5 L272.4,322.9 L272.9,324.3 L273.4,325.7 L274.0,327.1 L274.5,328.5 L275.1,329.9 L275.7,331.2 L276.2,332.6 L276.8,334.0 L277.3,335.4 L277.9,336.7 L278.4,338.0 L278.9,339.3 L279.5,340.6 L280.0,342.0 L280.6,343.4 L281.1,344.8 L281.6,346.3 L282.2,347.8 L282.7,349.4 L283.3,351.0 L283.8,352.6 L284.4,354.2 L284.9,355.9 L285.5,357.5 L286.1,359.1 L286.6,360.7 L287.2,362.3 L287.8,363.9 L288.4,365.5 L288.9,367.2 L289.5,369.0 L290.0,371.0 L290.5,373.1 L291.0,375.3 L291.5,377.7 L291.9,380.1 L292.4,382.6 L292.9,385.1 L293.3,387.5 L293.8,390.0 L294.3,392.5 L294.7,395.0 L295.1,397.6 L295.5,400.2 L296.0,402.8 L296.5,405.3 L297.0,407.7 L297.6,410.0 L298.3,412.1 L299.0,414.1 L299.7,416.0 L300.5,417.8 L301.4,419.6 L302.2,421.4 L303.1,423.2 L304.0,425.0 L304.9,426.9 L305.8,428.8 L306.8,430.7 L307.8,432.6 L308.8,434.5 L309.8,436.4 L310.9,438.2 L312.0,440.0 L313.1,441.7 L314.3,443.4 L315.5,445.1 L316.8,446.7 L318.0,448.3 L319.3,449.9 L320.6,451.4 L322.0,453.0 L323.4,454.5 L324.8,456.1 L326.2,457.6 L327.6,459.1 L329.1,460.5 L330.7,462.0 L332.3,463.5 L334.0,465.0 L335.8,466.5 L337.6,468.1 L339.5,469.7 L341.5,471.3 L343.5,472.8 L345.6,474.3 L347.8,475.7 L350.0,477.0 L352.3,478.2 L354.7,479.3 L357.2,480.3 L359.8,481.2 L362.3,482.1 L364.9,482.9 L367.5,483.7 L370.0,484.5 L372.5,485.2 L375.0,485.9 L377.5,486.6 L380.0,487.2 L382.5,487.7 L385.0,488.2 L387.5,488.6 L390.0,489.0 L392.5,489.3 L395.0,489.5 L397.5,489.6 L400.0,489.6 L402.5,489.6 L405.0,489.6 L407.5,489.6 L410.0,489.5 L412.4,489.4 L414.8,489.3 L417.1,489.2 L419.4,489.0 L421.8,488.8 L424.3,488.6 L427.0,488.3 L430.0,488.0 L433.3,487.7 L436.8,487.3 L440.5,486.9 L444.4,486.5 L448.3,486.0 L452.3,485.6 L456.2,485.0 L460.0,484.5 L463.8,483.9 L467.5,483.3 L471.2,482.6 L475.0,481.9 L478.8,481.2 L482.5,480.5 L486.2,479.7 L490.0,479.0 L493.8,478.2 L497.8,477.4 L501.9,476.5 L505.9,475.6 L509.8,474.8 L513.5,473.9 L516.9,473.2 L520.0,472.5 L522.8,471.9 L525.4,471.3 L527.7,470.8 L529.9,470.3 L531.8,469.9 L533.5,469.6 L534.9,469.2 L536.0,469.0" fill="none" stroke="#0000ff" stroke-width="3.5" stroke-linejoin="round" clip-path="url(#cl)"/>
<line x1="79.7" y1="506.8" x2="79.7" y2="493.8" stroke="#000" stroke-width="1.5"/>
<line x1="79.7" y1="12.8" x2="79.7" y2="26.3" stroke="#000" stroke-width="1.5"/>
<line x1="98.6" y1="506.8" x2="98.6" y2="500.3" stroke="#000" stroke-width="1.5"/>
<line x1="98.6" y1="12.8" x2="98.6" y2="19.6" stroke="#000" stroke-width="1.5"/>
<line x1="117.5" y1="506.8" x2="117.5" y2="500.3" stroke="#000" stroke-width="1.5"/>
<line x1="117.5" y1="12.8" x2="117.5" y2="19.6" stroke="#000" stroke-width="1.5"/>
<line x1="136.4" y1="506.8" x2="136.4" y2="500.3" stroke="#000" stroke-width="1.5"/>
<line x1="136.4" y1="12.8" x2="136.4" y2="19.6" stroke="#000" stroke-width="1.5"/>
<line x1="155.3" y1="506.8" x2="155.3" y2="500.3" stroke="#000" stroke-width="1.5"/>
<line x1="155.3" y1="12.8" x2="155.3" y2="19.6" stroke="#000" stroke-width="1.5"/>
<line x1="174.2" y1="506.8" x2="174.2" y2="493.8" stroke="#000" stroke-width="1.5"/>
<line x1="174.2" y1="12.8" x2="174.2" y2="26.3" stroke="#000" stroke-width="1.5"/>
<line x1="193.1" y1="506.8" x2="193.1" y2="500.3" stroke="#000" stroke-width="1.5"/>
<line x1="193.1" y1="12.8" x2="193.1" y2="19.6" stroke="#000" stroke-width="1.5"/>
<line x1="212.0" y1="506.8" x2="212.0" y2="500.3" stroke="#000" stroke-width="1.5"/>
<line x1="212.0" y1="12.8" x2="212.0" y2="19.6" stroke="#000" stroke-width="1.5"/>
<line x1="230.9" y1="506.8" x2="230.9" y2="500.3" stroke="#000" stroke-width="1.5"/>
<line x1="230.9" y1="12.8" x2="230.9" y2="19.6" stroke="#000" stroke-width="1.5"/>
<line x1="249.8" y1="506.8" x2="249.8" y2="500.3" stroke="#000" stroke-width="1.5"/>
<line x1="249.8" y1="12.8" x2="249.8" y2="19.6" stroke="#000" stroke-width="1.5"/>
<line x1="268.7" y1="506.8" x2="268.7" y2="493.8" stroke="#000" stroke-width="1.5"/>
<line x1="268.7" y1="12.8" x2="268.7" y2="26.3" stroke="#000" stroke-width="1.5"/>
<line x1="287.6" y1="506.8" x2="287.6" y2="500.3" stroke="#000" stroke-width="1.5"/>
<line x1="287.6" y1="12.8" x2="287.6" y2="19.6" stroke="#000" stroke-width="1.5"/>
<line x1="306.5" y1="506.8" x2="306.5" y2="500.3" stroke="#000" stroke-width="1.5"/>
<line x1="306.5" y1="12.8" x2="306.5" y2="19.6" stroke="#000" stroke-width="1.5"/>
<line x1="325.4" y1="506.8" x2="325.4" y2="500.3" stroke="#000" stroke-width="1.5"/>
<line x1="325.4" y1="12.8" x2="325.4" y2="19.6" stroke="#000" stroke-width="1.5"/>
<line x1="344.3" y1="506.8" x2="344.3" y2="500.3" stroke="#000" stroke-width="1.5"/>
<line x1="344.3" y1="12.8" x2="344.3" y2="19.6" stroke="#000" stroke-width="1.5"/>
<line x1="363.2" y1="506.8" x2="363.2" y2="493.8" stroke="#000" stroke-width="1.5"/>
<line x1="363.2" y1="12.8" x2="363.2" y2="26.3" stroke="#000" stroke-width="1.5"/>
<line x1="382.1" y1="506.8" x2="382.1" y2="500.3" stroke="#000" stroke-width="1.5"/>
<line x1="382.1" y1="12.8" x2="382.1" y2="19.6" stroke="#000" stroke-width="1.5"/>
<line x1="401.0" y1="506.8" x2="401.0" y2="500.3" stroke="#000" stroke-width="1.5"/>
<line x1="401.0" y1="12.8" x2="401.0" y2="19.6" stroke="#000" stroke-width="1.5"/>
<line x1="419.9" y1="506.8" x2="419.9" y2="500.3" stroke="#000" stroke-width="1.5"/>
<line x1="419.9" y1="12.8" x2="419.9" y2="19.6" stroke="#000" stroke-width="1.5"/>
<line x1="438.8" y1="506.8" x2="438.8" y2="500.3" stroke="#000" stroke-width="1.5"/>
<line x1="438.8" y1="12.8" x2="438.8" y2="19.6" stroke="#000" stroke-width="1.5"/>
<line x1="457.7" y1="506.8" x2="457.7" y2="493.8" stroke="#000" stroke-width="1.5"/>
<line x1="457.7" y1="12.8" x2="457.7" y2="26.3" stroke="#000" stroke-width="1.5"/>
<line x1="476.6" y1="506.8" x2="476.6" y2="500.3" stroke="#000" stroke-width="1.5"/>
<line x1="476.6" y1="12.8" x2="476.6" y2="19.6" stroke="#000" stroke-width="1.5"/>
<line x1="495.5" y1="506.8" x2="495.5" y2="500.3" stroke="#000" stroke-width="1.5"/>
<line x1="495.5" y1="12.8" x2="495.5" y2="19.6" stroke="#000" stroke-width="1.5"/>
<line x1="514.4" y1="506.8" x2="514.4" y2="500.3" stroke="#000" stroke-width="1.5"/>
<line x1="514.4" y1="12.8" x2="514.4" y2="19.6" stroke="#000" stroke-width="1.5"/>
<line x1="61.0" y1="263.2" x2="68.0" y2="263.2" stroke="#000" stroke-width="1.5"/>
<line x1="533.3" y1="263.2" x2="526.3" y2="263.2" stroke="#000" stroke-width="1.5"/>
<line x1="61.0" y1="229.9" x2="74.0" y2="229.9" stroke="#000" stroke-width="1.5"/>
<line x1="533.3" y1="229.9" x2="520.3" y2="229.9" stroke="#000" stroke-width="1.5"/>
<line x1="61.0" y1="196.5" x2="68.0" y2="196.5" stroke="#000" stroke-width="1.5"/>
<line x1="533.3" y1="196.5" x2="526.3" y2="196.5" stroke="#000" stroke-width="1.5"/>
<line x1="61.0" y1="163.2" x2="74.0" y2="163.2" stroke="#000" stroke-width="1.5"/>
<line x1="533.3" y1="163.2" x2="520.3" y2="163.2" stroke="#000" stroke-width="1.5"/>
<line x1="61.0" y1="129.8" x2="68.0" y2="129.8" stroke="#000" stroke-width="1.5"/>
<line x1="533.3" y1="129.8" x2="526.3" y2="129.8" stroke="#000" stroke-width="1.5"/>
<line x1="61.0" y1="96.5" x2="74.0" y2="96.5" stroke="#000" stroke-width="1.5"/>
<line x1="533.3" y1="96.5" x2="520.3" y2="96.5" stroke="#000" stroke-width="1.5"/>
<line x1="61.0" y1="63.1" x2="68.0" y2="63.1" stroke="#000" stroke-width="1.5"/>
<line x1="533.3" y1="63.1" x2="526.3" y2="63.1" stroke="#000" stroke-width="1.5"/>
<line x1="61.0" y1="29.8" x2="74.0" y2="29.8" stroke="#000" stroke-width="1.5"/>
<line x1="533.3" y1="29.8" x2="520.3" y2="29.8" stroke="#000" stroke-width="1.5"/>
<line x1="61.0" y1="506.7" x2="74.0" y2="506.7" stroke="#000" stroke-width="1.5"/>
<line x1="533.3" y1="506.7" x2="520.3" y2="506.7" stroke="#000" stroke-width="1.5"/>
<line x1="61.0" y1="483.5" x2="68.0" y2="483.5" stroke="#000" stroke-width="1.5"/>
<line x1="533.3" y1="483.5" x2="526.3" y2="483.5" stroke="#000" stroke-width="1.5"/>
<line x1="61.0" y1="460.2" x2="68.0" y2="460.2" stroke="#000" stroke-width="1.5"/>
<line x1="533.3" y1="460.2" x2="526.3" y2="460.2" stroke="#000" stroke-width="1.5"/>
<line x1="61.0" y1="437.0" x2="68.0" y2="437.0" stroke="#000" stroke-width="1.5"/>
<line x1="533.3" y1="437.0" x2="526.3" y2="437.0" stroke="#000" stroke-width="1.5"/>
<line x1="61.0" y1="413.8" x2="68.0" y2="413.8" stroke="#000" stroke-width="1.5"/>
<line x1="533.3" y1="413.8" x2="526.3" y2="413.8" stroke="#000" stroke-width="1.5"/>
<line x1="61.0" y1="390.5" x2="74.0" y2="390.5" stroke="#000" stroke-width="1.5"/>
<line x1="533.3" y1="390.5" x2="520.3" y2="390.5" stroke="#000" stroke-width="1.5"/>
<line x1="61.0" y1="367.3" x2="68.0" y2="367.3" stroke="#000" stroke-width="1.5"/>
<line x1="533.3" y1="367.3" x2="526.3" y2="367.3" stroke="#000" stroke-width="1.5"/>
<line x1="61.0" y1="344.1" x2="68.0" y2="344.1" stroke="#000" stroke-width="1.5"/>
<line x1="533.3" y1="344.1" x2="526.3" y2="344.1" stroke="#000" stroke-width="1.5"/>
<line x1="61.0" y1="320.9" x2="68.0" y2="320.9" stroke="#000" stroke-width="1.5"/>
<line x1="533.3" y1="320.9" x2="526.3" y2="320.9" stroke="#000" stroke-width="1.5"/>
<line x1="61.0" y1="297.6" x2="68.0" y2="297.6" stroke="#000" stroke-width="1.5"/>
<line x1="533.3" y1="297.6" x2="526.3" y2="297.6" stroke="#000" stroke-width="1.5"/>
<line x1="61.0" y1="274.4" x2="74.0" y2="274.4" stroke="#000" stroke-width="1.5"/>
<line x1="533.3" y1="274.4" x2="520.3" y2="274.4" stroke="#000" stroke-width="1.5"/>
<line x1="61.0" y1="12.8" x2="61.0" y2="263.5" stroke="#000" stroke-width="1.5"/>
<line x1="533.3" y1="12.8" x2="533.3" y2="263.5" stroke="#000" stroke-width="1.5"/>
<line x1="60.2" y1="12.8" x2="534.0" y2="12.8" stroke="#000" stroke-width="1.5"/>
<line x1="61.0" y1="274.4" x2="61.0" y2="507.6" stroke="#000" stroke-width="1.5"/>
<line x1="533.3" y1="274.4" x2="533.3" y2="507.6" stroke="#000" stroke-width="1.5"/>
<line x1="60.2" y1="506.8" x2="534.0" y2="506.8" stroke="#000" stroke-width="1.5"/>
<path d="M138.4,14.6 L141.3,15.3 L145.4,16.3 L150.1,17.5 L154.5,18.5 L158.6,19.4 L162.7,20.2 L166.8,21.1 L170.9,22.1 L175.0,23.4 L179.1,24.8 L183.2,26.2 L187.3,27.5 L191.4,28.5 L195.5,29.3 L199.5,30.1 L203.6,31.2 L207.7,32.7 L211.8,34.4 L216.0,36.1 L220.0,37.7 L224.0,39.0 L227.9,40.2 L231.7,41.5 L235.6,42.8 L238.7,44.0 L241.4,45.1 L245.0,46.7 L250.9,49.4 L260.9,54.1 L273.7,60.1 L286.5,66.2 L296.5,70.9 L302.4,73.8 L305.8,75.6 L308.4,76.9 L311.8,78.3 L316.5,79.8 L321.5,81.1 L326.6,82.4 L331.5,84.0 L336.1,86.0 L340.7,88.3 L345.0,90.7 L349.0,92.7 L352.5,94.3 L355.5,95.6 L358.5,96.9 L362.0,98.4 L366.1,100.1 L370.6,102.0 L375.2,104.0 L379.5,105.8 L383.4,107.5 L387.1,109.1 L390.9,110.7 L394.8,112.4 L399.1,114.3 L403.7,116.4 L408.2,118.4 L412.3,120.3 L415.8,121.9 L418.9,123.3 L421.9,124.7 L425.4,126.4 L429.5,128.4 L434.0,130.6 L438.5,132.9 L442.8,135.1 L446.7,137.1 L450.4,139.0 L454.1,141.0 L458.0,143.0 L462.3,145.1 L466.8,147.3 L471.3,149.6 L475.6,151.7 L479.5,153.7 L483.3,155.6 L487.0,157.5 L490.9,159.6 L495.5,162.1 L500.6,164.9 L505.1,167.4 L508.3,169.2" fill="none" stroke="#0000ff" stroke-width="4" stroke-linejoin="round" stroke-dasharray="14.5 20.41" stroke-linecap="round" stroke-dashoffset="1.4" clip-path="url(#cu)"/>
<path d="M76.8,500.3 L94.4,500.0 L119.9,499.6 L147.3,499.1 L170.9,498.6 L188.9,498.2 L204.5,497.7 L219.3,497.3 L234.5,496.8 L250.6,496.3 L266.7,495.7 L282.9,495.1 L299.0,494.5 L315.1,493.9 L331.3,493.3 L347.2,492.8 L362.7,492.2 L377.2,491.6 L390.9,491.1 L404.9,490.6 L420.0,490.0 L438.0,489.4 L457.8,488.7 L476.4,488.1 L491.0,487.6 L500.3,487.2 L505.9,487.0 L509.4,486.7 L512.0,486.6" fill="none" stroke="#0000ff" stroke-width="3.8" stroke-linejoin="round" stroke-dasharray="12.5 19.5" stroke-linecap="round" clip-path="url(#cl)"/>
<rect x="257" y="21.8" width="268.3" height="48.2" fill="#fff" stroke="#555" stroke-width="1.2"/><rect x="87.8" y="176.2" width="128.9" height="155.5" fill="#fff" stroke="#000" stroke-width="1.5"/><g font-family="'DejaVu Sans', sans-serif" fill="#000"><text transform="translate(33.17,32.9) scale(1.0455,1.0222)" font-size="15.5" >1.4</text>
<text transform="translate(33.12,99.9) scale(1.076,1.0)" font-size="15.5" >1.2</text>
<text transform="translate(33.16,166.75) scale(1.0514,0.9872)" font-size="15.5" >1.0</text>
<text transform="translate(33.67,233.66) scale(1.0298,0.9787)" font-size="15.5" >0.8</text>
<text transform="translate(21.61,277.66) scale(0.9938,0.9787)" font-size="15.5" >0.10</text>
<text transform="translate(21.69,393.95) scale(1.0054,1.0128)" font-size="15.5" >0.05</text>
<text transform="translate(21.71,509.95) scale(0.9938,0.9872)" font-size="15.5" >0.00</text>
<text transform="translate(64.84,525.56) scale(1.0056,0.9532)" font-size="15.5" >100</text>
<text transform="translate(158.93,525.56) scale(1.0093,0.9532)" font-size="15.5" >150</text>
<text transform="translate(254.09,525.56) scale(0.9863,0.9532)" font-size="15.5" >200</text>
<text transform="translate(348.59,525.56) scale(0.9863,0.9532)" font-size="15.5" >250</text>
<text transform="translate(443.09,525.56) scale(0.9863,0.9532)" font-size="15.5" >300</text>
<text transform="translate(293.3,537.95) scale(0.8824,0.9641)" font-size="16.5" >T (K)</text>
<text transform="translate(184.13,139.6) scale(0.995,1.144)" font-size="16.5" >1.1 kHz</text>
<text transform="translate(316.64,139.32) scale(1.029,1.1216)" font-size="16.5" >6.0 kHz</text>
<text transform="translate(73.27,475.8) scale(0.9552,1.0125)" font-size="22" >R1</text>
<text transform="translate(262.96,264.9) scale(0.96,0.9969)" font-size="22" >R2</text>
<text transform="translate(487.77,449.25) scale(0.9537,0.9818)" font-size="22" >R3</text>
<text transform="translate(275.0,49.06) scale(1.0465,0.9638)" font-size="21" >TMCM-Mn</text>
<text transform="translate(380.71,58.76) scale(0.9728,0.9524)" font-size="17.3" >0.95</text>
<text transform="translate(419.11,48.96) scale(0.9446,0.9677)" font-size="21" >Fe</text>
<text transform="translate(441.72,58.76) scale(0.9617,0.9524)" font-size="17.3" >0.05</text>
<text transform="translate(479.9,49.16) scale(0.8921,0.9785)" font-size="21" >Cl</text>
<text transform="translate(496.77,58.76) scale(1.0424,0.9752)" font-size="17.3" >3</text>
<text transform="translate(92.69,201.19) scale(1.0078,1.0078)" font-size="17" font-family="'Liberation Serif', 'DejaVu Serif', serif" >τ</text>
<text x="101" y="208.1" font-size="7.5" >0</text>
<text transform="translate(129.08,200.96) scale(0.9995,0.9747)" font-size="14.4" >1.4×10</text>
<text x="183.3" y="190.3" font-size="8" >-12</text>
<text transform="translate(201.08,201.15) scale(1.1,1.0182)" font-size="14.4" >s</text>
<text transform="translate(91.71,232.04) scale(1.1338,1.1338)" font-size="14.4" font-style="italic">E/k</text>
<text x="117.6" y="240.4" font-size="7.5" >B</text>
<text transform="translate(129.57,231.66) scale(1.005,0.9747)" font-size="14.4" >3830 K</text>
<text transform="translate(93.29,266.27) scale(1.1096,1.1096)" font-size="17" font-family="'Liberation Serif', 'DejaVu Serif', serif" >α</text>
<text transform="translate(129.34,265.66) scale(1.0612,0.9747)" font-size="14.4" >0.94</text>
<text transform="translate(93.31,290.47) scale(1.1469,1.1469)" font-size="17" font-family="'Liberation Serif', 'DejaVu Serif', serif" >γ</text>
<text transform="translate(129.32,290.76) scale(1.079,0.9747)" font-size="14.4" >0.55</text>
<text transform="translate(93.18,316.46) scale(1.1602,1.1602)" font-size="14.4" font-style="italic">A/k</text>
<text x="119.6" y="325.4" font-size="7.5" >B</text>
<text transform="translate(129.64,316.16) scale(1.0146,0.9747)" font-size="14.4" >400 K</text>
<text transform="translate(22.6,138.3) rotate(-90)" font-size="15.5"><tspan font-style="italic">E</tspan>/<tspan font-style="italic">E</tspan><tspan font-size="10" dy="5">0</tspan></text>
<text transform="translate(28.5,361) rotate(-90)" font-size="15.5">Q<tspan font-size="9" dy="-11.8">-1</tspan></text></g></svg>
</div></body></html>
